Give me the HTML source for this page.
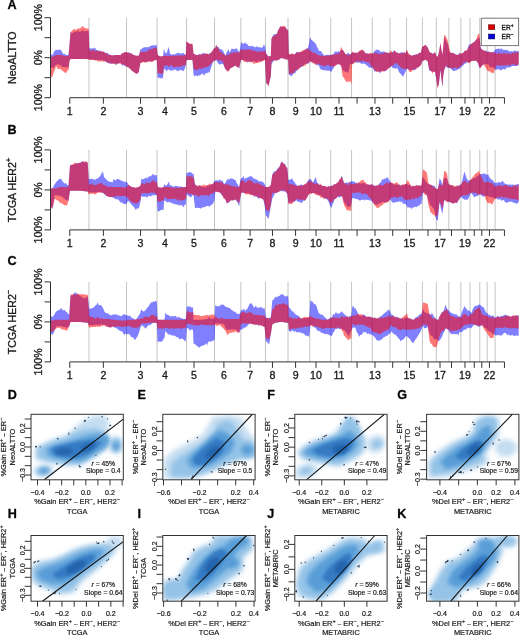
<!DOCTYPE html>
<html><head><meta charset="utf-8"><style>html,body{margin:0;padding:0;background:#fff;}svg{display:block;}</style></head>
<body><svg width="520" height="636" viewBox="0 0 520 636">
<style>text{stroke:#1a1a1a;stroke-width:0.32px;stroke-linejoin:round} text.s{stroke-width:0.2px}</style>
<defs><clipPath id="clipG"><rect x="50.5" y="0" width="468.2" height="636"/></clipPath>
<filter id="b2" x="-50%" y="-50%" width="200%" height="200%"><feGaussianBlur stdDeviation="2"/></filter>
<filter id="b2_2" x="-50%" y="-50%" width="200%" height="200%"><feGaussianBlur stdDeviation="2.2"/></filter>
<filter id="b2_5" x="-50%" y="-50%" width="200%" height="200%"><feGaussianBlur stdDeviation="2.5"/></filter>
<filter id="b3" x="-50%" y="-50%" width="200%" height="200%"><feGaussianBlur stdDeviation="3"/></filter>
<filter id="b3_5" x="-50%" y="-50%" width="200%" height="200%"><feGaussianBlur stdDeviation="3.5"/></filter>
<filter id="b1_5" x="-50%" y="-50%" width="200%" height="200%"><feGaussianBlur stdDeviation="1.5"/></filter>
<filter id="b1" x="-50%" y="-50%" width="200%" height="200%"><feGaussianBlur stdDeviation="1"/></filter>
</defs>
<rect width="520" height="636" fill="#fff"/>
<line x1="88.96" y1="17.7" x2="88.96" y2="97.7" stroke="#c4c4c4" stroke-width="1"/>
<line x1="126.49" y1="17.7" x2="126.49" y2="97.7" stroke="#c4c4c4" stroke-width="1"/>
<line x1="157.05" y1="17.7" x2="157.05" y2="97.7" stroke="#c4c4c4" stroke-width="1"/>
<line x1="186.55" y1="17.7" x2="186.55" y2="97.7" stroke="#c4c4c4" stroke-width="1"/>
<line x1="214.47" y1="17.7" x2="214.47" y2="97.7" stroke="#c4c4c4" stroke-width="1"/>
<line x1="240.88" y1="17.7" x2="240.88" y2="97.7" stroke="#c4c4c4" stroke-width="1"/>
<line x1="265.44" y1="17.7" x2="265.44" y2="97.7" stroke="#c4c4c4" stroke-width="1"/>
<line x1="288.02" y1="17.7" x2="288.02" y2="97.7" stroke="#c4c4c4" stroke-width="1"/>
<line x1="309.81" y1="17.7" x2="309.81" y2="97.7" stroke="#c4c4c4" stroke-width="1"/>
<line x1="330.73" y1="17.7" x2="330.73" y2="97.7" stroke="#c4c4c4" stroke-width="1"/>
<line x1="351.56" y1="17.7" x2="351.56" y2="97.7" stroke="#c4c4c4" stroke-width="1"/>
<line x1="372.22" y1="17.7" x2="372.22" y2="97.7" stroke="#c4c4c4" stroke-width="1"/>
<line x1="389.99" y1="17.7" x2="389.99" y2="97.7" stroke="#c4c4c4" stroke-width="1"/>
<line x1="406.56" y1="17.7" x2="406.56" y2="97.7" stroke="#c4c4c4" stroke-width="1"/>
<line x1="422.38" y1="17.7" x2="422.38" y2="97.7" stroke="#c4c4c4" stroke-width="1"/>
<line x1="436.33" y1="17.7" x2="436.33" y2="97.7" stroke="#c4c4c4" stroke-width="1"/>
<line x1="448.86" y1="17.7" x2="448.86" y2="97.7" stroke="#c4c4c4" stroke-width="1"/>
<line x1="460.9" y1="17.7" x2="460.9" y2="97.7" stroke="#c4c4c4" stroke-width="1"/>
<line x1="470.03" y1="17.7" x2="470.03" y2="97.7" stroke="#c4c4c4" stroke-width="1"/>
<line x1="479.76" y1="17.7" x2="479.76" y2="97.7" stroke="#c4c4c4" stroke-width="1"/>
<line x1="487.18" y1="17.7" x2="487.18" y2="97.7" stroke="#c4c4c4" stroke-width="1"/>
<line x1="495.1" y1="17.7" x2="495.1" y2="97.7" stroke="#c4c4c4" stroke-width="1"/>
<g clip-path="url(#clipG)">
<path d="M50,54.02 L51,54.29 L52,55 L53,54.14 L54,51.81 L55,50.84 L56,49.53 L57,50.12 L58,50.05 L59,49.52 L60,49.64 L61,49.94 L62,52.11 L63,53.61 L64,54.34 L65,53.83 L66,55 L67.25,55 L68.5,55 L69.5,45 L70.5,31.93 L72,33.15 L73,32.93 L74,31.41 L75,31.91 L76,31.29 L77,31.89 L78,30.07 L79,31.44 L80,31.98 L81,31.23 L82,30.89 L83,29.84 L84,31.46 L85,31.19 L86,31.03 L87.35,31.04 L88.7,31.25 L89.3,48.08 L90.65,48.38 L92,48.55 L93,48.2 L94,48.38 L95,47.3 L96,49.69 L97,49.98 L98,50.45 L99,50.92 L100,50.2 L101,51.18 L102,51.64 L103,51.84 L104,51.86 L105,52.68 L106,53.32 L107,52.43 L108,53.52 L109,54.57 L110,54.75 L111,55.12 L112,55.5 L113,55.38 L114,55.25 L115,55.12 L116,55 L117,55 L118,55 L119,55 L120,55 L121,54.73 L122,53.1 L123,53.04 L124,52.84 L125,51.85 L126,52.57 L127,52.46 L128,52.67 L129,52.35 L130,53.43 L131,52.77 L132,54.3 L133,54.66 L134,55 L135.25,55.4 L136.5,55.8 L137.65,55.8 L138.8,55.8 L140.4,49.44 L142,48.67 L143.12,47.85 L144.25,47.3 L145.38,47.2 L146.5,46.97 L147.62,47.59 L148.75,46.99 L149.88,46.21 L151,46.08 L152,45.11 L153,45.45 L154,45.26 L155.4,45.36 L156.8,45.21 L157.6,55 L159,55.75 L160.4,56.5 L161.7,56.25 L163,56 L164,48.49 L165,52.59 L166.5,53.36 L167.65,49.88 L168.8,46.74 L170,53.4 L171.2,54.54 L172.2,54.61 L173.2,54.24 L174.2,54.4 L175.35,54.09 L176.5,53.35 L177.65,53.14 L178.8,52.47 L180,53.87 L181.17,53.53 L182.33,53.16 L183.5,52.9 L184.65,54.15 L185.8,55 L186.5,41.38 L187.53,42.32 L188.57,43.42 L189.6,43.98 L191.05,43.45 L192.5,44.72 L193.5,53.66 L194.77,54.18 L196.03,55.02 L197.3,55 L198.45,54.8 L199.6,54.1 L200.75,54.69 L201.9,53.83 L202.93,53.02 L203.97,53.1 L205,53.54 L206.05,54.11 L207.1,53.72 L208.15,54.67 L209.2,53.3 L210.47,53.16 L211.73,51.68 L213,50.68 L214.07,48.02 L215.13,48.01 L216.2,44.66 L217.35,46.99 L218.5,46.89 L219.65,48.96 L220.8,48.96 L221.9,49.75 L223,50.55 L224.2,53.26 L225.4,55.8 L226.43,53.09 L227.47,50.72 L228.5,48.94 L229.5,52.47 L230.5,50.9 L231.5,48.63 L232.8,48.64 L234.1,49.14 L235.4,48.68 L236.67,48.23 L237.93,50.26 L239.2,52.58 L240.2,47.98 L241.2,41.7 L242.2,43.23 L243.2,43.75 L244.2,43.45 L245.2,42.37 L246.2,43.91 L247.22,43.71 L248.23,45.66 L249.25,45.96 L250.27,46.28 L251.28,46.05 L252.3,45.87 L253.48,46.87 L254.65,46.77 L255.82,47.48 L257,45.9 L258.12,47.54 L259.25,47.09 L260.38,47.42 L261.5,47.76 L262.67,47.35 L263.83,44.58 L265,46.28 L266.2,53.32 L267.35,55.35 L268.5,56.5 L269.65,56.25 L270.8,56 L271.5,38.7 L273,35.44 L274,34.36 L275,34.13 L276,33.69 L277,33.99 L278.1,29.9 L279.2,28.63 L280.2,25.67 L281.2,27.04 L282.2,26.87 L283.2,26.93 L284.2,26.99 L285.35,27.28 L286.5,28.75 L288.2,30.42 L288.8,54.74 L289.87,54.48 L290.93,54.67 L292,53.26 L293,54.45 L294,54.42 L295,54.21 L296.15,52.31 L297.3,52.12 L298.45,52.28 L299.6,52.27 L300.75,52.13 L301.9,51.78 L303.05,51.18 L304.2,50.38 L305.47,49.36 L306.73,48.49 L308,47.63 L309,43.54 L310,37.37 L311.35,39.79 L312.7,40.7 L313.73,42.06 L314.77,42.85 L315.8,43.76 L316.8,46.39 L317.8,47.88 L318.8,50.53 L320,51.15 L321.2,50.91 L322.2,53.29 L323.2,54.15 L324.2,55.8 L325.47,55.27 L326.73,54.73 L328,54.85 L329.07,55.06 L330.13,54.73 L331.2,55 L332.47,54.62 L333.73,53.63 L335,51.62 L336.15,51.44 L337.3,51.64 L338.45,51.37 L339.6,51.82 L341.2,49.63 L342.7,49.91 L343.73,50.83 L344.77,53.57 L345.8,54.32 L346.8,54.18 L347.8,52.41 L348.8,53.42 L350,54.18 L351.6,53.62 L352,52.2 L353,52.41 L354,52.99 L355,52.58 L356,52.96 L357,52.96 L358,52.21 L359.07,51.81 L360.15,50.75 L361.23,51.38 L362.3,49.89 L363.33,50.38 L364.37,52.22 L365.4,53.34 L366.67,53.51 L367.93,53.28 L369.2,53.99 L370.23,53.79 L371.27,53.54 L372.3,54 L373.45,52.51 L374.6,50.67 L375.63,50.56 L376.67,49.6 L377.7,50.05 L378.85,49.5 L380,51.39 L381.15,51.67 L382.3,51.89 L383.45,51.21 L384.6,51.82 L385.75,52.21 L386.9,52.45 L388.2,52.71 L389.5,53.15 L390.8,52.96 L391.9,51.39 L393,51.99 L394.6,50.23 L395.8,52.23 L397,52.23 L398.27,53.13 L399.53,53.39 L400.8,52.62 L401.9,52.06 L403,52.4 L404.2,53.33 L405.4,53.55 L406.9,50.29 L408,53.87 L409.17,54.96 L410.33,55.03 L411.5,55.8 L412.68,55.4 L413.85,55 L415.02,54.83 L416.2,53.97 L417.35,54.46 L418.5,53.36 L419.65,52.43 L420.8,53.37 L422.3,46.49 L423.33,46.21 L424.37,45.9 L425.4,45.08 L426.55,45.96 L427.7,47.39 L429.2,51.82 L430.23,52.79 L431.27,52.47 L432.3,53.57 L433.65,53.45 L435,51.96 L436.3,56 L437.4,57 L438.7,53.28 L440.5,43.68 L441.5,50.7 L442.4,55 L443.3,48.21 L444.2,37.14 L446,40.42 L447.8,44.52 L449.7,52.97 L451.05,52.87 L452.4,53.05 L453.6,52.47 L454.8,54.14 L456,54.79 L457.15,54.65 L458.3,54.84 L459.45,52.3 L460.6,54.9 L462,53.6 L463.4,52.4 L464.6,51.12 L465.8,50.54 L467,51.08 L468.4,45.83 L469.8,44.31 L471,44.34 L472.2,43.17 L473.4,42.55 L474.8,41.21 L476.2,39.66 L478,38.23 L479.4,37.29 L480.7,47.5 L482.1,49.61 L483.5,50.95 L484.7,50.85 L485.9,50.3 L487.1,51.92 L488.33,50.88 L489.57,52.29 L490.8,52.54 L492.15,51.64 L493.5,52.24 L495.3,49.48 L496.45,48.91 L497.6,49.09 L498.75,48.23 L499.9,49.46 L501,48.2 L502.1,48.9 L503.2,49.98 L504.3,49.64 L505.4,49.95 L506.5,49.69 L507.6,50.52 L508.7,50.51 L509.8,51.73 L510.9,50.89 L511.98,51.18 L513.06,51.8 L514.14,50.53 L515.22,50.49 L516.3,51.23 L517.53,50.89 L518.77,50.69 L520,50.43 L520,64.41 L518.77,65.11 L517.53,65.94 L516.3,66.06 L515.22,65.94 L514.14,65.88 L513.06,66.12 L511.98,66.23 L510.9,66.85 L509.8,67.41 L508.7,67.42 L507.6,67.38 L506.5,67.53 L505.4,69.73 L504.3,69.3 L503.2,68.99 L502.1,69.45 L501,70.47 L499.9,70.05 L498.75,69.06 L497.6,69.23 L496.45,69.65 L495.3,69.73 L493.5,67.61 L492.15,67.09 L490.8,67.81 L489.57,66.53 L488.33,64.83 L487.1,63.64 L485.9,64.27 L484.7,63.72 L483.5,64.48 L482.1,65.72 L480.7,67.2 L479.4,68 L478,62.88 L476.2,60.7 L474.8,60.7 L473.4,60.7 L472.2,60.7 L471,61.34 L469.8,61.92 L468.4,62.83 L467,62.09 L465.8,63.64 L464.6,63.41 L463.4,65.18 L462,66.37 L460.6,67.7 L459.45,68.63 L458.3,69.37 L457.15,69.92 L456,70.19 L454.8,70.68 L453.6,71.25 L452.4,70.37 L451.05,68.65 L449.7,67.92 L447.8,68 L446,66.17 L444.2,70.05 L443.3,75.56 L442.4,86.96 L441.5,79.83 L440.5,70.17 L438.7,85.43 L437.4,86.45 L436.3,78.64 L435,72.07 L433.65,71.58 L432.3,71.89 L431.27,70.91 L430.23,71.11 L429.2,70.4 L427.7,61 L426.55,60.4 L425.4,59.6 L424.37,60.13 L423.33,60.67 L422.3,61.36 L420.8,65.28 L419.65,65.87 L418.5,67.52 L417.35,67.5 L416.2,68.56 L415.02,70.37 L413.85,70.17 L412.68,69.51 L411.5,70.51 L410.33,69.79 L409.17,70.04 L408,68.94 L406.9,68.51 L405.4,72.03 L404.2,74.43 L403,76.63 L401.9,75.28 L400.8,74.02 L399.53,72.84 L398.27,70.47 L397,67.58 L395.8,68.99 L394.6,68.22 L393,68.23 L391.9,66.88 L390.8,66.15 L389.5,67.88 L388.2,68.28 L386.9,69.96 L385.75,70.51 L384.6,71.75 L383.45,70.87 L382.3,70.7 L381.15,71.19 L380,73.67 L378.85,71.22 L377.7,71.52 L376.67,71.32 L375.63,71.18 L374.6,71.7 L373.45,69.14 L372.3,67.64 L371.27,67.82 L370.23,67.59 L369.2,67.64 L367.93,66.16 L366.67,65.35 L365.4,64.14 L364.37,63.71 L363.33,63.19 L362.3,63.96 L361.23,63.83 L360.15,62.7 L359.07,62.33 L358,63.08 L357,62.53 L356,62.44 L355,62.04 L354,62.6 L353,63.66 L352,64.18 L351.6,63.63 L350,64.3 L348.8,71.37 L347.8,73.14 L346.8,71.5 L345.8,72.14 L344.77,71.61 L343.73,70.37 L342.7,71.26 L341.2,65 L339.6,64.67 L338.45,63.98 L337.3,64.31 L336.15,64.72 L335,65.24 L333.73,67.64 L332.47,69.4 L331.2,72.32 L330.13,70.86 L329.07,70.86 L328,70.5 L326.73,70.96 L325.47,70 L324.2,70.52 L323.2,70.05 L322.2,69.71 L321.2,69.67 L320,68.19 L318.8,65.28 L317.8,65.28 L316.8,65.32 L315.8,63.56 L314.77,63.45 L313.73,62.97 L312.7,62.12 L311.35,62.16 L310,60.77 L309,62.91 L308,63.84 L306.73,63.5 L305.47,64.33 L304.2,64.35 L303.05,66.34 L301.9,66.62 L300.75,67.44 L299.6,67.72 L298.45,68.7 L297.3,70.38 L296.15,71.24 L295,73.81 L294,72.72 L293,74.55 L292,75.47 L290.93,76.57 L289.87,74.64 L288.8,74.8 L288.2,59.6 L286.5,59.6 L285.35,59.2 L284.2,58.8 L283.2,58.53 L282.2,58.27 L281.2,58 L280.2,58.8 L279.2,59.6 L278.1,60 L277,60.4 L276,60.6 L275,60.09 L274,60.84 L273,61.44 L271.5,64.54 L270.8,76.72 L269.65,80.6 L268.5,86.08 L267.35,84.21 L266.2,83.45 L265,59.6 L263.83,60.07 L262.67,60.53 L261.5,61.44 L260.38,61.31 L259.25,60.83 L258.12,61.28 L257,62.03 L255.82,62.45 L254.65,60.99 L253.48,60.82 L252.3,62.17 L251.28,61.18 L250.27,61.72 L249.25,61.68 L248.23,60.85 L247.22,62.87 L246.2,61.37 L245.2,60.2 L244.2,60.56 L243.2,60.24 L242.2,59.92 L241.2,59.6 L240.2,63.17 L239.2,68.7 L237.93,67.07 L236.67,66.55 L235.4,65.81 L234.1,65.96 L232.8,67.12 L231.5,67.58 L230.5,68.28 L229.5,70.12 L228.5,70.58 L227.47,70.27 L226.43,70.61 L225.4,69.13 L224.2,66.38 L223,63.72 L221.9,64 L220.8,64.29 L219.65,64.38 L218.5,63.67 L217.35,62.08 L216.2,60 L215.13,60.67 L214.07,61.03 L213,61.64 L211.73,65.43 L210.47,69.42 L209.2,72.96 L208.15,72.04 L207.1,73.17 L206.05,73 L205,73.9 L203.97,75.77 L202.93,73.49 L201.9,73.85 L200.75,74.78 L199.6,75.61 L198.45,75.42 L197.3,76.61 L196.03,74.95 L194.77,76.38 L193.5,74.7 L192.5,60 L191.05,60 L189.6,60 L188.57,60 L187.53,60 L186.5,60 L185.8,65.43 L184.65,68.91 L183.5,71.36 L182.33,70.45 L181.17,70.17 L180,70.09 L178.8,70.39 L177.65,71.39 L176.5,70.3 L175.35,69.56 L174.2,69.83 L173.2,70.74 L172.2,69.61 L171.2,71.41 L170,70.06 L168.8,69.41 L167.65,69.64 L166.5,71.47 L165,69.01 L164,69.16 L163,77.61 L161.7,78.84 L160.4,77.97 L159,77.68 L157.6,77.86 L156.8,59.6 L155.4,60.3 L154,60.36 L153,61.54 L152,60.54 L151,61.81 L149.88,60.72 L148.75,61.7 L147.62,61.47 L146.5,61.78 L145.38,61.67 L144.25,62.6 L143.12,61.42 L142,61.64 L140.4,63.03 L138.8,71.51 L137.65,73.3 L136.5,73.92 L135.25,72.85 L134,72.17 L133,71.38 L132,70.89 L131,69.3 L130,68.74 L129,67.49 L128,66.63 L127,67.01 L126,65.84 L125,66.38 L124,65.04 L123,64.45 L122,66.31 L121,62.85 L120,63.36 L119,63.42 L118,63.4 L117,63.27 L116,64.86 L115,64.45 L114,63.53 L113,63.21 L112,63.56 L111,63.89 L110,63.54 L109,63.46 L108,62.75 L107,62.52 L106,61.92 L105,60.9 L104,60.5 L103,60.38 L102,60.25 L101,60.12 L100,60 L99,60 L98,60 L97,60 L96,60 L95,59.88 L94,59.75 L93,59.62 L92,59.5 L90.65,59.5 L89.3,59.5 L88.7,59 L87.35,59 L86,59 L85,59 L84,59 L83,59 L82,59 L81,59 L80,59 L79,59 L78,59 L77,59 L76,59 L75,59 L74,59 L73,59 L72,59 L70.5,59 L69.5,60.6 L68.5,67.73 L67.25,67.05 L66,67.69 L65,67.05 L64,67.01 L63,66.8 L62,67.42 L61,65.03 L60,65.27 L59,65.18 L58,63.3 L57,64.96 L56,64.43 L55,65.71 L54,67.71 L53,67.62 L52,68.08 L51,67.62 L50,65.53Z" fill="#0000ff" fill-opacity="0.5"/>
<path d="M50,56 L51,56.5 L52,57 L53,56.5 L54,56 L55,55.5 L56,55 L57,55 L58,55 L59,55 L60,55 L61,55 L62,55 L63,55.5 L64,56 L65,56 L66,56 L67.25,56 L68.5,56 L69.5,44.71 L70.5,32.35 L72,30.85 L73,29.92 L74,28.72 L75,29.5 L76,29.66 L77,29.01 L78,28.44 L79,28.25 L80,28.7 L81,27.57 L82,26.39 L83,25.95 L84,27.7 L85,28.08 L86,28.17 L87.35,28.6 L88.7,28.71 L89.3,49.82 L90.65,50.66 L92,50.28 L93,49.1 L94,50.71 L95,50.81 L96,51.01 L97,50.48 L98,50.95 L99,51.28 L100,51.18 L101,51.71 L102,51.53 L103,51.25 L104,52.03 L105,52.97 L106,53.02 L107,53.93 L108,54.68 L109,55.01 L110,54.75 L111,55.12 L112,55.5 L113,55.38 L114,55.25 L115,55.12 L116,55 L117,55 L118,55 L119,55 L120,55 L121,55.11 L122,52.84 L123,53.66 L124,52.72 L125,52.1 L126,52.37 L127,51.92 L128,53 L129,52.55 L130,53.68 L131,53.73 L132,53.11 L133,55.12 L134,55 L135.25,55.4 L136.5,55.8 L137.65,55.8 L138.8,55.8 L140.4,51.13 L142,52.25 L143.12,52.04 L144.25,51.6 L145.38,52.06 L146.5,51.68 L147.62,50.76 L148.75,49.19 L149.88,49.51 L151,49.37 L152,48.83 L153,48.58 L154,47.92 L155.4,48.11 L156.8,47.71 L157.6,55 L159,55.75 L160.4,56.5 L161.7,56.25 L163,56 L164,55.8 L165,55.8 L166.5,55.8 L167.65,55.8 L168.8,55.8 L170,55.8 L171.2,55.8 L172.2,55.8 L173.2,55.8 L174.2,55.8 L175.35,55.72 L176.5,55.65 L177.65,55.58 L178.8,55.5 L180,55.5 L181.17,55.5 L182.33,55.5 L183.5,55.5 L184.65,55.25 L185.8,55 L186.5,41.62 L187.53,42.35 L188.57,42.87 L189.6,43.81 L191.05,44.04 L192.5,43.39 L193.5,53.26 L194.77,54.49 L196.03,54.88 L197.3,55 L198.45,54.8 L199.6,54.72 L200.75,54.2 L201.9,54.87 L202.93,53.98 L203.97,54.15 L205,53.9 L206.05,52.89 L207.1,53.79 L208.15,54.02 L209.2,54.84 L210.47,52.82 L211.73,52.23 L213,49.29 L214.07,48.8 L215.13,47.97 L216.2,45.61 L217.35,47.02 L218.5,48.43 L219.65,50.73 L220.8,52.36 L221.9,52.7 L223,53.86 L224.2,53.93 L225.4,55.8 L226.43,55.27 L227.47,54.73 L228.5,54.47 L229.5,54.59 L230.5,53.7 L231.5,52.05 L232.8,53.13 L234.1,52.17 L235.4,51.75 L236.67,52.94 L237.93,51.76 L239.2,52.71 L240.2,50.63 L241.2,49.63 L242.2,49.06 L243.2,50.19 L244.2,49.25 L245.2,50.23 L246.2,49.48 L247.22,49.66 L248.23,48.96 L249.25,49.25 L250.27,50.48 L251.28,48.89 L252.3,51.09 L253.48,50.61 L254.65,50.66 L255.82,51.26 L257,51.82 L258.12,51.84 L259.25,51.59 L260.38,50.92 L261.5,51.57 L262.67,51.49 L263.83,51.37 L265,50.8 L266.2,53.93 L267.35,55.35 L268.5,56.5 L269.65,56.25 L270.8,56 L271.5,38.36 L273,36.31 L274,36.2 L275,35.23 L276,34.56 L277,33.87 L278.1,30.43 L279.2,28.18 L280.2,27.02 L281.2,26.47 L282.2,26.02 L283.2,26.15 L284.2,25.56 L285.35,26.73 L286.5,29.43 L288.2,30.06 L288.8,53.35 L289.87,54.38 L290.93,53.45 L292,53.82 L293,54.3 L294,53.94 L295,53.96 L296.15,53.5 L297.3,51.85 L298.45,52.41 L299.6,52.32 L300.75,51.49 L301.9,50.98 L303.05,50.34 L304.2,50.06 L305.47,49.48 L306.73,49.28 L308,48.29 L309,49.66 L310,50.6 L311.35,51.42 L312.7,52.39 L313.73,52.67 L314.77,53.18 L315.8,53.63 L316.8,53.67 L317.8,55.16 L318.8,55 L320,55.4 L321.2,55.8 L322.2,55.8 L323.2,55.8 L324.2,55.8 L325.47,55.8 L326.73,55.8 L328,55.8 L329.07,55.53 L330.13,55.27 L331.2,55 L332.47,54.73 L333.73,54.75 L335,54.33 L336.15,53.46 L337.3,54.42 L338.45,52.87 L339.6,53.22 L341.2,46.48 L342.7,50.22 L343.73,51.16 L344.77,53.1 L345.8,54.25 L346.8,54.81 L347.8,54.73 L348.8,55 L350,55.2 L351.6,53.25 L352,51.38 L353,52.01 L354,52.7 L355,52.47 L356,52.86 L357,53.19 L358,52.3 L359.07,51.16 L360.15,50.12 L361.23,50.02 L362.3,49.13 L363.33,50.74 L364.37,51.11 L365.4,53.38 L366.67,53.25 L367.93,53.92 L369.2,53.5 L370.23,52.81 L371.27,53.05 L372.3,53.18 L373.45,53.68 L374.6,53.06 L375.63,52.55 L376.67,52.68 L377.7,54.03 L378.85,53.81 L380,54 L381.15,53.44 L382.3,53.28 L383.45,53.5 L384.6,52.74 L385.75,52.1 L386.9,53.18 L388.2,53.28 L389.5,52.33 L390.8,50.34 L391.9,52.18 L393,53.15 L394.6,49.91 L395.8,52.01 L397,52.94 L398.27,53.16 L399.53,53.17 L400.8,53.34 L401.9,53.7 L403,53.36 L404.2,51.7 L405.4,53.18 L406.9,49.53 L408,52.62 L409.17,53.67 L410.33,55.03 L411.5,55.8 L412.68,55.4 L413.85,55 L415.02,55.05 L416.2,54.63 L417.35,54.39 L418.5,54.05 L419.65,52.19 L420.8,53.05 L422.3,46.21 L423.33,46.49 L424.37,45.3 L425.4,44.42 L426.55,46.56 L427.7,47.21 L429.2,51.02 L430.23,52.53 L431.27,53.04 L432.3,54.11 L433.65,53.44 L435,52.1 L436.3,56 L437.4,57 L438.7,53.32 L440.5,42.44 L441.5,49.65 L442.4,55 L443.3,45.01 L444.2,34.78 L446,36.53 L447.8,40.85 L449.7,50.52 L451.05,53.11 L452.4,52.92 L453.6,53.38 L454.8,53.65 L456,54.83 L457.15,54.63 L458.3,54.92 L459.45,54.15 L460.6,52.79 L462,53.24 L463.4,52.98 L464.6,50.95 L465.8,50.36 L467,50.28 L468.4,47.76 L469.8,45.36 L471,44.28 L472.2,42.98 L473.4,42.67 L474.8,41.56 L476.2,39.4 L478,33.93 L479.4,33.8 L480.7,48.38 L482.1,49.84 L483.5,49.68 L484.7,51.06 L485.9,51.4 L487.1,51.76 L488.33,52 L489.57,51.91 L490.8,51.73 L492.15,52.75 L493.5,52.55 L495.3,52.51 L496.45,53.82 L497.6,53.88 L498.75,52.1 L499.9,53.89 L501,52.68 L502.1,53.97 L503.2,53.32 L504.3,52.6 L505.4,53.91 L506.5,53.61 L507.6,52.98 L508.7,53.94 L509.8,53.5 L510.9,53.76 L511.98,53.21 L513.06,52.45 L514.14,53.33 L515.22,51.74 L516.3,52.77 L517.53,52.1 L518.77,52.45 L520,52.32 L520,64.87 L518.77,63.91 L517.53,64.82 L516.3,64.92 L515.22,65.61 L514.14,64.45 L513.06,64.23 L511.98,64.47 L510.9,64.53 L509.8,66.44 L508.7,65 L507.6,64.83 L506.5,65.87 L505.4,64.79 L504.3,66 L503.2,65.35 L502.1,65.18 L501,65.76 L499.9,65.63 L498.75,65.55 L497.6,65.28 L496.45,65.84 L495.3,67.95 L493.5,73.39 L492.15,72.87 L490.8,72.48 L489.57,71.02 L488.33,71.52 L487.1,70.17 L485.9,67.96 L484.7,66.07 L483.5,64.39 L482.1,65.34 L480.7,67.9 L479.4,67.49 L478,63.35 L476.2,60.7 L474.8,60.7 L473.4,60.7 L472.2,60.97 L471,61.23 L469.8,63.17 L468.4,62.64 L467,62 L465.8,61.7 L464.6,62.48 L463.4,62.88 L462,65.06 L460.6,65.71 L459.45,67.82 L458.3,67.42 L457.15,68.86 L456,67.32 L454.8,67.83 L453.6,67.96 L452.4,68.97 L451.05,67.93 L449.7,67.62 L447.8,67.45 L446,65.35 L444.2,69.81 L443.3,75.05 L442.4,87.04 L441.5,79.28 L440.5,69.44 L438.7,85.06 L437.4,88.29 L436.3,78.35 L435,71.43 L433.65,71.71 L432.3,73.43 L431.27,71.18 L430.23,70.01 L429.2,69.48 L427.7,61.75 L426.55,60.4 L425.4,59.6 L424.37,60.13 L423.33,60.67 L422.3,60.67 L420.8,65.53 L419.65,66.48 L418.5,67.31 L417.35,67.52 L416.2,69.13 L415.02,69.04 L413.85,69.26 L412.68,70.33 L411.5,71.48 L410.33,72.33 L409.17,71.44 L408,69.01 L406.9,68.83 L405.4,68.86 L404.2,69.16 L403,68.44 L401.9,68.2 L400.8,68.08 L399.53,65.81 L398.27,65.12 L397,63.39 L395.8,63.05 L394.6,63.78 L393,65.87 L391.9,65.87 L390.8,66.06 L389.5,68.1 L388.2,68.44 L386.9,70.27 L385.75,70.86 L384.6,70.69 L383.45,71.67 L382.3,71.51 L381.15,71.6 L380,71.21 L378.85,72.33 L377.7,71.51 L376.67,72.14 L375.63,70.87 L374.6,70.2 L373.45,68.57 L372.3,66.6 L371.27,66.65 L370.23,64.77 L369.2,62.17 L367.93,62.63 L366.67,61.71 L365.4,62 L364.37,60.95 L363.33,60.75 L362.3,60.9 L361.23,61.39 L360.15,61.44 L359.07,61.77 L358,61.05 L357,61.13 L356,61.43 L355,62.78 L354,62.9 L353,64.59 L352,63.82 L351.6,83.91 L350,81.07 L348.8,82.1 L347.8,81.53 L346.8,82.21 L345.8,81.33 L344.77,79.51 L343.73,77.61 L342.7,76.7 L341.2,66.67 L339.6,63.95 L338.45,64.29 L337.3,64.62 L336.15,65.16 L335,66.56 L333.73,66.14 L332.47,66.07 L331.2,66.59 L330.13,66 L329.07,65.47 L328,65.1 L326.73,65.17 L325.47,65.78 L324.2,65.94 L323.2,66.8 L322.2,64.97 L321.2,65.26 L320,64.96 L318.8,63.63 L317.8,63.49 L316.8,64.33 L315.8,65.09 L314.77,64.17 L313.73,63.33 L312.7,63.25 L311.35,62.01 L310,61.35 L309,62.14 L308,63.58 L306.73,63.17 L305.47,65.66 L304.2,65.43 L303.05,66.57 L301.9,65.83 L300.75,66.87 L299.6,68.33 L298.45,69.49 L297.3,69.8 L296.15,69.85 L295,71.35 L294,71.91 L293,73.97 L292,73.23 L290.93,73.56 L289.87,73.91 L288.8,73.43 L288.2,59.6 L286.5,59.6 L285.35,59.2 L284.2,58.8 L283.2,58.53 L282.2,58.27 L281.2,58 L280.2,58.8 L279.2,59.6 L278.1,60 L277,60.4 L276,60.6 L275,60.28 L274,60.83 L273,60.58 L271.5,61.44 L270.8,76.08 L269.65,81.27 L268.5,86.74 L267.35,83.72 L266.2,82.97 L265,60 L263.83,60.67 L262.67,61.34 L261.5,61.32 L260.38,62.48 L259.25,62.32 L258.12,63.02 L257,63.19 L255.82,62.71 L254.65,63.81 L253.48,63.74 L252.3,62.13 L251.28,62.03 L250.27,62.26 L249.25,62.13 L248.23,61.85 L247.22,61.55 L246.2,62.31 L245.2,61.76 L244.2,61.9 L243.2,60.56 L242.2,60.08 L241.2,59.6 L240.2,63.17 L239.2,67.72 L237.93,67.62 L236.67,67.09 L235.4,65.53 L234.1,66.17 L232.8,67.16 L231.5,67.96 L230.5,67.99 L229.5,69.56 L228.5,71.43 L227.47,71.91 L226.43,69.71 L225.4,68.95 L224.2,66.14 L223,61.99 L221.9,60.81 L220.8,60.4 L219.65,60.45 L218.5,60.5 L217.35,60.05 L216.2,59.6 L215.13,60.13 L214.07,60.67 L213,61.63 L211.73,63.13 L210.47,64.54 L209.2,65.44 L208.15,66.4 L207.1,66.81 L206.05,67.04 L205,67.5 L203.97,68.58 L202.93,67.53 L201.9,68.83 L200.75,69.12 L199.6,68.52 L198.45,69.28 L197.3,69.72 L196.03,70.33 L194.77,69.51 L193.5,68.61 L192.5,60 L191.05,60 L189.6,60 L188.57,60 L187.53,60 L186.5,60 L185.8,65.2 L184.65,65.49 L183.5,65.68 L182.33,65.62 L181.17,66.15 L180,67.01 L178.8,66.94 L177.65,66.37 L176.5,67.11 L175.35,67.16 L174.2,67.19 L173.2,67.09 L172.2,65.77 L171.2,65.35 L170,65.82 L168.8,67.43 L167.65,65.34 L166.5,65.82 L165,65.58 L164,65.89 L163,73.38 L161.7,74.46 L160.4,72.92 L159,72.95 L157.6,73.5 L156.8,59.6 L155.4,60.3 L154,60.45 L153,61.64 L152,62.05 L151,62.01 L149.88,61.79 L148.75,60.95 L147.62,62.59 L146.5,62.08 L145.38,63.01 L144.25,61.93 L143.12,61.98 L142,63.23 L140.4,62.25 L138.8,72.49 L137.65,73.2 L136.5,73.58 L135.25,73.47 L134,72.03 L133,71.43 L132,70.44 L131,70.28 L130,68.14 L129,68.51 L128,67.21 L127,67.13 L126,66 L125,65.27 L124,64.93 L123,64.73 L122,64.02 L121,64.16 L120,62.91 L119,63.35 L118,63.81 L117,64.22 L116,64.7 L115,63 L114,63.84 L113,63.86 L112,64.02 L111,63.13 L110,62.98 L109,62.87 L108,63.52 L107,62.01 L106,61.74 L105,61.09 L104,62.21 L103,61.57 L102,60.48 L101,61.96 L100,61.52 L99,60.96 L98,62.05 L97,60.62 L96,60.5 L95,60.38 L94,60.25 L93,60.12 L92,60 L90.65,60 L89.3,60 L88.7,59.5 L87.35,59.25 L86,59 L85,59 L84,59 L83,59 L82,59 L81,59 L80,59 L79,59 L78,59 L77,59 L76,59 L75,59 L74,59 L73,59 L72,59 L70.5,59 L69.5,61.54 L68.5,70.14 L67.25,70.87 L66,73.58 L65,72.45 L64,72.18 L63,70.79 L62,70.66 L61,69.3 L60,69 L59,68.54 L58,69.58 L57,67.43 L56,66.33 L55,69.52 L54,71.47 L53,74.64 L52,77.57 L51,76.9 L50,75.38Z" fill="#ff0000" fill-opacity="0.53"/>
</g>
<path d="M50.5,17.7 V97.7" stroke="#333" stroke-width="1" fill="none"/>
<line x1="44.5" y1="17.7" x2="50.5" y2="17.7" stroke="#333" stroke-width="1"/>
<line x1="44.5" y1="37.7" x2="50.5" y2="37.7" stroke="#333" stroke-width="1"/>
<line x1="44.5" y1="57.7" x2="50.5" y2="57.7" stroke="#333" stroke-width="1"/>
<line x1="44.5" y1="77.7" x2="50.5" y2="77.7" stroke="#333" stroke-width="1"/>
<line x1="44.5" y1="97.7" x2="50.5" y2="97.7" stroke="#333" stroke-width="1"/>
<text transform="translate(41.6,17.7) rotate(-90)" text-anchor="middle" font-size="10.6" fill="#1a1a1a" font-family="Liberation Sans, Arial, sans-serif">100%</text>
<text transform="translate(41.6,57.7) rotate(-90)" text-anchor="middle" font-size="10.6" fill="#1a1a1a" font-family="Liberation Sans, Arial, sans-serif">0%</text>
<text transform="translate(41.6,97.7) rotate(-90)" text-anchor="middle" font-size="10.6" fill="#1a1a1a" font-family="Liberation Sans, Arial, sans-serif">100%</text>
<path d="M69.79,97.7 H504.45" stroke="#333" stroke-width="1" fill="none"/>
<line x1="69.79" y1="97.7" x2="69.79" y2="103.7" stroke="#333" stroke-width="1"/>
<text x="69.79" y="114.5" text-anchor="middle" font-size="10.6" fill="#1a1a1a" font-family="Liberation Sans, Arial, sans-serif">1</text>
<line x1="103.36" y1="97.7" x2="103.36" y2="103.7" stroke="#333" stroke-width="1"/>
<text x="103.36" y="114.5" text-anchor="middle" font-size="10.6" fill="#1a1a1a" font-family="Liberation Sans, Arial, sans-serif">2</text>
<line x1="140.54" y1="97.7" x2="140.54" y2="103.7" stroke="#333" stroke-width="1"/>
<text x="140.54" y="114.5" text-anchor="middle" font-size="10.6" fill="#1a1a1a" font-family="Liberation Sans, Arial, sans-serif">3</text>
<line x1="164.83" y1="97.7" x2="164.83" y2="103.7" stroke="#333" stroke-width="1"/>
<text x="164.83" y="114.5" text-anchor="middle" font-size="10.6" fill="#1a1a1a" font-family="Liberation Sans, Arial, sans-serif">4</text>
<line x1="194.02" y1="97.7" x2="194.02" y2="103.7" stroke="#333" stroke-width="1"/>
<text x="194.02" y="114.5" text-anchor="middle" font-size="10.6" fill="#1a1a1a" font-family="Liberation Sans, Arial, sans-serif">5</text>
<line x1="223.88" y1="97.7" x2="223.88" y2="103.7" stroke="#333" stroke-width="1"/>
<text x="223.88" y="114.5" text-anchor="middle" font-size="10.6" fill="#1a1a1a" font-family="Liberation Sans, Arial, sans-serif">6</text>
<line x1="250.12" y1="97.7" x2="250.12" y2="103.7" stroke="#333" stroke-width="1"/>
<text x="250.12" y="114.5" text-anchor="middle" font-size="10.6" fill="#1a1a1a" font-family="Liberation Sans, Arial, sans-serif">7</text>
<line x1="272.47" y1="97.7" x2="272.47" y2="103.7" stroke="#333" stroke-width="1"/>
<text x="272.47" y="114.5" text-anchor="middle" font-size="10.6" fill="#1a1a1a" font-family="Liberation Sans, Arial, sans-serif">8</text>
<line x1="295.58" y1="97.7" x2="295.58" y2="103.7" stroke="#333" stroke-width="1"/>
<text x="295.58" y="114.5" text-anchor="middle" font-size="10.6" fill="#1a1a1a" font-family="Liberation Sans, Arial, sans-serif">9</text>
<line x1="316.02" y1="97.7" x2="316.02" y2="103.7" stroke="#333" stroke-width="1"/>
<text x="316.02" y="114.5" text-anchor="middle" font-size="10.6" fill="#1a1a1a" font-family="Liberation Sans, Arial, sans-serif">10</text>
<line x1="339.02" y1="97.7" x2="339.02" y2="103.7" stroke="#333" stroke-width="1"/>
<text x="339.02" y="114.5" text-anchor="middle" font-size="10.6" fill="#1a1a1a" font-family="Liberation Sans, Arial, sans-serif">11</text>
<line x1="357.09" y1="97.7" x2="357.09" y2="103.7" stroke="#333" stroke-width="1"/>
<line x1="374.98" y1="97.7" x2="374.98" y2="103.7" stroke="#333" stroke-width="1"/>
<text x="374.98" y="114.5" text-anchor="middle" font-size="10.6" fill="#1a1a1a" font-family="Liberation Sans, Arial, sans-serif">13</text>
<line x1="392.71" y1="97.7" x2="392.71" y2="103.7" stroke="#333" stroke-width="1"/>
<line x1="409.49" y1="97.7" x2="409.49" y2="103.7" stroke="#333" stroke-width="1"/>
<text x="409.49" y="114.5" text-anchor="middle" font-size="10.6" fill="#1a1a1a" font-family="Liberation Sans, Arial, sans-serif">15</text>
<line x1="428.03" y1="97.7" x2="428.03" y2="103.7" stroke="#333" stroke-width="1"/>
<line x1="440.03" y1="97.7" x2="440.03" y2="103.7" stroke="#333" stroke-width="1"/>
<text x="440.03" y="114.5" text-anchor="middle" font-size="10.6" fill="#1a1a1a" font-family="Liberation Sans, Arial, sans-serif">17</text>
<line x1="451.51" y1="97.7" x2="451.51" y2="103.7" stroke="#333" stroke-width="1"/>
<line x1="464.99" y1="97.7" x2="464.99" y2="103.7" stroke="#333" stroke-width="1"/>
<text x="464.99" y="114.5" text-anchor="middle" font-size="10.6" fill="#1a1a1a" font-family="Liberation Sans, Arial, sans-serif">19</text>
<line x1="474.27" y1="97.7" x2="474.27" y2="103.7" stroke="#333" stroke-width="1"/>
<line x1="481.79" y1="97.7" x2="481.79" y2="103.7" stroke="#333" stroke-width="1"/>
<line x1="489.45" y1="97.7" x2="489.45" y2="103.7" stroke="#333" stroke-width="1"/>
<text x="489.45" y="114.5" text-anchor="middle" font-size="10.6" fill="#1a1a1a" font-family="Liberation Sans, Arial, sans-serif">22</text>
<line x1="504.45" y1="97.7" x2="504.45" y2="103.7" stroke="#333" stroke-width="1"/>
<text transform="translate(15.6,57.7) rotate(-90)" text-anchor="middle" font-size="10.6" fill="#1a1a1a" font-family="Liberation Sans, Arial, sans-serif">NeoALTTO</text>
<text x="7.6" y="9" font-size="12.6" font-weight="bold" fill="#000" font-family="Liberation Sans, Arial, sans-serif">A</text>
<line x1="88.96" y1="149.9" x2="88.96" y2="229.9" stroke="#c4c4c4" stroke-width="1"/>
<line x1="126.49" y1="149.9" x2="126.49" y2="229.9" stroke="#c4c4c4" stroke-width="1"/>
<line x1="157.05" y1="149.9" x2="157.05" y2="229.9" stroke="#c4c4c4" stroke-width="1"/>
<line x1="186.55" y1="149.9" x2="186.55" y2="229.9" stroke="#c4c4c4" stroke-width="1"/>
<line x1="214.47" y1="149.9" x2="214.47" y2="229.9" stroke="#c4c4c4" stroke-width="1"/>
<line x1="240.88" y1="149.9" x2="240.88" y2="229.9" stroke="#c4c4c4" stroke-width="1"/>
<line x1="265.44" y1="149.9" x2="265.44" y2="229.9" stroke="#c4c4c4" stroke-width="1"/>
<line x1="288.02" y1="149.9" x2="288.02" y2="229.9" stroke="#c4c4c4" stroke-width="1"/>
<line x1="309.81" y1="149.9" x2="309.81" y2="229.9" stroke="#c4c4c4" stroke-width="1"/>
<line x1="330.73" y1="149.9" x2="330.73" y2="229.9" stroke="#c4c4c4" stroke-width="1"/>
<line x1="351.56" y1="149.9" x2="351.56" y2="229.9" stroke="#c4c4c4" stroke-width="1"/>
<line x1="372.22" y1="149.9" x2="372.22" y2="229.9" stroke="#c4c4c4" stroke-width="1"/>
<line x1="389.99" y1="149.9" x2="389.99" y2="229.9" stroke="#c4c4c4" stroke-width="1"/>
<line x1="406.56" y1="149.9" x2="406.56" y2="229.9" stroke="#c4c4c4" stroke-width="1"/>
<line x1="422.38" y1="149.9" x2="422.38" y2="229.9" stroke="#c4c4c4" stroke-width="1"/>
<line x1="436.33" y1="149.9" x2="436.33" y2="229.9" stroke="#c4c4c4" stroke-width="1"/>
<line x1="448.86" y1="149.9" x2="448.86" y2="229.9" stroke="#c4c4c4" stroke-width="1"/>
<line x1="460.9" y1="149.9" x2="460.9" y2="229.9" stroke="#c4c4c4" stroke-width="1"/>
<line x1="470.03" y1="149.9" x2="470.03" y2="229.9" stroke="#c4c4c4" stroke-width="1"/>
<line x1="479.76" y1="149.9" x2="479.76" y2="229.9" stroke="#c4c4c4" stroke-width="1"/>
<line x1="487.18" y1="149.9" x2="487.18" y2="229.9" stroke="#c4c4c4" stroke-width="1"/>
<line x1="495.1" y1="149.9" x2="495.1" y2="229.9" stroke="#c4c4c4" stroke-width="1"/>
<g clip-path="url(#clipG)">
<path d="M50,188 L51.15,188.25 L52.3,188.5 L53.45,186.46 L54.6,184.18 L55.75,182.65 L56.9,181.33 L57.93,180.44 L58.97,179.37 L60,178.96 L61.15,178.65 L62.3,181.01 L63.45,182.24 L64.6,183.87 L65.75,182.63 L66.9,184.8 L68.5,185.55 L70,165.15 L71.5,164.93 L72.67,164.99 L73.85,164.42 L75.03,163.64 L76.2,163.62 L77.35,162.94 L78.5,163.14 L79.65,163.13 L80.8,162.16 L81.9,161.87 L83,161.01 L84.17,162.02 L85.35,162.61 L86.53,161.83 L87.7,162.8 L88.8,179.13 L90,178.9 L91.15,178.64 L92.3,178.72 L93.45,179.38 L94.6,179.55 L95.75,179.41 L96.9,178.43 L98.05,177.93 L99.2,177.12 L100.47,175.59 L101.73,173.23 L103,171.38 L104,177.06 L105.45,178.51 L106.9,180.08 L108.05,180.93 L109.2,181.85 L110.35,181.68 L111.5,181.95 L112.53,182.44 L113.57,179.02 L114.6,179.98 L115.63,180.44 L116.67,179.33 L117.7,178.96 L118.85,178.96 L120,180.22 L121.15,180.13 L122.3,181.18 L123.6,181.24 L124.9,182.48 L126.2,181.36 L128,183.7 L129.3,185.63 L130.6,185.89 L131.9,187 L133.2,187.27 L134.5,187.53 L135.8,187.8 L136.8,187.53 L137.8,187.27 L138.8,187 L140.5,186.12 L141.2,179.05 L142.47,179.13 L143.73,178.89 L145,178.29 L146.15,177.52 L147.3,178.18 L148.45,176.64 L149.6,176.13 L150.9,176.27 L152.2,174.55 L153.5,174.22 L154.6,175.52 L155.7,174.97 L156.8,175.17 L157.6,187 L158.68,187.2 L159.75,187.4 L160.82,187.6 L161.9,187.8 L163.5,187 L164.2,184.05 L166,186.08 L167.4,184.34 L168.8,181.42 L170,185.45 L171.35,185.18 L172.7,186.46 L173.72,186.75 L174.73,186.28 L175.75,186.11 L176.77,185.89 L177.78,185.97 L178.8,186.68 L179.88,186.66 L180.96,186.27 L182.04,187.01 L183.12,187.36 L184.2,187 L186,187 L186.5,172.68 L187.8,173.1 L189.1,172.01 L190.4,172.18 L191.43,172.62 L192.47,173.89 L193.5,173.59 L195,184.25 L196.27,185.33 L197.53,186.46 L198.8,186.32 L199.83,185.02 L200.87,186.8 L201.9,186.06 L202.93,187.31 L203.97,186.97 L205,187 L206.05,186.9 L207.1,185.63 L208.15,185.14 L209.2,185.72 L210.47,184.91 L211.73,184.31 L213,183.79 L214.6,180.49 L215.4,180.63 L216.55,180.07 L217.7,180.63 L218.85,180.37 L220,179.61 L221.15,181.01 L222.3,180.32 L223.45,183.12 L224.6,183.92 L225.75,182 L226.9,179.92 L228.2,179.07 L229.5,179.67 L230.8,177.65 L231.95,179.07 L233.1,178.45 L234.25,179.96 L235.4,179.79 L236.67,183 L237.93,184.81 L239.2,187 L240.2,180.54 L241.2,178.11 L242.33,178.1 L243.47,175.78 L244.6,179.19 L245.68,177.73 L246.76,178.22 L247.84,177.08 L248.92,176.99 L250,175.9 L251.27,176.3 L252.53,177.24 L253.8,178.41 L254.88,179.03 L255.96,179.21 L257.04,179.79 L258.12,180.76 L259.2,181.41 L260.35,181.3 L261.5,181.46 L262.65,181.79 L263.8,182.64 L264.8,184.61 L265.8,187 L267.15,187 L268.5,187 L269.65,186.55 L270.8,185.07 L272.3,174.65 L273.33,172.51 L274.37,171.12 L275.4,171.84 L276.67,170.1 L277.93,167.93 L279.2,167.29 L280.2,164.89 L281.2,161.78 L282.47,162.07 L283.73,163.83 L285,164.12 L286.15,166.66 L287.3,168.09 L288.5,179.94 L289.67,179.65 L290.83,179.46 L292,177.98 L293.12,180.6 L294.25,181.74 L295.38,183.61 L296.5,185.08 L297.68,186.08 L298.85,185.66 L300.02,185.26 L301.2,184.22 L302.35,185.11 L303.5,185.37 L304.65,184.28 L305.8,184.5 L307.07,182.04 L308.33,180.16 L309.6,178.68 L310.63,179.21 L311.67,180.21 L312.7,182.73 L313.73,181.05 L314.77,178.91 L315.8,176.82 L317,182.69 L318.3,183.17 L319.6,184.91 L320.63,184.99 L321.67,185.23 L322.7,185.68 L323.85,186.17 L325,186.05 L326.15,186.92 L327.3,187 L328.6,185.71 L329.9,186.73 L331.2,185.42 L332.47,185.77 L333.73,184.82 L335,183.9 L336,184.14 L337,182.84 L338,182.76 L339.3,180.2 L340.6,178.87 L341.9,175.44 L343.05,179.8 L344.2,182.99 L345.5,183.1 L346.8,182.39 L348.1,182.42 L349.13,182.54 L350.17,181.71 L351.2,180.95 L352,181.14 L353.14,181.53 L354.28,181.56 L355.42,182.69 L356.56,183.08 L357.7,183.67 L358.85,181.9 L360,183.84 L361.15,183 L362.3,183.56 L363.45,182.92 L364.6,183.1 L365.75,184.41 L366.9,184.37 L368.05,184.27 L369.2,184.85 L370.35,185.11 L371.5,183.94 L372.53,184.96 L373.57,184.82 L374.6,185.85 L375.9,185.89 L377.2,185.56 L378.5,184.78 L379.77,183.08 L381.03,182.05 L382.3,179.1 L383.45,179.82 L384.6,178.36 L385.75,179 L386.9,177 L388.03,178.08 L389.17,180.35 L390.3,181.7 L391.65,183.12 L393,184.36 L394.07,184.42 L395.13,184.54 L396.2,184.39 L397.35,184.52 L398.5,185.01 L399.65,184.31 L400.8,186.07 L401.95,185.12 L403.1,184.95 L404.25,185.03 L405.4,184 L406.55,183.99 L407.7,184.69 L408.97,185.02 L410.23,184.68 L411.5,186.88 L412.53,185.52 L413.57,186.68 L414.6,186.33 L415.63,186.07 L416.67,185.34 L417.7,185.95 L418.97,185.61 L420.23,185.63 L421.5,185.5 L422.8,177.15 L423.9,177.7 L425,180.33 L426.8,182.66 L428.3,183.68 L429.4,184.69 L430.5,185.09 L431.7,184.97 L432.9,185.66 L434.1,185.61 L435.2,187.2 L436.3,189 L437.8,189 L439.6,178.18 L441,180.5 L442.4,185.34 L444.2,177.37 L445.55,178.33 L446.9,178.43 L448.7,184.16 L449.93,185.07 L451.17,184.95 L452.4,186.08 L453.55,186.78 L454.7,186.72 L455.85,186.93 L457,185.96 L458.05,185.21 L459.1,185.94 L460.15,184.15 L461.2,184.64 L462.23,180.64 L463.27,176.16 L464.3,171.43 L465.5,174.84 L466.7,178.34 L467.9,180.45 L469.3,180.49 L470.7,179.83 L471.9,179.71 L473.1,178.21 L474.3,178.35 L475.45,177.54 L476.6,176.5 L477.75,175.99 L478.9,174.99 L480.05,174.29 L481.2,174.01 L482.35,174.06 L483.5,173.61 L484.7,173.47 L485.9,174.3 L487.1,174.97 L488.2,174.32 L489.3,177.07 L490.4,178.49 L491.5,179.78 L492.6,179.84 L493.95,182.33 L495.3,182.96 L496.37,182.7 L497.43,182.81 L498.5,182.1 L499.57,182.2 L500.63,182.55 L501.7,181.81 L502.74,180.41 L503.79,182.71 L504.83,183.62 L505.87,183.91 L506.91,184.2 L507.96,184.77 L509,184.74 L510.04,184.14 L511.09,185.03 L512.13,184.35 L513.17,185.05 L514.21,184.76 L515.26,184.74 L516.3,184.63 L517.53,184.1 L518.77,184.03 L520,184.18 L520,201.49 L518.77,202.43 L517.53,203.06 L516.3,204.01 L515.26,203.08 L514.21,202.67 L513.17,202.6 L512.13,202.06 L511.09,201.61 L510.04,201.87 L509,201.68 L507.96,202.56 L506.91,202.74 L505.87,202.43 L504.83,201.69 L503.79,199.91 L502.74,200.1 L501.7,200.91 L500.63,199.54 L499.57,199.43 L498.5,199.29 L497.43,199.58 L496.37,198.37 L495.3,198.56 L493.95,197.74 L492.6,197.6 L491.5,197.5 L490.4,196.97 L489.3,196.79 L488.2,196.59 L487.1,195.65 L485.9,195.73 L484.7,196.12 L483.5,196.63 L482.35,196.35 L481.2,195.16 L480.05,194.36 L478.9,194.27 L477.75,196.54 L476.6,195.84 L475.45,196.47 L474.3,197.19 L473.1,195.53 L471.9,193.69 L470.7,192.7 L469.3,196.81 L467.9,199.48 L466.7,199.72 L465.5,199.62 L464.3,199.76 L463.27,198.83 L462.23,197.92 L461.2,196.69 L460.15,197.83 L459.1,199.43 L458.05,200.85 L457,203.48 L455.85,202.35 L454.7,202.93 L453.55,203.08 L452.4,203.76 L451.17,202.34 L449.93,202.43 L448.7,201.74 L446.9,201.32 L445.55,200.49 L444.2,200.56 L442.4,214.05 L441,208.67 L439.6,202.23 L437.8,220.72 L436.3,219.87 L435.2,214.65 L434.1,208.82 L432.9,207.96 L431.7,206.14 L430.5,205.43 L429.4,202.6 L428.3,199.84 L426.8,195.29 L425,192.7 L423.9,192.61 L422.8,193.52 L421.5,203.68 L420.23,204.32 L418.97,205.96 L417.7,205.69 L416.67,207.26 L415.63,206.43 L414.6,207.22 L413.57,207.29 L412.53,207.72 L411.5,209.08 L410.23,207.51 L408.97,207.36 L407.7,207.71 L406.55,205.38 L405.4,203.72 L404.25,203.77 L403.1,204 L401.95,201.51 L400.8,202.08 L399.65,201.56 L398.5,201.6 L397.35,201.95 L396.2,202.11 L395.13,202.3 L394.07,202.79 L393,202.66 L391.65,201.78 L390.3,199.34 L389.17,200.43 L388.03,201.22 L386.9,202.6 L385.75,201.79 L384.6,202.6 L383.45,201.94 L382.3,201.68 L381.03,203.27 L379.77,203.36 L378.5,203.84 L377.2,205.17 L375.9,204.13 L374.6,204.22 L373.57,203.51 L372.53,201.78 L371.5,201.19 L370.35,200.29 L369.2,200.5 L368.05,199.71 L366.9,199.88 L365.75,199.32 L364.6,200.73 L363.45,199.61 L362.3,200.02 L361.15,199.67 L360,200.8 L358.85,199.93 L357.7,199.31 L356.56,198.97 L355.42,198.83 L354.28,198.14 L353.14,197.9 L352,198.67 L351.2,205.03 L350.17,207.06 L349.13,206.12 L348.1,207.43 L346.8,205.96 L345.5,203.77 L344.2,202.75 L343.05,198.62 L341.9,195.83 L340.6,197.09 L339.3,197.5 L338,197.06 L337,197.04 L336,198.68 L335,198.83 L333.73,201.8 L332.47,204.73 L331.2,208.33 L329.9,205.32 L328.6,201.7 L327.3,199.68 L326.15,198.73 L325,199.1 L323.85,197.64 L322.7,197.52 L321.67,196.11 L320.63,195.2 L319.6,194.97 L318.3,195.14 L317,193.89 L315.8,193.49 L314.77,193.3 L313.73,192.93 L312.7,192.98 L311.67,193.73 L310.63,193.22 L309.6,192.59 L308.33,195.12 L307.07,197.59 L305.8,199.49 L304.65,200.64 L303.5,200.52 L302.35,202.14 L301.2,203.25 L300.02,202.09 L298.85,201.69 L297.68,201.78 L296.5,200.26 L295.38,200.71 L294.25,202.03 L293.12,201.52 L292,202.94 L290.83,201.78 L289.67,203.61 L288.5,203.42 L287.3,194.35 L286.15,192.35 L285,191.5 L283.73,191.33 L282.47,191.17 L281.2,191 L280.2,191.3 L279.2,191.6 L277.93,192.13 L276.67,192.67 L275.4,192.97 L274.37,194.18 L273.33,196.69 L272.3,198.57 L270.8,206.66 L269.65,213.03 L268.5,219.02 L267.15,217.01 L265.8,215.28 L264.8,206.7 L263.8,201.36 L262.65,199.12 L261.5,198.33 L260.35,197.92 L259.2,198.14 L258.12,198.67 L257.04,196.78 L255.96,196.4 L254.88,196.8 L253.8,195.14 L252.53,195.09 L251.27,194.62 L250,193.82 L248.92,193.17 L247.84,193.33 L246.76,193 L245.68,193.2 L244.6,193.29 L243.47,192.65 L242.33,192.67 L241.2,192.4 L240.2,199.08 L239.2,206.51 L237.93,203.07 L236.67,201.33 L235.4,199.66 L234.25,199.69 L233.1,200.51 L231.95,200.34 L230.8,200.11 L229.5,201.94 L228.2,203.09 L226.9,203.33 L225.75,200.22 L224.6,198.84 L223.45,197.09 L222.3,195.42 L221.15,194.58 L220,192.4 L218.85,192.2 L217.7,192 L216.55,191.8 L215.4,191.6 L214.6,199.66 L213,203.71 L211.73,204.52 L210.47,205.74 L209.2,206.71 L208.15,205.7 L207.1,205.97 L206.05,206.21 L205,207.24 L203.97,206.73 L202.93,207.77 L201.9,207.39 L200.87,208.77 L199.83,207.92 L198.8,208.34 L197.53,207.61 L196.27,208.02 L195,207.97 L193.5,194.95 L192.47,194.98 L191.43,196.88 L190.4,197.2 L189.1,196.26 L187.8,194.97 L186.5,194.22 L186,203.92 L184.2,205.61 L183.12,207.39 L182.04,205.28 L180.96,205 L179.88,205.17 L178.8,205.71 L177.78,204.32 L176.77,204.89 L175.75,203.85 L174.73,204.61 L173.72,203.87 L172.7,203.55 L171.35,202.83 L170,202.54 L168.8,201.71 L167.4,202.59 L166,201.45 L164.2,200.17 L163.5,210.17 L161.9,209.61 L160.82,210.32 L159.75,210.65 L158.68,211.61 L157.6,210.92 L156.8,194.88 L155.7,194.89 L154.6,195.32 L153.5,195.15 L152.2,195.17 L150.9,196.5 L149.6,196.05 L148.45,195.78 L147.3,197.75 L146.15,196.79 L145,196.86 L143.73,196.52 L142.47,196.94 L141.2,195.72 L140.5,201.56 L138.8,208.9 L137.8,207.63 L136.8,208.81 L135.8,210.29 L134.5,207.76 L133.2,206.29 L131.9,204.99 L130.6,203.54 L129.3,201.85 L128,200.67 L126.2,204.54 L124.9,203.77 L123.6,204.02 L122.3,202.81 L121.15,202.44 L120,201.9 L118.85,200.09 L117.7,199.37 L116.67,199.14 L115.63,199.14 L114.6,198.49 L113.57,197.76 L112.53,197.39 L111.5,196.78 L110.35,197 L109.2,197.1 L108.05,195.71 L106.9,196.59 L105.45,195.23 L104,194.08 L103,192.7 L101.73,192.67 L100.47,192.33 L99.2,192 L98.05,192.12 L96.9,192.25 L95.75,192.38 L94.6,192.5 L93.45,192.5 L92.3,192.5 L91.15,192.5 L90,192.5 L88.8,192.5 L87.7,191.6 L86.53,191.45 L85.35,191.3 L84.17,191.15 L83,191 L81.9,190.9 L80.8,190.8 L79.65,190.8 L78.5,190.8 L77.35,190.8 L76.2,190.8 L75.03,190.8 L73.85,190.8 L72.67,190.8 L71.5,190.8 L70,190.8 L68.5,200.91 L66.9,200.17 L65.75,199.7 L64.6,198.81 L63.45,197.92 L62.3,196.66 L61.15,196.66 L60,195.8 L58.97,196.16 L57.93,194.76 L56.9,195.71 L55.75,195.07 L54.6,195.58 L53.45,202.76 L52.3,209.33 L51.15,207.26 L50,204.81Z" fill="#0000ff" fill-opacity="0.5"/>
<path d="M50,188 L51.15,188.25 L52.3,188.5 L53.45,188.5 L54.6,188.5 L55.75,188.25 L56.9,188 L57.93,187.67 L58.97,187.33 L60,187 L61.15,187 L62.3,187 L63.45,187 L64.6,187 L65.75,187.25 L66.9,187.5 L68.5,186.32 L70,165.76 L71.5,164.44 L72.67,164.46 L73.85,163.82 L75.03,162.36 L76.2,163.63 L77.35,163.22 L78.5,162.91 L79.65,162.39 L80.8,162.95 L81.9,161.87 L83,161.72 L84.17,162.22 L85.35,160.94 L86.53,161.7 L87.7,162.6 L88.8,184.65 L90,184.62 L91.15,183.73 L92.3,183.27 L93.45,185.16 L94.6,184.88 L95.75,185.07 L96.9,184.79 L98.05,183.83 L99.2,183.51 L100.47,183.5 L101.73,182.43 L103,184.87 L104,185.07 L105.45,185.38 L106.9,186.56 L108.05,186.82 L109.2,187.31 L110.35,185.9 L111.5,187 L112.53,187 L113.57,187 L114.6,187 L115.63,187 L116.67,187 L117.7,187 L118.85,187 L120,187 L121.15,187 L122.3,187 L123.6,187.27 L124.9,187.53 L126.2,187.8 L128,184.66 L129.3,185.24 L130.6,186.53 L131.9,187 L133.2,187.27 L134.5,187.53 L135.8,187.8 L136.8,187.53 L137.8,187.27 L138.8,187 L140.5,185.28 L141.2,183.49 L142.47,183 L143.73,184.44 L145,184.45 L146.15,181.99 L147.3,183 L148.45,182.82 L149.6,183.08 L150.9,182.49 L152.2,180.22 L153.5,180.54 L154.6,181.47 L155.7,182.15 L156.8,182.01 L157.6,187 L158.68,187.2 L159.75,187.4 L160.82,187.6 L161.9,187.8 L163.5,187 L164.2,187 L166,187 L167.4,187 L168.8,187 L170,187 L171.35,187.4 L172.7,187.8 L173.72,187.8 L174.73,187.8 L175.75,187.8 L176.77,187.8 L177.78,187.8 L178.8,187.8 L179.88,187.64 L180.96,187.48 L182.04,187.32 L183.12,187.16 L184.2,187 L186,187 L186.5,175.74 L187.8,176.32 L189.1,176.4 L190.4,176.22 L191.43,176.18 L192.47,176.7 L193.5,177.13 L195,184.86 L196.27,185.24 L197.53,186.13 L198.8,185.09 L199.83,185.86 L200.87,185.85 L201.9,185.23 L202.93,185.55 L203.97,184.5 L205,185.12 L206.05,185.73 L207.1,184.76 L208.15,185.22 L209.2,183.85 L210.47,183.85 L211.73,184.57 L213,183.81 L214.6,182.49 L215.4,181.91 L216.55,182.07 L217.7,182.12 L218.85,182.76 L220,182 L221.15,182.3 L222.3,182.05 L223.45,184.28 L224.6,183.97 L225.75,184.86 L226.9,183.99 L228.2,185.06 L229.5,184.57 L230.8,185.64 L231.95,186.16 L233.1,186.49 L234.25,185.76 L235.4,186.8 L236.67,186.71 L237.93,187.29 L239.2,187 L240.2,183.13 L241.2,179.81 L242.33,180.5 L243.47,180.28 L244.6,182.85 L245.68,182.23 L246.76,181.65 L247.84,180.5 L248.92,179.73 L250,180.6 L251.27,180.6 L252.53,182.19 L253.8,182.94 L254.88,182.85 L255.96,183.76 L257.04,182.18 L258.12,184.04 L259.2,182.99 L260.35,184.58 L261.5,185.18 L262.65,185.24 L263.8,186 L264.8,186.88 L265.8,187 L267.15,187 L268.5,187 L269.65,185.72 L270.8,185.45 L272.3,174.64 L273.33,173.89 L274.37,172.97 L275.4,171.86 L276.67,170.59 L277.93,169.23 L279.2,167.57 L280.2,164.84 L281.2,162.32 L282.47,162.59 L283.73,163.97 L285,164.25 L286.15,166.64 L287.3,168.92 L288.5,184.57 L289.67,183.48 L290.83,184.47 L292,183.97 L293.12,184.38 L294.25,184.94 L295.38,185.34 L296.5,185.69 L297.68,185.96 L298.85,185.24 L300.02,186.04 L301.2,185.64 L302.35,185.8 L303.5,184.96 L304.65,184.35 L305.8,183.48 L307.07,183.21 L308.33,181.3 L309.6,180.83 L310.63,181.56 L311.67,181.66 L312.7,182.46 L313.73,183.37 L314.77,183.96 L315.8,183.25 L317,183.79 L318.3,184.28 L319.6,185.09 L320.63,183.23 L321.67,185.94 L322.7,185.79 L323.85,185.98 L325,185.97 L326.15,186.57 L327.3,187 L328.6,186.23 L329.9,186.88 L331.2,185.77 L332.47,186.18 L333.73,184.31 L335,184.54 L336,183.82 L337,182.53 L338,182.87 L339.3,179.55 L340.6,178.86 L341.9,176.21 L343.05,180.81 L344.2,183.76 L345.5,183.04 L346.8,184.44 L348.1,185.31 L349.13,183.19 L350.17,182.28 L351.2,184.28 L352,184.45 L353.14,183.77 L354.28,184.05 L355.42,184.01 L356.56,182.28 L357.7,183.4 L358.85,182.71 L360,181.25 L361.15,180.44 L362.3,180 L363.45,180.08 L364.6,181.94 L365.75,182.42 L366.9,184.17 L368.05,184.87 L369.2,184.78 L370.35,184.95 L371.5,183.38 L372.53,185.39 L373.57,185.65 L374.6,185.97 L375.9,185.62 L377.2,185.57 L378.5,185.06 L379.77,183.9 L381.03,185.41 L382.3,185.38 L383.45,184.94 L384.6,184.18 L385.75,183.53 L386.9,181.85 L388.03,183.4 L389.17,183.01 L390.3,182.26 L391.65,182.71 L393,183.03 L394.07,183.69 L395.13,182.98 L396.2,182.48 L397.35,182.31 L398.5,184.15 L399.65,185.18 L400.8,185.63 L401.95,184.61 L403.1,184.34 L404.25,184.62 L405.4,184.14 L406.55,182.46 L407.7,180.06 L408.97,181.78 L410.23,184.4 L411.5,186.21 L412.53,186.42 L413.57,185.39 L414.6,186.09 L415.63,185.54 L416.67,184.98 L417.7,185.65 L418.97,184.99 L420.23,186.1 L421.5,184.69 L422.8,170.11 L423.9,169.6 L425,170.99 L426.8,172.56 L428.3,182.97 L429.4,184.19 L430.5,184.33 L431.7,185.39 L432.9,186.28 L434.1,187.2 L435.2,188.1 L436.3,189 L437.8,189 L439.6,183.44 L441,185.16 L442.4,185.75 L444.2,170.9 L445.55,171.47 L446.9,172.96 L448.7,184.13 L449.93,184.5 L451.17,185.5 L452.4,184.67 L453.55,185.74 L454.7,185.87 L455.85,186.58 L457,185.12 L458.05,186.49 L459.1,185.86 L460.15,184.88 L461.2,184.3 L462.23,182.36 L463.27,181.82 L464.3,180.16 L465.5,181.42 L466.7,182 L467.9,183.85 L469.3,181.62 L470.7,179.74 L471.9,177.66 L473.1,176.9 L474.3,175.11 L475.45,173.44 L476.6,172.93 L477.75,172.15 L478.9,170.79 L480.05,173.2 L481.2,176.6 L482.35,178.45 L483.5,181.9 L484.7,181.96 L485.9,182.26 L487.1,181.96 L488.2,181.85 L489.3,182.19 L490.4,183.25 L491.5,182.84 L492.6,183.37 L493.95,185.21 L495.3,186.82 L496.37,186.86 L497.43,186.05 L498.5,184.75 L499.57,186.12 L500.63,185.47 L501.7,185.73 L502.74,185.63 L503.79,186.05 L504.83,185.02 L505.87,186.12 L506.91,184.69 L507.96,186.22 L509,186.71 L510.04,186.58 L511.09,187 L512.13,186.58 L513.17,186.65 L514.21,185.77 L515.26,185.04 L516.3,186.88 L517.53,184.63 L518.77,184.95 L520,183.17 L520,202.4 L518.77,200.62 L517.53,200.09 L516.3,199.61 L515.26,199.05 L514.21,198.96 L513.17,199.63 L512.13,198.76 L511.09,199.24 L510.04,197.96 L509,199.46 L507.96,198.41 L506.91,197.28 L505.87,197.82 L504.83,196.93 L503.79,199 L502.74,196.73 L501.7,196.72 L500.63,197.17 L499.57,197.39 L498.5,197.37 L497.43,197.53 L496.37,198.08 L495.3,198.63 L493.95,200.77 L492.6,204.1 L491.5,204.46 L490.4,202.88 L489.3,203.34 L488.2,203.07 L487.1,202.2 L485.9,199.6 L484.7,196.41 L483.5,194.4 L482.35,194.72 L481.2,193.79 L480.05,194.26 L478.9,194.63 L477.75,194.64 L476.6,193.05 L475.45,192.64 L474.3,192.7 L473.1,192.7 L471.9,192.7 L470.7,192.7 L469.3,193.57 L467.9,195.17 L466.7,194.7 L465.5,195.28 L464.3,195.61 L463.27,195.01 L462.23,196.33 L461.2,195.69 L460.15,197.62 L459.1,198.95 L458.05,200.99 L457,202.17 L455.85,202.91 L454.7,202.55 L453.55,203.42 L452.4,203.58 L451.17,202.81 L449.93,201.73 L448.7,201.61 L446.9,202.6 L445.55,200.3 L444.2,199.97 L442.4,209.49 L441,204.39 L439.6,201.25 L437.8,214.86 L436.3,216.22 L435.2,216.94 L434.1,214.46 L432.9,214.64 L431.7,213.08 L430.5,212.47 L429.4,207.69 L428.3,204.69 L426.8,194.68 L425,195.32 L423.9,193.23 L422.8,191.6 L421.5,195.68 L420.23,196.24 L418.97,196.84 L417.7,198.8 L416.67,197.51 L415.63,197.6 L414.6,199.4 L413.57,199.2 L412.53,198.61 L411.5,198.7 L410.23,199.75 L408.97,199.5 L407.7,199.9 L406.55,199.54 L405.4,199.92 L404.25,199.58 L403.1,197.6 L401.95,196.62 L400.8,196.41 L399.65,196.28 L398.5,197.25 L397.35,198.18 L396.2,197.28 L395.13,196.93 L394.07,196.89 L393,197.64 L391.65,197.25 L390.3,198.89 L389.17,200.84 L388.03,202.2 L386.9,202.19 L385.75,202.86 L384.6,203.2 L383.45,203.82 L382.3,205.17 L381.03,205.65 L379.77,206.44 L378.5,208.04 L377.2,208.15 L375.9,206.2 L374.6,205.63 L373.57,203.05 L372.53,201.75 L371.5,199.08 L370.35,197.88 L369.2,197.74 L368.05,195.31 L366.9,194.41 L365.75,193.96 L364.6,193.35 L363.45,194.05 L362.3,194.53 L361.15,192.66 L360,192.8 L358.85,192.6 L357.7,192.4 L356.56,192.56 L355.42,192.72 L354.28,192.88 L353.14,193.34 L352,192.52 L351.2,210.58 L350.17,210.68 L349.13,210.14 L348.1,210.47 L346.8,210.36 L345.5,207.84 L344.2,205.52 L343.05,200.9 L341.9,196.25 L340.6,196.07 L339.3,195.96 L338,195.83 L337,197.5 L336,198.76 L335,198.59 L333.73,199.83 L332.47,202.59 L331.2,202.01 L329.9,202.85 L328.6,199.78 L327.3,198.69 L326.15,198.25 L325,198.12 L323.85,199.16 L322.7,197.35 L321.67,197.55 L320.63,197.8 L319.6,196.04 L318.3,195.36 L317,195.13 L315.8,194.77 L314.77,194.12 L313.73,193.29 L312.7,193.11 L311.67,193.48 L310.63,193.7 L309.6,193.9 L308.33,195.08 L307.07,197.37 L305.8,200.09 L304.65,200.41 L303.5,199.51 L302.35,200.05 L301.2,199.32 L300.02,199.76 L298.85,199.88 L297.68,198.97 L296.5,198.91 L295.38,200.19 L294.25,201.21 L293.12,202.21 L292,204.34 L290.83,204.11 L289.67,203.39 L288.5,203.74 L287.3,193.36 L286.15,192 L285,190.8 L283.73,190.53 L282.47,190.27 L281.2,190 L280.2,190.8 L279.2,191.6 L277.93,192.13 L276.67,192.67 L275.4,192.72 L274.37,193.74 L273.33,192.54 L272.3,193.27 L270.8,204.85 L269.65,209.1 L268.5,211.47 L267.15,210.6 L265.8,209.46 L264.8,204.55 L263.8,199.72 L262.65,199.02 L261.5,198.98 L260.35,197.85 L259.2,198.21 L258.12,196.8 L257.04,196.82 L255.96,196.09 L254.88,195.4 L253.8,196.77 L252.53,194.85 L251.27,194.94 L250,195.01 L248.92,194.59 L247.84,193.74 L246.76,194.92 L245.68,193.64 L244.6,193.38 L243.47,192.29 L242.33,192.67 L241.2,192.4 L240.2,197.91 L239.2,202.63 L237.93,202.24 L236.67,200.09 L235.4,199.3 L234.25,200.03 L233.1,200.33 L231.95,200.62 L230.8,200.47 L229.5,201.48 L228.2,201.96 L226.9,203.79 L225.75,200.43 L224.6,198.59 L223.45,198.56 L222.3,195.04 L221.15,193.42 L220,192.4 L218.85,192.2 L217.7,192 L216.55,191.8 L215.4,191.6 L214.6,192 L213,193.53 L211.73,193.81 L210.47,193.94 L209.2,195.14 L208.15,196.5 L207.1,194.95 L206.05,194.63 L205,195.14 L203.97,195.66 L202.93,195.23 L201.9,195.17 L200.87,195.39 L199.83,195.42 L198.8,197.3 L197.53,195.87 L196.27,195.58 L195,194.46 L193.5,195.47 L192.47,194.2 L191.43,193.58 L190.4,194.35 L189.1,194.16 L187.8,192.83 L186.5,192.4 L186,198.44 L184.2,200 L183.12,199.9 L182.04,200.39 L180.96,201.12 L179.88,199.3 L178.8,200.91 L177.78,200.16 L176.77,199.49 L175.75,199.05 L174.73,198.87 L173.72,199.02 L172.7,199.26 L171.35,198.62 L170,198.99 L168.8,199.49 L167.4,199.2 L166,197.5 L164.2,197.23 L163.5,201.17 L161.9,200.14 L160.82,201.25 L159.75,202.06 L158.68,201.25 L157.6,201.69 L156.8,194.44 L155.7,194.01 L154.6,192.67 L153.5,192.4 L152.2,192.67 L150.9,192.43 L149.6,192.74 L148.45,193.63 L147.3,193.06 L146.15,193.23 L145,192.75 L143.73,193.06 L142.47,193.45 L141.2,193.5 L140.5,199.81 L138.8,202.04 L137.8,202.55 L136.8,203.68 L135.8,203.74 L134.5,202.76 L133.2,203.02 L131.9,202.22 L130.6,200.74 L129.3,200.5 L128,197.78 L126.2,197.05 L124.9,196.11 L123.6,195.96 L122.3,195.92 L121.15,195.9 L120,196.14 L118.85,196.36 L117.7,195.8 L116.67,195.8 L115.63,196.16 L114.6,196.66 L113.57,196.75 L112.53,196.79 L111.5,197.2 L110.35,196.66 L109.2,197.21 L108.05,196.83 L106.9,195.93 L105.45,194.6 L104,193.71 L103,192.54 L101.73,192.8 L100.47,192.6 L99.2,192.4 L98.05,192.8 L96.9,193.17 L95.75,194.52 L94.6,194.2 L93.45,193.42 L92.3,194.1 L91.15,193.68 L90,193.38 L88.8,194.86 L87.7,191.6 L86.53,191.45 L85.35,191.3 L84.17,191.15 L83,191 L81.9,190.9 L80.8,190.8 L79.65,190.8 L78.5,190.8 L77.35,190.8 L76.2,190.8 L75.03,190.8 L73.85,190.8 L72.67,190.8 L71.5,190.8 L70,190.8 L68.5,200.49 L66.9,205.76 L65.75,205.16 L64.6,205.29 L63.45,204.39 L62.3,203.63 L61.15,202.48 L60,203.23 L58.97,201.32 L57.93,200.52 L56.9,200.21 L55.75,199.08 L54.6,199.31 L53.45,204.73 L52.3,208.11 L51.15,207.51 L50,206.16Z" fill="#ff0000" fill-opacity="0.53"/>
</g>
<path d="M50.5,149.9 V229.9" stroke="#333" stroke-width="1" fill="none"/>
<line x1="44.5" y1="149.9" x2="50.5" y2="149.9" stroke="#333" stroke-width="1"/>
<line x1="44.5" y1="169.9" x2="50.5" y2="169.9" stroke="#333" stroke-width="1"/>
<line x1="44.5" y1="189.9" x2="50.5" y2="189.9" stroke="#333" stroke-width="1"/>
<line x1="44.5" y1="209.9" x2="50.5" y2="209.9" stroke="#333" stroke-width="1"/>
<line x1="44.5" y1="229.9" x2="50.5" y2="229.9" stroke="#333" stroke-width="1"/>
<text transform="translate(41.6,149.9) rotate(-90)" text-anchor="middle" font-size="10.6" fill="#1a1a1a" font-family="Liberation Sans, Arial, sans-serif">100%</text>
<text transform="translate(41.6,189.9) rotate(-90)" text-anchor="middle" font-size="10.6" fill="#1a1a1a" font-family="Liberation Sans, Arial, sans-serif">0%</text>
<text transform="translate(41.6,229.9) rotate(-90)" text-anchor="middle" font-size="10.6" fill="#1a1a1a" font-family="Liberation Sans, Arial, sans-serif">100%</text>
<path d="M69.79,229.9 H504.45" stroke="#333" stroke-width="1" fill="none"/>
<line x1="69.79" y1="229.9" x2="69.79" y2="235.9" stroke="#333" stroke-width="1"/>
<text x="69.79" y="246.7" text-anchor="middle" font-size="10.6" fill="#1a1a1a" font-family="Liberation Sans, Arial, sans-serif">1</text>
<line x1="103.36" y1="229.9" x2="103.36" y2="235.9" stroke="#333" stroke-width="1"/>
<text x="103.36" y="246.7" text-anchor="middle" font-size="10.6" fill="#1a1a1a" font-family="Liberation Sans, Arial, sans-serif">2</text>
<line x1="140.54" y1="229.9" x2="140.54" y2="235.9" stroke="#333" stroke-width="1"/>
<text x="140.54" y="246.7" text-anchor="middle" font-size="10.6" fill="#1a1a1a" font-family="Liberation Sans, Arial, sans-serif">3</text>
<line x1="164.83" y1="229.9" x2="164.83" y2="235.9" stroke="#333" stroke-width="1"/>
<text x="164.83" y="246.7" text-anchor="middle" font-size="10.6" fill="#1a1a1a" font-family="Liberation Sans, Arial, sans-serif">4</text>
<line x1="194.02" y1="229.9" x2="194.02" y2="235.9" stroke="#333" stroke-width="1"/>
<text x="194.02" y="246.7" text-anchor="middle" font-size="10.6" fill="#1a1a1a" font-family="Liberation Sans, Arial, sans-serif">5</text>
<line x1="223.88" y1="229.9" x2="223.88" y2="235.9" stroke="#333" stroke-width="1"/>
<text x="223.88" y="246.7" text-anchor="middle" font-size="10.6" fill="#1a1a1a" font-family="Liberation Sans, Arial, sans-serif">6</text>
<line x1="250.12" y1="229.9" x2="250.12" y2="235.9" stroke="#333" stroke-width="1"/>
<text x="250.12" y="246.7" text-anchor="middle" font-size="10.6" fill="#1a1a1a" font-family="Liberation Sans, Arial, sans-serif">7</text>
<line x1="272.47" y1="229.9" x2="272.47" y2="235.9" stroke="#333" stroke-width="1"/>
<text x="272.47" y="246.7" text-anchor="middle" font-size="10.6" fill="#1a1a1a" font-family="Liberation Sans, Arial, sans-serif">8</text>
<line x1="295.58" y1="229.9" x2="295.58" y2="235.9" stroke="#333" stroke-width="1"/>
<text x="295.58" y="246.7" text-anchor="middle" font-size="10.6" fill="#1a1a1a" font-family="Liberation Sans, Arial, sans-serif">9</text>
<line x1="316.02" y1="229.9" x2="316.02" y2="235.9" stroke="#333" stroke-width="1"/>
<text x="316.02" y="246.7" text-anchor="middle" font-size="10.6" fill="#1a1a1a" font-family="Liberation Sans, Arial, sans-serif">10</text>
<line x1="339.02" y1="229.9" x2="339.02" y2="235.9" stroke="#333" stroke-width="1"/>
<text x="339.02" y="246.7" text-anchor="middle" font-size="10.6" fill="#1a1a1a" font-family="Liberation Sans, Arial, sans-serif">11</text>
<line x1="357.09" y1="229.9" x2="357.09" y2="235.9" stroke="#333" stroke-width="1"/>
<line x1="374.98" y1="229.9" x2="374.98" y2="235.9" stroke="#333" stroke-width="1"/>
<text x="374.98" y="246.7" text-anchor="middle" font-size="10.6" fill="#1a1a1a" font-family="Liberation Sans, Arial, sans-serif">13</text>
<line x1="392.71" y1="229.9" x2="392.71" y2="235.9" stroke="#333" stroke-width="1"/>
<line x1="409.49" y1="229.9" x2="409.49" y2="235.9" stroke="#333" stroke-width="1"/>
<text x="409.49" y="246.7" text-anchor="middle" font-size="10.6" fill="#1a1a1a" font-family="Liberation Sans, Arial, sans-serif">15</text>
<line x1="428.03" y1="229.9" x2="428.03" y2="235.9" stroke="#333" stroke-width="1"/>
<line x1="440.03" y1="229.9" x2="440.03" y2="235.9" stroke="#333" stroke-width="1"/>
<text x="440.03" y="246.7" text-anchor="middle" font-size="10.6" fill="#1a1a1a" font-family="Liberation Sans, Arial, sans-serif">17</text>
<line x1="451.51" y1="229.9" x2="451.51" y2="235.9" stroke="#333" stroke-width="1"/>
<line x1="464.99" y1="229.9" x2="464.99" y2="235.9" stroke="#333" stroke-width="1"/>
<text x="464.99" y="246.7" text-anchor="middle" font-size="10.6" fill="#1a1a1a" font-family="Liberation Sans, Arial, sans-serif">19</text>
<line x1="474.27" y1="229.9" x2="474.27" y2="235.9" stroke="#333" stroke-width="1"/>
<line x1="481.79" y1="229.9" x2="481.79" y2="235.9" stroke="#333" stroke-width="1"/>
<line x1="489.45" y1="229.9" x2="489.45" y2="235.9" stroke="#333" stroke-width="1"/>
<text x="489.45" y="246.7" text-anchor="middle" font-size="10.6" fill="#1a1a1a" font-family="Liberation Sans, Arial, sans-serif">22</text>
<line x1="504.45" y1="229.9" x2="504.45" y2="235.9" stroke="#333" stroke-width="1"/>
<text transform="translate(15.6,189.9) rotate(-90)" text-anchor="middle" font-size="10.6" fill="#1a1a1a" font-family="Liberation Sans, Arial, sans-serif">TCGA HER2<tspan font-size="75%" baseline-shift="62%">+</tspan></text>
<text x="7.6" y="134.4" font-size="12.6" font-weight="bold" fill="#000" font-family="Liberation Sans, Arial, sans-serif">B</text>
<line x1="88.96" y1="281.9" x2="88.96" y2="361.9" stroke="#c4c4c4" stroke-width="1"/>
<line x1="126.49" y1="281.9" x2="126.49" y2="361.9" stroke="#c4c4c4" stroke-width="1"/>
<line x1="157.05" y1="281.9" x2="157.05" y2="361.9" stroke="#c4c4c4" stroke-width="1"/>
<line x1="186.55" y1="281.9" x2="186.55" y2="361.9" stroke="#c4c4c4" stroke-width="1"/>
<line x1="214.47" y1="281.9" x2="214.47" y2="361.9" stroke="#c4c4c4" stroke-width="1"/>
<line x1="240.88" y1="281.9" x2="240.88" y2="361.9" stroke="#c4c4c4" stroke-width="1"/>
<line x1="265.44" y1="281.9" x2="265.44" y2="361.9" stroke="#c4c4c4" stroke-width="1"/>
<line x1="288.02" y1="281.9" x2="288.02" y2="361.9" stroke="#c4c4c4" stroke-width="1"/>
<line x1="309.81" y1="281.9" x2="309.81" y2="361.9" stroke="#c4c4c4" stroke-width="1"/>
<line x1="330.73" y1="281.9" x2="330.73" y2="361.9" stroke="#c4c4c4" stroke-width="1"/>
<line x1="351.56" y1="281.9" x2="351.56" y2="361.9" stroke="#c4c4c4" stroke-width="1"/>
<line x1="372.22" y1="281.9" x2="372.22" y2="361.9" stroke="#c4c4c4" stroke-width="1"/>
<line x1="389.99" y1="281.9" x2="389.99" y2="361.9" stroke="#c4c4c4" stroke-width="1"/>
<line x1="406.56" y1="281.9" x2="406.56" y2="361.9" stroke="#c4c4c4" stroke-width="1"/>
<line x1="422.38" y1="281.9" x2="422.38" y2="361.9" stroke="#c4c4c4" stroke-width="1"/>
<line x1="436.33" y1="281.9" x2="436.33" y2="361.9" stroke="#c4c4c4" stroke-width="1"/>
<line x1="448.86" y1="281.9" x2="448.86" y2="361.9" stroke="#c4c4c4" stroke-width="1"/>
<line x1="460.9" y1="281.9" x2="460.9" y2="361.9" stroke="#c4c4c4" stroke-width="1"/>
<line x1="470.03" y1="281.9" x2="470.03" y2="361.9" stroke="#c4c4c4" stroke-width="1"/>
<line x1="479.76" y1="281.9" x2="479.76" y2="361.9" stroke="#c4c4c4" stroke-width="1"/>
<line x1="487.18" y1="281.9" x2="487.18" y2="361.9" stroke="#c4c4c4" stroke-width="1"/>
<line x1="495.1" y1="281.9" x2="495.1" y2="361.9" stroke="#c4c4c4" stroke-width="1"/>
<g clip-path="url(#clipG)">
<path d="M50,316.37 L51,316.34 L52,316.77 L53,316.81 L54.07,315.3 L55.13,313.11 L56.2,311.57 L57.47,310.82 L58.73,310.11 L60,309.55 L61.27,307.71 L62.53,310.13 L63.8,310.32 L64.83,309.98 L65.87,311.82 L66.9,312.21 L68.05,313.65 L69.2,314.62 L70.5,296.58 L71.53,294.99 L72.55,295.38 L73.57,293.84 L74.6,292.86 L75.63,292.32 L76.67,293.4 L77.7,294.73 L78.73,294.74 L79.77,295.63 L80.8,296.54 L81.8,296.63 L82.8,297.85 L83.8,298.49 L85.1,298.04 L86.4,297.38 L87.7,295.9 L89.2,308.82 L90.47,308.58 L91.73,308.19 L93,308.11 L94.17,306.66 L95.35,305.4 L96.53,304.7 L97.7,302.49 L98.85,305.5 L100,305.06 L101.15,305.37 L102.3,306.66 L103.45,308.89 L104.6,311.72 L105.9,313.31 L107.2,312.91 L108.5,314.12 L109.52,314.61 L110.53,315.3 L111.55,315.23 L112.57,314.8 L113.58,314.32 L114.6,314.46 L115.63,314.76 L116.67,314.05 L117.7,315.53 L118.73,315.35 L119.77,315.85 L120.8,316.34 L121.95,315.66 L123.1,314.59 L124.25,314.09 L125.4,315.11 L126.7,314.99 L128,315.79 L129.07,315.84 L130.13,315.86 L131.2,317.21 L132.47,318.33 L133.73,318.5 L135,319.8 L136.27,319 L137.53,317.49 L138.8,315.26 L140,313.87 L141.2,309.28 L142.47,310.96 L143.73,311.44 L145,310.86 L146.15,309.23 L147.3,307.61 L148.45,306.72 L149.6,304.48 L150.9,302.44 L152.2,302.51 L153.5,301.17 L154.6,301.92 L155.7,300.86 L156.8,302.24 L157.6,319.8 L158.68,319.8 L159.75,319.8 L160.82,319.8 L161.9,319.8 L163.2,319.8 L164.5,319.8 L165.3,312.52 L166.38,314.31 L167.45,314.71 L168.53,315.22 L169.6,315.63 L170.63,316.49 L171.67,315.98 L172.7,316.01 L173.73,316.83 L174.77,315.65 L175.8,316.04 L176.83,317.25 L177.87,317.5 L178.9,316.61 L179.93,317.94 L180.97,318.13 L182,318.07 L183.27,318.93 L184.53,318.96 L185.8,319 L186.8,306.68 L187.9,306.23 L189,306.75 L190.1,306.25 L191.2,307.47 L193,307.15 L193.5,319.8 L194.77,319.8 L196.03,319.8 L197.3,319.8 L198.45,319.8 L199.6,319.8 L200.75,319.8 L201.9,319.8 L202.97,319.6 L204.05,319.4 L205.12,319.2 L206.2,319 L207.22,319.54 L208.23,317.33 L209.25,317.35 L210.27,318.73 L211.28,318.57 L212.3,318.86 L213.45,318.5 L214.6,318.72 L215.2,305.28 L216.4,305.78 L217.6,306.66 L218.8,305.87 L220,306.17 L221,304.07 L222,305.24 L223,304.33 L224.18,305.48 L225.35,306.42 L226.52,307.3 L227.7,306.99 L228.73,308.18 L229.77,307.74 L230.8,309.4 L231.95,309.96 L233.1,311 L234.25,311.66 L235.4,311.72 L236.67,313.48 L237.93,314.12 L239.2,314.08 L240.2,312.81 L241.2,309.74 L242.2,310.28 L243.2,309.22 L244.2,309.24 L245.2,310.79 L246.2,309.83 L247.47,308.38 L248.73,305.72 L250,303.48 L251.27,303.25 L252.53,304.71 L253.8,307.41 L254.83,307.32 L255.87,305.49 L256.9,307.62 L257.93,307.78 L258.97,307.44 L260,307.58 L261.15,306.95 L262.3,307.93 L263.45,308.53 L264.6,308.17 L265.8,316.78 L266.93,318.08 L268.07,318.2 L269.2,317.98 L270.8,317.13 L272.3,300.16 L273.33,300 L274.37,298.35 L275.4,296.76 L276.45,297.15 L277.5,296.6 L278.55,296.26 L279.6,295.7 L280.63,294.51 L281.67,294.49 L282.7,294.07 L283.97,295.62 L285.23,296.64 L286.5,295.55 L288.3,297.22 L288.8,307.36 L289.87,308.19 L290.93,309.5 L292,311.37 L293.12,311.47 L294.25,312.96 L295.38,314.22 L296.5,314.98 L297.68,315.5 L298.85,315.95 L300.02,317.71 L301.2,318.61 L302.35,318.22 L303.5,318.18 L304.65,317.76 L305.8,318.13 L306.93,317.84 L308.07,317.89 L309.2,316.92 L310.4,299.89 L311.43,301.29 L312.47,301.49 L313.5,303.19 L314.65,304.26 L315.8,304.69 L316.8,307.02 L317.8,310.57 L318.8,313.25 L320.1,314.04 L321.4,314.73 L322.7,314.69 L323.85,316.33 L325,317.39 L326.15,318.33 L327.3,319.8 L328.45,319.02 L329.6,318.28 L330.75,317.28 L331.9,317.39 L333.2,314.05 L334.5,314.77 L335.8,311.95 L337.07,313.47 L338.33,313.56 L339.6,313.47 L340.75,312.37 L341.9,311.14 L342.93,312.71 L343.97,313.83 L345,314.67 L346.27,315.88 L347.53,316.56 L348.8,317.02 L350,315.58 L351.2,316.35 L352.3,306.64 L353.33,306.04 L354.37,308.17 L355.4,308.18 L356.67,310.76 L357.93,313.01 L359.2,315.72 L360.35,315.63 L361.5,316.19 L362.65,315.4 L363.8,314.23 L364.98,315.37 L366.15,316.54 L367.32,316.97 L368.5,316.41 L369.62,316.63 L370.75,316.81 L371.88,317.35 L373,317.93 L374.03,317.87 L375.07,317.71 L376.1,318.4 L377.13,318.62 L378.17,318.45 L379.2,317.61 L380.35,316.24 L381.5,316.2 L382.65,314.67 L383.8,313.86 L384.98,312.8 L386.15,311.72 L387.32,310.63 L388.5,309.55 L389.5,310.62 L390.5,312.29 L391.5,314.76 L392.68,315.12 L393.85,315.84 L395.02,317.39 L396.2,316.51 L397.35,317.25 L398.5,317.52 L399.65,318.49 L400.8,318.34 L401.82,318.5 L402.83,318.53 L403.85,318.83 L404.87,318.08 L405.88,317.33 L406.9,318.02 L408,317.39 L409,318.99 L410,317.87 L411,319.08 L412,319.44 L413,319.8 L414.18,319.51 L415.35,317.62 L416.52,317.02 L417.7,316.62 L418.97,315.16 L420.23,314.12 L421.5,314.1 L423,309.37 L424,310.84 L425,312.14 L426.35,312.93 L427.7,313.34 L429.6,314.03 L430.8,314.83 L432,312.99 L433.2,314.89 L434.23,317.37 L435.27,317.63 L436.3,319.2 L438.2,320 L439.35,316.99 L440.5,315.11 L441.9,312.06 L443.3,311.58 L444.4,308.84 L445.5,304.6 L446.9,308.48 L448.13,310.01 L449.37,311 L450.6,312.41 L451.68,312.89 L452.76,313.59 L453.84,314.01 L454.92,314.47 L456,313.99 L457.15,315.28 L458.3,315.91 L459.45,316.54 L460.6,316.82 L461.83,312.22 L463.07,309.38 L464.3,306.07 L465.5,307.85 L466.7,309.09 L467.9,311.08 L469.13,310.09 L470.37,311.96 L471.6,313.03 L472.95,308.77 L474.3,306.4 L475.45,305.82 L476.6,306.06 L477.75,304.96 L478.9,304.71 L480.1,304.53 L481.3,306.13 L482.5,306.62 L483.73,307.62 L484.97,310.36 L486.2,312.52 L487.43,313.19 L488.67,314.95 L489.9,314.73 L491.1,316.35 L492.3,315.45 L493.5,316.02 L495.3,317.85 L496.37,317.1 L497.43,316.35 L498.5,316.35 L499.57,316.73 L500.63,316.28 L501.7,315.97 L503.1,315.64 L504.5,314.92 L505.62,314.53 L506.75,315.27 L507.88,315.87 L509,315.94 L510.04,316.78 L511.09,316.66 L512.13,316.06 L513.17,315.77 L514.21,316.5 L515.26,315.84 L516.3,315.18 L517.53,315.41 L518.77,315.59 L520,316.11 L520,335.19 L518.77,335.11 L517.53,336.29 L516.3,335.06 L515.26,335.9 L514.21,336.17 L513.17,335.55 L512.13,334.64 L511.09,335.45 L510.04,335.68 L509,334.36 L507.88,335.61 L506.75,334.34 L505.62,332.94 L504.5,332.85 L503.1,333.78 L501.7,335.73 L500.63,335.33 L499.57,335.44 L498.5,334.99 L497.43,335.11 L496.37,335.47 L495.3,335.61 L493.5,333.38 L492.3,334.16 L491.1,331.78 L489.9,332.18 L488.67,330.96 L487.43,330 L486.2,327.66 L484.97,328.49 L483.73,326.91 L482.5,325.2 L481.3,325.28 L480.1,326.4 L478.9,326.54 L477.75,326.45 L476.6,325.52 L475.45,325.31 L474.3,324.7 L472.95,325.81 L471.6,328.51 L470.37,327.26 L469.13,328.13 L467.9,327.73 L466.7,328.63 L465.5,329.85 L464.3,329.77 L463.07,330.79 L461.83,332.28 L460.6,332.01 L459.45,332.23 L458.3,335.42 L457.15,333.76 L456,334.29 L454.92,334.25 L453.84,333.64 L452.76,334.16 L451.68,333.89 L450.6,333.38 L449.37,331.9 L448.13,329.63 L446.9,329.04 L445.5,328.61 L444.4,331.52 L443.3,333.18 L441.9,337.12 L440.5,339.18 L439.35,340.75 L438.2,341.09 L436.3,338.85 L435.27,339.18 L434.23,339.74 L433.2,337.76 L432,335.8 L430.8,335.91 L429.6,333.19 L427.7,326.77 L426.35,328 L425,328.42 L424,327.73 L423,325.82 L421.5,329.56 L420.23,332.22 L418.97,334.06 L417.7,336.32 L416.52,338.36 L415.35,339.58 L414.18,341.68 L413,343.15 L412,342.21 L411,340.68 L410,339.36 L409,338.03 L408,337.65 L406.9,335.91 L405.88,336.24 L404.87,337.46 L403.85,339.09 L402.83,339.77 L401.82,340.04 L400.8,341.52 L399.65,339.6 L398.5,338.56 L397.35,336.85 L396.2,335.52 L395.02,334.58 L393.85,333.94 L392.68,332.94 L391.5,331.3 L390.5,333.36 L389.5,333.48 L388.5,334.26 L387.32,336.22 L386.15,335.55 L384.98,337.09 L383.8,337.19 L382.65,338.5 L381.5,339.45 L380.35,339.95 L379.2,340.94 L378.17,340.35 L377.13,340.41 L376.1,339.46 L375.07,337.4 L374.03,336.41 L373,335.64 L371.88,334.87 L370.75,334.25 L369.62,334.54 L368.5,333.3 L367.32,334.33 L366.15,332.11 L364.98,332.47 L363.8,331.43 L362.65,333.34 L361.5,335.01 L360.35,334.81 L359.2,336.97 L357.93,333.46 L356.67,331.99 L355.4,327.57 L354.37,327.74 L353.33,327.14 L352.3,328.21 L351.2,330.62 L350,333.05 L348.8,336.49 L347.53,334.56 L346.27,332.41 L345,330.96 L343.97,329.86 L342.93,329.88 L341.9,328.52 L340.75,328.38 L339.6,329.38 L338.33,327.98 L337.07,329.13 L335.8,328.31 L334.5,331.09 L333.2,332.74 L331.9,336.26 L330.75,335.35 L329.6,335.56 L328.45,334.56 L327.3,334.3 L326.15,333.68 L325,334.25 L323.85,333.61 L322.7,333.02 L321.4,332.97 L320.1,331.54 L318.8,330.75 L317.8,331 L316.8,329.77 L315.8,328.25 L314.65,327.15 L313.5,327.19 L312.47,325.56 L311.43,325.23 L310.4,324.65 L309.2,337.03 L308.07,336.02 L306.93,335.49 L305.8,336.02 L304.65,334.4 L303.5,333.43 L302.35,333.23 L301.2,332.79 L300.02,332.42 L298.85,332.13 L297.68,332 L296.5,332.41 L295.38,331.01 L294.25,331.64 L293.12,331.03 L292,330.06 L290.93,331.77 L289.87,331.39 L288.8,330.69 L288.3,322.8 L286.5,322.8 L285.23,322.53 L283.97,322.27 L282.7,322 L281.67,322 L280.63,322 L279.6,322 L278.55,322.2 L277.5,322.4 L276.45,322.6 L275.4,322.8 L274.37,323.33 L273.33,323.87 L272.3,324.4 L270.8,333.9 L269.2,344.78 L268.07,342.89 L266.93,341.82 L265.8,341.38 L264.6,327.1 L263.45,326.55 L262.3,325.68 L261.15,325.26 L260,324.49 L258.97,326.28 L257.93,324.45 L256.9,324.8 L255.87,324.67 L254.83,324.53 L253.8,324.4 L252.53,324.13 L251.27,323.87 L250,323.6 L248.73,324.33 L247.47,325.63 L246.2,326.82 L245.2,328.08 L244.2,327.35 L243.2,328.59 L242.2,329.26 L241.2,329.44 L240.2,330.18 L239.2,332.86 L237.93,331.66 L236.67,330.62 L235.4,329.28 L234.25,329.84 L233.1,329.49 L231.95,329.62 L230.8,329.58 L229.77,329.77 L228.73,329.27 L227.7,330.44 L226.52,329.53 L225.35,328.06 L224.18,324.77 L223,324 L222,323.87 L221,323.73 L220,323.6 L218.8,323.6 L217.6,323.6 L216.4,323.6 L215.2,323.6 L214.6,339.97 L213.45,340.33 L212.3,341.25 L211.28,341.07 L210.27,342.02 L209.25,341.37 L208.23,342.07 L207.22,345.43 L206.2,343.08 L205.12,344.71 L204.05,345.07 L202.97,345.58 L201.9,346.09 L200.75,346.23 L199.6,347.58 L198.45,347.37 L197.3,345.99 L196.03,345.22 L194.77,343.92 L193.5,343.55 L193,329.94 L191.2,329.19 L190.1,330.82 L189,329.38 L187.9,327.97 L186.8,328.35 L185.8,341.26 L184.53,340.79 L183.27,339.33 L182,338.59 L180.97,338.58 L179.93,339.53 L178.9,338.8 L177.87,336.97 L176.83,337.48 L175.8,336.55 L174.77,335.69 L173.73,335.55 L172.7,335.61 L171.67,335.56 L170.63,334.74 L169.6,334.35 L168.53,334.38 L167.45,333.56 L166.38,332.55 L165.3,330.67 L164.5,337.68 L163.2,339.53 L161.9,341.72 L160.82,341.87 L159.75,341.42 L158.68,341.71 L157.6,341.84 L156.8,322.8 L155.7,322.8 L154.6,322.8 L153.5,322.8 L152.2,323.6 L150.9,324.4 L149.6,325.24 L148.45,325.55 L147.3,326.24 L146.15,328.52 L145,328.32 L143.73,326.55 L142.47,325.95 L141.2,325.14 L140,329.27 L138.8,333.37 L137.53,336.13 L136.27,338.15 L135,340.18 L133.73,338.17 L132.47,337.05 L131.2,336.9 L130.13,335.15 L129.07,334.11 L128,333.93 L126.7,334.37 L125.4,333.41 L124.25,335.21 L123.1,332.99 L121.95,331.37 L120.8,331.25 L119.77,330.22 L118.73,330.55 L117.7,329.12 L116.67,328.59 L115.63,327.45 L114.6,327.72 L113.58,326.97 L112.57,326.35 L111.55,326.8 L110.53,327.71 L109.52,327.16 L108.5,327.36 L107.2,326.59 L105.9,325.19 L104.6,324.71 L103.45,324.7 L102.3,324.4 L101.15,324.55 L100,324.7 L98.85,324.85 L97.7,325.24 L96.53,324.59 L95.35,324.87 L94.17,324.95 L93,325.42 L91.73,325.09 L90.47,325.06 L89.2,325.47 L87.7,322.8 L86.4,322.7 L85.1,322.6 L83.8,322.5 L82.8,322.33 L81.8,322.17 L80.8,322 L79.77,322 L78.73,322 L77.7,322 L76.67,322 L75.63,322 L74.6,322 L73.57,322 L72.55,322 L71.53,322 L70.5,322 L69.2,326.52 L68.05,326.96 L66.9,328.36 L65.87,327.48 L64.83,327.01 L63.8,327.12 L62.53,326.72 L61.27,326.34 L60,325.8 L58.73,327.09 L57.47,325.93 L56.2,326.52 L55.13,329.2 L54.07,331.38 L53,334.59 L52,334.32 L51,333.98 L50,333.46Z" fill="#0000ff" fill-opacity="0.5"/>
<path d="M50,320.5 L51,320.5 L52,320.5 L53,320.5 L54.07,320.27 L55.13,320.03 L56.2,319.8 L57.47,319.8 L58.73,319.8 L60,319.8 L61.27,319.8 L62.53,319.8 L63.8,319.8 L64.83,319.8 L65.87,319.8 L66.9,319.8 L68.05,319.8 L69.2,319.8 L70.5,294.76 L71.53,294.42 L72.55,294.57 L73.57,294.06 L74.6,295.02 L75.63,294.79 L76.67,294.53 L77.7,293.27 L78.73,294.12 L79.77,294.3 L80.8,294.29 L81.8,293.88 L82.8,294.7 L83.8,294.12 L85.1,294.57 L86.4,295.03 L87.7,294.45 L89.2,316.45 L90.47,316.87 L91.73,317.12 L93,317.02 L94.17,318.25 L95.35,318.48 L96.53,318.13 L97.7,316.82 L98.85,318.07 L100,319.3 L101.15,317.34 L102.3,319 L103.45,319 L104.6,319 L105.9,319 L107.2,319 L108.5,319 L109.52,319.13 L110.53,319.27 L111.55,319.4 L112.57,319.53 L113.58,319.67 L114.6,319.8 L115.63,319.92 L116.67,320.03 L117.7,320.15 L118.73,320.27 L119.77,320.38 L120.8,320.5 L121.95,320.5 L123.1,320.5 L124.25,320.5 L125.4,320.5 L126.7,320.15 L128,319.8 L129.07,319.8 L130.13,319.8 L131.2,319.8 L132.47,319.8 L133.73,319.8 L135,319.8 L136.27,319.53 L137.53,319.27 L138.8,319 L140,318.85 L141.2,318.58 L142.47,318.63 L143.73,317.3 L145,316.82 L146.15,316.86 L147.3,316.98 L148.45,317.13 L149.6,316.65 L150.9,314.97 L152.2,315.16 L153.5,314.18 L154.6,316.15 L155.7,316.1 L156.8,316.52 L157.6,319.8 L158.68,319.8 L159.75,319.8 L160.82,319.8 L161.9,319.8 L163.2,319.8 L164.5,319.8 L165.3,319.8 L166.38,319.8 L167.45,319.8 L168.53,319.8 L169.6,319.8 L170.63,319.8 L171.67,319.8 L172.7,319.8 L173.73,319.8 L174.77,319.8 L175.8,319.8 L176.83,319.8 L177.87,319.8 L178.9,319.8 L179.93,319.8 L180.97,319.8 L182,319.8 L183.27,319.8 L184.53,319.8 L185.8,319.8 L186.8,312 L187.9,310.83 L189,311.99 L190.1,312.22 L191.2,312.62 L193,311.93 L193.5,315.06 L194.77,314.59 L196.03,314.88 L197.3,315.26 L198.45,314.93 L199.6,315.59 L200.75,316.15 L201.9,315.73 L202.97,316.08 L204.05,315.41 L205.12,315.55 L206.2,314.87 L207.22,315.09 L208.23,315.47 L209.25,315.24 L210.27,314.45 L211.28,315.18 L212.3,314.3 L213.45,314.79 L214.6,315.06 L215.2,317.57 L216.4,316.61 L217.6,318.43 L218.8,318.22 L220,318.62 L221,318.71 L222,317.1 L223,318.78 L224.18,319.02 L225.35,318.63 L226.52,319.47 L227.7,319 L228.73,319 L229.77,319 L230.8,319 L231.95,319 L233.1,319 L234.25,319 L235.4,319 L236.67,319 L237.93,319 L239.2,319 L240.2,314.92 L241.2,311.96 L242.2,312.8 L243.2,311.8 L244.2,311.9 L245.2,313.22 L246.2,312.96 L247.47,312.88 L248.73,312.41 L250,312 L251.27,312.65 L252.53,313.58 L253.8,314.87 L254.83,314.92 L255.87,314.43 L256.9,314.69 L257.93,315.12 L258.97,314.81 L260,315.53 L261.15,315.02 L262.3,315.2 L263.45,315.91 L264.6,315.75 L265.8,318 L266.93,317.98 L268.07,318.34 L269.2,318.6 L270.8,317.97 L272.3,308.94 L273.33,309.23 L274.37,307.97 L275.4,304.88 L276.45,304.21 L277.5,305.69 L278.55,304.32 L279.6,304.11 L280.63,304.36 L281.67,304.08 L282.7,303.13 L283.97,303.11 L285.23,304.56 L286.5,304.98 L288.3,304.54 L288.8,317.84 L289.87,316.65 L290.93,317.31 L292,317.95 L293.12,318.53 L294.25,318.51 L295.38,318.04 L296.5,318.82 L297.68,318.01 L298.85,317.01 L300.02,318.22 L301.2,318.2 L302.35,318.74 L303.5,317.01 L304.65,316.86 L305.8,317.41 L306.93,316.88 L308.07,316.88 L309.2,317.52 L310.4,315.88 L311.43,316.37 L312.47,317.07 L313.5,317.66 L314.65,318.19 L315.8,318.54 L316.8,318.66 L317.8,318.59 L318.8,319 L320.1,319.27 L321.4,319.53 L322.7,319.8 L323.85,319.8 L325,319.8 L326.15,319.8 L327.3,319.8 L328.45,319.4 L329.6,319 L330.75,318.65 L331.9,317.41 L333.2,317.22 L334.5,317.77 L335.8,317.73 L337.07,317.64 L338.33,317.56 L339.6,318.69 L340.75,317.54 L341.9,315.52 L342.93,316.96 L343.97,317.45 L345,316.77 L346.27,317.37 L347.53,316.28 L348.8,317.9 L350,317.07 L351.2,316.49 L352.3,315.87 L353.33,315.33 L354.37,315.83 L355.4,316.1 L356.67,314.08 L357.93,314.36 L359.2,314.16 L360.35,314.43 L361.5,313.95 L362.65,314.83 L363.8,315.61 L364.98,316.38 L366.15,316.74 L367.32,316.84 L368.5,316.84 L369.62,317.02 L370.75,316.9 L371.88,317.79 L373,317.91 L374.03,317.46 L375.07,317.61 L376.1,318.56 L377.13,318.26 L378.17,317.56 L379.2,318.72 L380.35,318.09 L381.5,316.83 L382.65,318.19 L383.8,317.72 L384.98,317.08 L386.15,317.23 L387.32,317.18 L388.5,314.71 L389.5,316.23 L390.5,317.12 L391.5,316.21 L392.68,316.37 L393.85,316.3 L395.02,317.27 L396.2,317.32 L397.35,318.28 L398.5,317.36 L399.65,318.44 L400.8,318.9 L401.82,317.68 L402.83,317.25 L403.85,316.28 L404.87,315.61 L405.88,314.82 L406.9,313.3 L408,317.57 L409,318.31 L410,318.77 L411,319.08 L412,319.44 L413,319.8 L414.18,319.23 L415.35,318.72 L416.52,318.07 L417.7,317.96 L418.97,317.4 L420.23,315.83 L421.5,316.03 L423,302.22 L424,302.84 L425,302.83 L426.35,303.79 L427.7,303.44 L429.6,315.2 L430.8,315.31 L432,317.49 L433.2,318.86 L434.23,317.99 L435.27,318.9 L436.3,319.2 L438.2,320 L439.35,317.1 L440.5,314.47 L441.9,312.82 L443.3,312.29 L444.4,310.31 L445.5,310.41 L446.9,309.12 L448.13,312.08 L449.37,314.16 L450.6,316.06 L451.68,316.39 L452.76,316.18 L453.84,316.67 L454.92,317.36 L456,317.43 L457.15,317.17 L458.3,317.79 L459.45,316.64 L460.6,318.03 L461.83,316.58 L463.07,314.69 L464.3,313.13 L465.5,314.86 L466.7,314.6 L467.9,316.94 L469.13,315.59 L470.37,314.61 L471.6,314.53 L472.95,313 L474.3,310.77 L475.45,309.86 L476.6,308.92 L477.75,308.22 L478.9,306.94 L480.1,309.33 L481.3,312.48 L482.5,314.84 L483.73,314.67 L484.97,315.45 L486.2,315.72 L487.43,315.45 L488.67,317.15 L489.9,317.36 L491.1,318.07 L492.3,316.09 L493.5,318.76 L495.3,317.54 L496.37,317.96 L497.43,315.85 L498.5,317.36 L499.57,317.51 L500.63,316.97 L501.7,316.94 L503.1,316.71 L504.5,316.18 L505.62,315.47 L506.75,316.32 L507.88,315.83 L509,315.73 L510.04,316.81 L511.09,316.28 L512.13,316.7 L513.17,314.98 L514.21,315.32 L515.26,315.99 L516.3,315.19 L517.53,316.18 L518.77,315.36 L520,315.62 L520,327.62 L518.77,328.14 L517.53,329.04 L516.3,328.07 L515.26,328.11 L514.21,328.42 L513.17,328.34 L512.13,327.97 L511.09,328.38 L510.04,328.03 L509,328.86 L507.88,327.42 L506.75,328.11 L505.62,327.78 L504.5,326.85 L503.1,327.87 L501.7,327.89 L500.63,327.98 L499.57,327.71 L498.5,328.36 L497.43,327.89 L496.37,327.65 L495.3,328 L493.5,337.89 L492.3,337.66 L491.1,338.21 L489.9,337.69 L488.67,335.78 L487.43,333.82 L486.2,331.41 L484.97,330.64 L483.73,328.13 L482.5,326.04 L481.3,325.31 L480.1,325.51 L478.9,326.05 L477.75,325.8 L476.6,324.92 L475.45,325.1 L474.3,324.7 L472.95,324.25 L471.6,323.8 L470.37,324.1 L469.13,324.4 L467.9,324.7 L466.7,324.44 L465.5,324.83 L464.3,325.16 L463.07,326.38 L461.83,327.56 L460.6,328.74 L459.45,329.66 L458.3,329.15 L457.15,330.38 L456,330.68 L454.92,330.34 L453.84,331.58 L452.76,330.07 L451.68,332.19 L450.6,331.15 L449.37,328.98 L448.13,329.87 L446.9,328.63 L445.5,327.79 L444.4,330.72 L443.3,330.23 L441.9,331.3 L440.5,333.15 L439.35,336.79 L438.2,341.2 L436.3,347.78 L435.27,346.97 L434.23,346.76 L433.2,346.93 L432,344.34 L430.8,343.44 L429.6,340.96 L427.7,325.6 L426.35,324.76 L425,324.7 L424,324.55 L423,324.4 L421.5,326.42 L420.23,327.25 L418.97,328.84 L417.7,328.29 L416.52,328.91 L415.35,328.89 L414.18,329.66 L413,329.19 L412,329.29 L411,329.57 L410,329.64 L409,329.39 L408,330.11 L406.9,329.16 L405.88,329.74 L404.87,329.66 L403.85,328.81 L402.83,329.15 L401.82,329.1 L400.8,330.7 L399.65,329.88 L398.5,329.38 L397.35,329.07 L396.2,327.67 L395.02,326.87 L393.85,327.55 L392.68,326.65 L391.5,324.78 L390.5,326.67 L389.5,327.74 L388.5,329.78 L387.32,330.05 L386.15,330.21 L384.98,331.37 L383.8,331.22 L382.65,332.8 L381.5,332.9 L380.35,333.69 L379.2,334.47 L378.17,333.39 L377.13,333.23 L376.1,332.5 L375.07,332.81 L374.03,332.28 L373,332.07 L371.88,331.27 L370.75,328.38 L369.62,327.48 L368.5,327.47 L367.32,326.75 L366.15,325.91 L364.98,325.98 L363.8,324.54 L362.65,324.45 L361.5,324.8 L360.35,324.6 L359.2,324.4 L357.93,324.67 L356.67,324.47 L355.4,325.74 L354.37,324.67 L353.33,324.13 L352.3,323.6 L351.2,338.72 L350,338.61 L348.8,340.44 L347.53,339.31 L346.27,338.03 L345,336.57 L343.97,335.52 L342.93,331.55 L341.9,330.83 L340.75,328.77 L339.6,327.9 L338.33,327.58 L337.07,327.56 L335.8,328.64 L334.5,327.69 L333.2,327.8 L331.9,328.04 L330.75,328.52 L329.6,328.05 L328.45,327.97 L327.3,327.62 L326.15,327.9 L325,328.62 L323.85,328.2 L322.7,329.29 L321.4,328.21 L320.1,327.47 L318.8,327.59 L317.8,327.34 L316.8,326.6 L315.8,326.84 L314.65,325.7 L313.5,326.16 L312.47,326.19 L311.43,325.56 L310.4,325.31 L309.2,326.24 L308.07,326.54 L306.93,326.99 L305.8,326.6 L304.65,326.44 L303.5,327.25 L302.35,327.72 L301.2,327.15 L300.02,327.41 L298.85,327.68 L297.68,328.42 L296.5,327.9 L295.38,329.46 L294.25,328.03 L293.12,328.4 L292,328.48 L290.93,329.3 L289.87,329.81 L288.8,329.25 L288.3,322.8 L286.5,322.8 L285.23,322.53 L283.97,322.27 L282.7,322 L281.67,322 L280.63,322 L279.6,322 L278.55,322.2 L277.5,322.4 L276.45,322.6 L275.4,322.8 L274.37,323.33 L273.33,323.87 L272.3,324.4 L270.8,334.26 L269.2,338.77 L268.07,339.46 L266.93,338.31 L265.8,338.71 L264.6,326.81 L263.45,326.41 L262.3,325.75 L261.15,325.9 L260,324.63 L258.97,325.61 L257.93,324.83 L256.9,324.8 L255.87,324.67 L254.83,324.53 L253.8,324.4 L252.53,324.13 L251.27,323.87 L250,323.6 L248.73,323.6 L247.47,323.6 L246.2,323.6 L245.2,323.6 L244.2,323.6 L243.2,323.6 L242.2,323.6 L241.2,323.6 L240.2,327.79 L239.2,332.45 L237.93,333.06 L236.67,332.04 L235.4,330.9 L234.25,332.78 L233.1,331.79 L231.95,333 L230.8,332.62 L229.77,333.33 L228.73,333.37 L227.7,335.72 L226.52,332.99 L225.35,330.73 L224.18,329.49 L223,327.95 L222,326.91 L221,326.58 L220,324.84 L218.8,324.93 L217.6,325.98 L216.4,325.8 L215.2,324.51 L214.6,325.09 L213.45,324.9 L212.3,324.66 L211.28,326.75 L210.27,324.56 L209.25,325.12 L208.23,325.57 L207.22,324.69 L206.2,325.77 L205.12,324.92 L204.05,324.79 L202.97,324.71 L201.9,324.64 L200.75,324.53 L199.6,325.2 L198.45,325.61 L197.3,325.49 L196.03,325.18 L194.77,325.37 L193.5,325.39 L193,324.4 L191.2,324.4 L190.1,324.2 L189,324 L187.9,323.8 L186.8,323.6 L185.8,327.68 L184.53,328.56 L183.27,327.53 L182,328.78 L180.97,329.26 L179.93,328.06 L178.9,328.33 L177.87,328.39 L176.83,328.36 L175.8,328.3 L174.77,328.17 L173.73,329.4 L172.7,328.2 L171.67,328.05 L170.63,328.15 L169.6,328.68 L168.53,328.83 L167.45,327.7 L166.38,327.49 L165.3,328.1 L164.5,328.53 L163.2,328.51 L161.9,328.73 L160.82,327.94 L159.75,328.94 L158.68,327.99 L157.6,328.75 L156.8,322.8 L155.7,322.8 L154.6,322.8 L153.5,322.8 L152.2,322.8 L150.9,322.8 L149.6,322.8 L148.45,323 L147.3,323.2 L146.15,323.4 L145,323.6 L143.73,323.6 L142.47,323.6 L141.2,323.6 L140,325.79 L138.8,327.69 L137.53,327.02 L136.27,328.47 L135,327.63 L133.73,327.48 L132.47,327.6 L131.2,326.91 L130.13,326.76 L129.07,326.07 L128,325.8 L126.7,326.65 L125.4,326.37 L124.25,326.22 L123.1,326.97 L121.95,327.43 L120.8,326.1 L119.77,327.16 L118.73,326.07 L117.7,326.14 L116.67,326.47 L115.63,327.13 L114.6,326.04 L113.58,327.01 L112.57,326.36 L111.55,327.45 L110.53,326.88 L109.52,327.41 L108.5,326.88 L107.2,326.52 L105.9,326.88 L104.6,325.38 L103.45,325.31 L102.3,326.61 L101.15,325.53 L100,327.13 L98.85,326.52 L97.7,327.08 L96.53,326.43 L95.35,327.32 L94.17,326.75 L93,327.33 L91.73,326.96 L90.47,327.13 L89.2,327.9 L87.7,322.8 L86.4,322.7 L85.1,322.6 L83.8,322.5 L82.8,322.33 L81.8,322.17 L80.8,322 L79.77,322 L78.73,322 L77.7,322 L76.67,322 L75.63,322 L74.6,322 L73.57,322 L72.55,322 L71.53,322 L70.5,322 L69.2,326.04 L68.05,328.7 L66.9,331.08 L65.87,330.14 L64.83,329.94 L63.8,329.37 L62.53,329.83 L61.27,328.8 L60,328.2 L58.73,327.5 L57.47,327.82 L56.2,328.4 L55.13,329.45 L54.07,330.07 L53,331.35 L52,332.13 L51,331.33 L50,330.67Z" fill="#ff0000" fill-opacity="0.53"/>
</g>
<path d="M50.5,281.9 V361.9" stroke="#333" stroke-width="1" fill="none"/>
<line x1="44.5" y1="281.9" x2="50.5" y2="281.9" stroke="#333" stroke-width="1"/>
<line x1="44.5" y1="301.9" x2="50.5" y2="301.9" stroke="#333" stroke-width="1"/>
<line x1="44.5" y1="321.9" x2="50.5" y2="321.9" stroke="#333" stroke-width="1"/>
<line x1="44.5" y1="341.9" x2="50.5" y2="341.9" stroke="#333" stroke-width="1"/>
<line x1="44.5" y1="361.9" x2="50.5" y2="361.9" stroke="#333" stroke-width="1"/>
<text transform="translate(41.6,281.9) rotate(-90)" text-anchor="middle" font-size="10.6" fill="#1a1a1a" font-family="Liberation Sans, Arial, sans-serif">100%</text>
<text transform="translate(41.6,321.9) rotate(-90)" text-anchor="middle" font-size="10.6" fill="#1a1a1a" font-family="Liberation Sans, Arial, sans-serif">0%</text>
<text transform="translate(41.6,361.9) rotate(-90)" text-anchor="middle" font-size="10.6" fill="#1a1a1a" font-family="Liberation Sans, Arial, sans-serif">100%</text>
<path d="M69.79,361.9 H504.45" stroke="#333" stroke-width="1" fill="none"/>
<line x1="69.79" y1="361.9" x2="69.79" y2="367.9" stroke="#333" stroke-width="1"/>
<text x="69.79" y="378.7" text-anchor="middle" font-size="10.6" fill="#1a1a1a" font-family="Liberation Sans, Arial, sans-serif">1</text>
<line x1="103.36" y1="361.9" x2="103.36" y2="367.9" stroke="#333" stroke-width="1"/>
<text x="103.36" y="378.7" text-anchor="middle" font-size="10.6" fill="#1a1a1a" font-family="Liberation Sans, Arial, sans-serif">2</text>
<line x1="140.54" y1="361.9" x2="140.54" y2="367.9" stroke="#333" stroke-width="1"/>
<text x="140.54" y="378.7" text-anchor="middle" font-size="10.6" fill="#1a1a1a" font-family="Liberation Sans, Arial, sans-serif">3</text>
<line x1="164.83" y1="361.9" x2="164.83" y2="367.9" stroke="#333" stroke-width="1"/>
<text x="164.83" y="378.7" text-anchor="middle" font-size="10.6" fill="#1a1a1a" font-family="Liberation Sans, Arial, sans-serif">4</text>
<line x1="194.02" y1="361.9" x2="194.02" y2="367.9" stroke="#333" stroke-width="1"/>
<text x="194.02" y="378.7" text-anchor="middle" font-size="10.6" fill="#1a1a1a" font-family="Liberation Sans, Arial, sans-serif">5</text>
<line x1="223.88" y1="361.9" x2="223.88" y2="367.9" stroke="#333" stroke-width="1"/>
<text x="223.88" y="378.7" text-anchor="middle" font-size="10.6" fill="#1a1a1a" font-family="Liberation Sans, Arial, sans-serif">6</text>
<line x1="250.12" y1="361.9" x2="250.12" y2="367.9" stroke="#333" stroke-width="1"/>
<text x="250.12" y="378.7" text-anchor="middle" font-size="10.6" fill="#1a1a1a" font-family="Liberation Sans, Arial, sans-serif">7</text>
<line x1="272.47" y1="361.9" x2="272.47" y2="367.9" stroke="#333" stroke-width="1"/>
<text x="272.47" y="378.7" text-anchor="middle" font-size="10.6" fill="#1a1a1a" font-family="Liberation Sans, Arial, sans-serif">8</text>
<line x1="295.58" y1="361.9" x2="295.58" y2="367.9" stroke="#333" stroke-width="1"/>
<text x="295.58" y="378.7" text-anchor="middle" font-size="10.6" fill="#1a1a1a" font-family="Liberation Sans, Arial, sans-serif">9</text>
<line x1="316.02" y1="361.9" x2="316.02" y2="367.9" stroke="#333" stroke-width="1"/>
<text x="316.02" y="378.7" text-anchor="middle" font-size="10.6" fill="#1a1a1a" font-family="Liberation Sans, Arial, sans-serif">10</text>
<line x1="339.02" y1="361.9" x2="339.02" y2="367.9" stroke="#333" stroke-width="1"/>
<text x="339.02" y="378.7" text-anchor="middle" font-size="10.6" fill="#1a1a1a" font-family="Liberation Sans, Arial, sans-serif">11</text>
<line x1="357.09" y1="361.9" x2="357.09" y2="367.9" stroke="#333" stroke-width="1"/>
<line x1="374.98" y1="361.9" x2="374.98" y2="367.9" stroke="#333" stroke-width="1"/>
<text x="374.98" y="378.7" text-anchor="middle" font-size="10.6" fill="#1a1a1a" font-family="Liberation Sans, Arial, sans-serif">13</text>
<line x1="392.71" y1="361.9" x2="392.71" y2="367.9" stroke="#333" stroke-width="1"/>
<line x1="409.49" y1="361.9" x2="409.49" y2="367.9" stroke="#333" stroke-width="1"/>
<text x="409.49" y="378.7" text-anchor="middle" font-size="10.6" fill="#1a1a1a" font-family="Liberation Sans, Arial, sans-serif">15</text>
<line x1="428.03" y1="361.9" x2="428.03" y2="367.9" stroke="#333" stroke-width="1"/>
<line x1="440.03" y1="361.9" x2="440.03" y2="367.9" stroke="#333" stroke-width="1"/>
<text x="440.03" y="378.7" text-anchor="middle" font-size="10.6" fill="#1a1a1a" font-family="Liberation Sans, Arial, sans-serif">17</text>
<line x1="451.51" y1="361.9" x2="451.51" y2="367.9" stroke="#333" stroke-width="1"/>
<line x1="464.99" y1="361.9" x2="464.99" y2="367.9" stroke="#333" stroke-width="1"/>
<text x="464.99" y="378.7" text-anchor="middle" font-size="10.6" fill="#1a1a1a" font-family="Liberation Sans, Arial, sans-serif">19</text>
<line x1="474.27" y1="361.9" x2="474.27" y2="367.9" stroke="#333" stroke-width="1"/>
<line x1="481.79" y1="361.9" x2="481.79" y2="367.9" stroke="#333" stroke-width="1"/>
<line x1="489.45" y1="361.9" x2="489.45" y2="367.9" stroke="#333" stroke-width="1"/>
<text x="489.45" y="378.7" text-anchor="middle" font-size="10.6" fill="#1a1a1a" font-family="Liberation Sans, Arial, sans-serif">22</text>
<line x1="504.45" y1="361.9" x2="504.45" y2="367.9" stroke="#333" stroke-width="1"/>
<text transform="translate(15.6,321.9) rotate(-90)" text-anchor="middle" font-size="10.6" fill="#1a1a1a" font-family="Liberation Sans, Arial, sans-serif">TCGA HER2<tspan font-size="75%" baseline-shift="62%">&#8722;</tspan></text>
<text x="7.6" y="264.7" font-size="12.6" font-weight="bold" fill="#000" font-family="Liberation Sans, Arial, sans-serif">C</text>
<rect x="481.3" y="18.2" width="37.3" height="27.4" fill="#fff" stroke="#777" stroke-width="1"/>
<rect x="488.5" y="24.8" width="6.2" height="4.8" fill="#e00000" stroke="#500" stroke-width="0.6"/>
<rect x="488.5" y="34.1" width="6.2" height="4.8" fill="#0000e0" stroke="#005" stroke-width="0.6"/>
<text x="501.6" y="29.9" font-size="6.6" fill="#1a1a1a" font-family="Liberation Sans, Arial, sans-serif">ER<tspan font-size="75%" baseline-shift="62%">+</tspan></text>
<text x="501.6" y="39.2" font-size="6.6" fill="#1a1a1a" font-family="Liberation Sans, Arial, sans-serif">ER<tspan font-size="75%" baseline-shift="62%">&#8722;</tspan></text>
<clipPath id="clipD"><rect x="31" y="414.3" width="92.3" height="65.5"/></clipPath>
<g clip-path="url(#clipD)">
<polygon points="35,448 46.6,442 56.9,438 67.3,435 72,430 80,423 90,417 100,414.5 108,418 109,426 106,432 110,437.9 111,443 106,450.3 97,456 88,461.6 80.2,465.8 67.3,465.8 56.9,464.2 46.6,462.7 35,459.6" fill="#c4ddf1" filter="url(#b2_5)"/>
<ellipse cx="116" cy="445" rx="7.5" ry="9" transform="rotate(0 116 445)" fill="#c4ddf1" filter="url(#b2_5)"/>
<ellipse cx="43.5" cy="470.5" rx="10" ry="6" transform="rotate(-10 43.5 470.5)" fill="#c4ddf1" filter="url(#b2_5)"/>
<polygon points="37.2,448.2 46.6,444.1 56.9,440 67.3,437.3 75,432 85.4,429.6 95.7,428.5 104,431.6 108.2,437.9 109.2,443 104,449.3 95.7,454.5 87.4,459.6 80.2,463.8 67.3,463.8 56.9,462.2 46.6,460.7 37.2,457.6" fill="#94c3e7" filter="url(#b2)"/>
<ellipse cx="116" cy="445" rx="5" ry="6.5" transform="rotate(0 116 445)" fill="#94c3e7" filter="url(#b2)"/>
<ellipse cx="43.5" cy="470.5" rx="7" ry="3.8" transform="rotate(-10 43.5 470.5)" fill="#94c3e7" filter="url(#b2)"/>
<polygon points="46,449 56,445 66,442 76,439 86,436 96,434 106,435 110,440 106,447 98,452 90,457 82,461 71,461 58,459 48,456" fill="#589dd7" filter="url(#b2)"/>
<ellipse cx="116" cy="446" rx="3" ry="4.5" transform="rotate(0 116 446)" fill="#589dd7" filter="url(#b2)"/>
<ellipse cx="44" cy="471" rx="5" ry="2.8" transform="rotate(-10 44 471)" fill="#589dd7" filter="url(#b2)"/>
<polygon points="51,448 61,445 71,443 81,441 94,440 102,442 96,448 88,454 78,458 66,458 54,455" fill="#357ac3" filter="url(#b1_5)"/>
<ellipse cx="64" cy="451.5" rx="9" ry="3.5" transform="rotate(-5 64 451.5)" fill="#2465ad" filter="url(#b1_5)"/>
<ellipse cx="88" cy="447" rx="8" ry="3.5" transform="rotate(-20 88 447)" fill="#2465ad" filter="url(#b1_5)"/>
<ellipse cx="88.37" cy="417.44" rx="0.52" ry="0.65" fill="#15253a" fill-opacity="0.85"/>
<ellipse cx="102.03" cy="416.72" rx="0.73" ry="0.68" fill="#15253a" fill-opacity="0.85"/>
<ellipse cx="57.02" cy="463.21" rx="0.62" ry="0.57" fill="#15253a" fill-opacity="0.85"/>
<ellipse cx="56.92" cy="464.06" rx="0.73" ry="0.63" fill="#15253a" fill-opacity="0.85"/>
<ellipse cx="68.87" cy="432.97" rx="0.82" ry="0.54" fill="#15253a" fill-opacity="0.85"/>
<ellipse cx="36.09" cy="446.17" rx="0.57" ry="0.52" fill="#15253a" fill-opacity="0.85"/>
<ellipse cx="35.8" cy="446.71" rx="0.66" ry="0.75" fill="#15253a" fill-opacity="0.85"/>
<ellipse cx="36.37" cy="446.86" rx="0.83" ry="0.72" fill="#15253a" fill-opacity="0.85"/>
<ellipse cx="107.64" cy="418.78" rx="0.51" ry="0.7" fill="#15253a" fill-opacity="0.85"/>
<ellipse cx="75.15" cy="428.25" rx="0.67" ry="0.72" fill="#15253a" fill-opacity="0.85"/>
<ellipse cx="68.84" cy="434.53" rx="0.5" ry="0.8" fill="#15253a" fill-opacity="0.85"/>
<ellipse cx="58" cy="438.9" rx="0.57" ry="0.55" fill="#15253a" fill-opacity="0.85"/>
<ellipse cx="57.38" cy="438.19" rx="0.82" ry="0.55" fill="#15253a" fill-opacity="0.85"/>
<ellipse cx="79.62" cy="466.88" rx="0.68" ry="0.63" fill="#15253a" fill-opacity="0.85"/>
<ellipse cx="80.78" cy="466.83" rx="0.64" ry="0.57" fill="#15253a" fill-opacity="0.85"/>
<ellipse cx="79.22" cy="465.7" rx="0.59" ry="0.83" fill="#15253a" fill-opacity="0.85"/>
<ellipse cx="40.16" cy="446.78" rx="0.8" ry="0.53" fill="#15253a" fill-opacity="0.85"/>
<ellipse cx="84.54" cy="421.01" rx="0.84" ry="0.81" fill="#15253a" fill-opacity="0.85"/>
<ellipse cx="85.05" cy="420.81" rx="0.64" ry="0.84" fill="#15253a" fill-opacity="0.85"/>
<ellipse cx="85.34" cy="420.5" rx="0.82" ry="0.53" fill="#15253a" fill-opacity="0.85"/>
<ellipse cx="110.16" cy="425.16" rx="0.54" ry="0.55" fill="#15253a" fill-opacity="0.85"/>
<ellipse cx="110.72" cy="425.44" rx="0.51" ry="0.71" fill="#15253a" fill-opacity="0.85"/>
<ellipse cx="109.58" cy="425.69" rx="0.64" ry="0.55" fill="#15253a" fill-opacity="0.85"/>
<ellipse cx="95.96" cy="455.43" rx="0.59" ry="0.54" fill="#15253a" fill-opacity="0.85"/>
<ellipse cx="107.89" cy="430.02" rx="0.55" ry="0.83" fill="#15253a" fill-opacity="0.85"/>
<line x1="44.2" y1="479.8" x2="123.3" y2="419.1" stroke="#111" stroke-width="1.1"/>
</g>
<rect x="31" y="414.3" width="92.3" height="65.5" fill="none" stroke="#333" stroke-width="1"/>
<line x1="37.5" y1="479.8" x2="37.5" y2="485.3" stroke="#333" stroke-width="1"/>
<text x="37.5" y="494.5" text-anchor="middle" font-size="7.1" class="s" fill="#1a1a1a" font-family="Liberation Sans, Arial, sans-serif">&#8722;0.4</text>
<line x1="49.59" y1="479.8" x2="49.59" y2="485.3" stroke="#333" stroke-width="1"/>
<line x1="61.67" y1="479.8" x2="61.67" y2="485.3" stroke="#333" stroke-width="1"/>
<text x="61.67" y="494.5" text-anchor="middle" font-size="7.1" class="s" fill="#1a1a1a" font-family="Liberation Sans, Arial, sans-serif">&#8722;0.2</text>
<line x1="73.76" y1="479.8" x2="73.76" y2="485.3" stroke="#333" stroke-width="1"/>
<line x1="85.84" y1="479.8" x2="85.84" y2="485.3" stroke="#333" stroke-width="1"/>
<text x="85.84" y="494.5" text-anchor="middle" font-size="7.1" class="s" fill="#1a1a1a" font-family="Liberation Sans, Arial, sans-serif">0.0</text>
<line x1="97.93" y1="479.8" x2="97.93" y2="485.3" stroke="#333" stroke-width="1"/>
<line x1="110.01" y1="479.8" x2="110.01" y2="485.3" stroke="#333" stroke-width="1"/>
<text x="110.01" y="494.5" text-anchor="middle" font-size="7.1" class="s" fill="#1a1a1a" font-family="Liberation Sans, Arial, sans-serif">0.2</text>
<line x1="122.1" y1="479.8" x2="122.1" y2="485.3" stroke="#333" stroke-width="1"/>
<line x1="24.7" y1="475" x2="31" y2="475" stroke="#333" stroke-width="1"/>
<text transform="translate(24.7,475) rotate(-90)" text-anchor="middle" font-size="7.1" class="s" fill="#1a1a1a" font-family="Liberation Sans, Arial, sans-serif">&#8722;0.3</text>
<line x1="24.7" y1="465.67" x2="31" y2="465.67" stroke="#333" stroke-width="1"/>
<line x1="24.7" y1="456.33" x2="31" y2="456.33" stroke="#333" stroke-width="1"/>
<line x1="24.7" y1="447" x2="31" y2="447" stroke="#333" stroke-width="1"/>
<text transform="translate(24.7,447) rotate(-90)" text-anchor="middle" font-size="7.1" class="s" fill="#1a1a1a" font-family="Liberation Sans, Arial, sans-serif">0.0</text>
<line x1="24.7" y1="437.67" x2="31" y2="437.67" stroke="#333" stroke-width="1"/>
<line x1="24.7" y1="428.33" x2="31" y2="428.33" stroke="#333" stroke-width="1"/>
<text transform="translate(24.7,428.33) rotate(-90)" text-anchor="middle" font-size="7.1" class="s" fill="#1a1a1a" font-family="Liberation Sans, Arial, sans-serif">0.2</text>
<line x1="24.7" y1="419" x2="31" y2="419" stroke="#333" stroke-width="1"/>
<text x="77.15" y="504.3" text-anchor="middle" font-size="7.4" class="s" fill="#1a1a1a" font-family="Liberation Sans, Arial, sans-serif">%Gain ER<tspan font-size="75%" baseline-shift="50%">+</tspan> <tspan font-size="85%">&#8211;</tspan> ER<tspan font-size="75%" baseline-shift="50%">&#8722;</tspan>, HER2<tspan font-size="75%" baseline-shift="50%">&#8722;</tspan></text>
<text x="77.15" y="514" text-anchor="middle" font-size="7.4" class="s" fill="#1a1a1a" font-family="Liberation Sans, Arial, sans-serif">TCGA</text>
<text transform="translate(6,447.05) rotate(-90)" text-anchor="middle" font-size="7.4" class="s" fill="#1a1a1a" font-family="Liberation Sans, Arial, sans-serif">%Gain ER<tspan font-size="75%" baseline-shift="50%">+</tspan> <tspan font-size="85%">&#8211;</tspan> ER<tspan font-size="75%" baseline-shift="50%">&#8722;</tspan></text>
<text transform="translate(14.5,447.05) rotate(-90)" text-anchor="middle" font-size="7.4" class="s" fill="#1a1a1a" font-family="Liberation Sans, Arial, sans-serif">NeoALTTO</text>
<text x="103.3" y="465.7" text-anchor="middle" font-size="6.8" class="s" fill="#1a1a1a" font-family="Liberation Sans, Arial, sans-serif"><tspan font-style="italic">r</tspan> = 45%</text>
<text x="103.3" y="473.4" text-anchor="middle" font-size="6.8" class="s" fill="#1a1a1a" font-family="Liberation Sans, Arial, sans-serif">Slope = 0.4</text>
<text x="7.7" y="399.2" font-size="12.6" font-weight="bold" fill="#000" font-family="Liberation Sans, Arial, sans-serif">D</text>
<clipPath id="clipE"><rect x="162.8" y="414.3" width="92.3" height="65.5"/></clipPath>
<g clip-path="url(#clipE)">
<polygon points="164,459 173,451 184,445 194,440 203,434 208,426 213,417 230,415 242,418 247,431 255,438 255,458 240,460 228,464 215,470 200,476 185,479 164,479" fill="#c4ddf1" filter="url(#b2_5)"/>
<polygon points="171,464 179,457 189,451 199,446 209,440 215,432 221,426 231,426 239,432 243,440 253,443 254,456 241,458 229,462 217,468 203,474 189,477 171,477" fill="#94c3e7" filter="url(#b2)"/>
<ellipse cx="247" cy="450" rx="9" ry="8" transform="rotate(0 247 450)" fill="#94c3e7" filter="url(#b2)"/>
<ellipse cx="225" cy="428" rx="10" ry="7" transform="rotate(-20 225 428)" fill="#94c3e7" filter="url(#b2)"/>
<polygon points="187,460 195,451 203,444 211,436 219,430 227,433 235,442 231,452 223,458 213,464 201,468 191,468" fill="#589dd7" filter="url(#b2)"/>
<ellipse cx="247" cy="450" rx="6" ry="5" transform="rotate(0 247 450)" fill="#589dd7" filter="url(#b2)"/>
<polygon points="193,458 201,450 209,443 217,438 225,442 223,452 215,459 205,465 195,465" fill="#357ac3" filter="url(#b1_5)"/>
<ellipse cx="213" cy="452" rx="9" ry="4" transform="rotate(-35 213 452)" fill="#2465ad" filter="url(#b1_5)"/>
<ellipse cx="212.15" cy="471.98" rx="0.53" ry="0.68" fill="#15253a" fill-opacity="0.85"/>
<ellipse cx="191.75" cy="478.14" rx="0.77" ry="0.56" fill="#15253a" fill-opacity="0.85"/>
<ellipse cx="165.37" cy="469.21" rx="0.67" ry="0.83" fill="#15253a" fill-opacity="0.85"/>
<ellipse cx="197.41" cy="437.47" rx="0.76" ry="0.78" fill="#15253a" fill-opacity="0.85"/>
<ellipse cx="187.82" cy="441.7" rx="0.72" ry="0.78" fill="#15253a" fill-opacity="0.85"/>
<ellipse cx="187.56" cy="440.6" rx="0.54" ry="0.72" fill="#15253a" fill-opacity="0.85"/>
<ellipse cx="192.96" cy="476.54" rx="0.59" ry="0.81" fill="#15253a" fill-opacity="0.85"/>
<ellipse cx="192.59" cy="476.08" rx="0.71" ry="0.65" fill="#15253a" fill-opacity="0.85"/>
<ellipse cx="211.32" cy="471.75" rx="0.54" ry="0.76" fill="#15253a" fill-opacity="0.85"/>
<line x1="190.8" y1="479.8" x2="252.3" y2="414.3" stroke="#111" stroke-width="1.1"/>
</g>
<rect x="162.8" y="414.3" width="92.3" height="65.5" fill="none" stroke="#333" stroke-width="1"/>
<line x1="163.5" y1="479.8" x2="163.5" y2="485.3" stroke="#333" stroke-width="1"/>
<text x="163.5" y="494.5" text-anchor="middle" font-size="7.1" class="s" fill="#1a1a1a" font-family="Liberation Sans, Arial, sans-serif">&#8722;0.6</text>
<line x1="181.54" y1="479.8" x2="181.54" y2="485.3" stroke="#333" stroke-width="1"/>
<line x1="199.58" y1="479.8" x2="199.58" y2="485.3" stroke="#333" stroke-width="1"/>
<text x="199.58" y="494.5" text-anchor="middle" font-size="7.1" class="s" fill="#1a1a1a" font-family="Liberation Sans, Arial, sans-serif">&#8722;0.2</text>
<line x1="217.62" y1="479.8" x2="217.62" y2="485.3" stroke="#333" stroke-width="1"/>
<line x1="235.66" y1="479.8" x2="235.66" y2="485.3" stroke="#333" stroke-width="1"/>
<text x="235.66" y="494.5" text-anchor="middle" font-size="7.1" class="s" fill="#1a1a1a" font-family="Liberation Sans, Arial, sans-serif">0.2</text>
<line x1="253.7" y1="479.8" x2="253.7" y2="485.3" stroke="#333" stroke-width="1"/>
<text x="253.7" y="494.5" text-anchor="middle" font-size="7.1" class="s" fill="#1a1a1a" font-family="Liberation Sans, Arial, sans-serif">0.4</text>
<line x1="156.5" y1="479.2" x2="162.8" y2="479.2" stroke="#333" stroke-width="1"/>
<text transform="translate(156.5,479.2) rotate(-90)" text-anchor="middle" font-size="7.1" class="s" fill="#1a1a1a" font-family="Liberation Sans, Arial, sans-serif">&#8722;0.3</text>
<line x1="156.5" y1="469.62" x2="162.8" y2="469.62" stroke="#333" stroke-width="1"/>
<line x1="156.5" y1="460.03" x2="162.8" y2="460.03" stroke="#333" stroke-width="1"/>
<line x1="156.5" y1="450.45" x2="162.8" y2="450.45" stroke="#333" stroke-width="1"/>
<text transform="translate(156.5,450.45) rotate(-90)" text-anchor="middle" font-size="7.1" class="s" fill="#1a1a1a" font-family="Liberation Sans, Arial, sans-serif">0.0</text>
<line x1="156.5" y1="440.87" x2="162.8" y2="440.87" stroke="#333" stroke-width="1"/>
<line x1="156.5" y1="431.28" x2="162.8" y2="431.28" stroke="#333" stroke-width="1"/>
<text transform="translate(156.5,431.28) rotate(-90)" text-anchor="middle" font-size="7.1" class="s" fill="#1a1a1a" font-family="Liberation Sans, Arial, sans-serif">0.2</text>
<line x1="156.5" y1="421.7" x2="162.8" y2="421.7" stroke="#333" stroke-width="1"/>
<text x="208.95" y="504.3" text-anchor="middle" font-size="7.4" class="s" fill="#1a1a1a" font-family="Liberation Sans, Arial, sans-serif">%Del ER<tspan font-size="75%" baseline-shift="50%">+</tspan> <tspan font-size="85%">&#8211;</tspan> ER<tspan font-size="75%" baseline-shift="50%">&#8722;</tspan>, HER2<tspan font-size="75%" baseline-shift="50%">&#8722;</tspan></text>
<text x="208.95" y="514" text-anchor="middle" font-size="7.4" class="s" fill="#1a1a1a" font-family="Liberation Sans, Arial, sans-serif">TCGA</text>
<text transform="translate(137.8,447.05) rotate(-90)" text-anchor="middle" font-size="7.4" class="s" fill="#1a1a1a" font-family="Liberation Sans, Arial, sans-serif">%Del ER<tspan font-size="75%" baseline-shift="50%">+</tspan> <tspan font-size="85%">&#8211;</tspan> ER<tspan font-size="75%" baseline-shift="50%">&#8722;</tspan></text>
<text transform="translate(146.3,447.05) rotate(-90)" text-anchor="middle" font-size="7.4" class="s" fill="#1a1a1a" font-family="Liberation Sans, Arial, sans-serif">NeoALTTO</text>
<text x="235.1" y="465.7" text-anchor="middle" font-size="6.8" class="s" fill="#1a1a1a" font-family="Liberation Sans, Arial, sans-serif"><tspan font-style="italic">r</tspan> = 67%</text>
<text x="235.1" y="473.4" text-anchor="middle" font-size="6.8" class="s" fill="#1a1a1a" font-family="Liberation Sans, Arial, sans-serif">Slope = 0.5</text>
<text x="137.5" y="399.2" font-size="12.6" font-weight="bold" fill="#000" font-family="Liberation Sans, Arial, sans-serif">E</text>
<clipPath id="clipF"><rect x="294.8" y="414.3" width="92.3" height="65.5"/></clipPath>
<g clip-path="url(#clipF)">
<polygon points="297,452.4 303.4,445.2 313.7,440 324.1,436.9 334.5,432.7 340,426 346,417 353,416 360,426 366,438 366,447 362,455 351.4,461.6 339,466.8 326.1,464.8 315.7,462.7 301.3,459.6" fill="#c4ddf1" filter="url(#b2_5)"/>
<ellipse cx="376" cy="444" rx="10" ry="8.5" transform="rotate(-30 376 444)" fill="#c4ddf1" filter="url(#b2_5)"/>
<ellipse cx="306" cy="471" rx="12" ry="7" transform="rotate(-15 306 471)" fill="#c4ddf1" filter="url(#b2_5)"/>
<polygon points="299.1,452.4 305.4,447.2 315.7,442 326.1,438.9 336.5,434.7 342,428 348,419 352,418 358,428 364,440 364,446 360,453 349.4,459.6 339,464.8 326.1,462.8 315.7,460.7 303.3,457.6" fill="#94c3e7" filter="url(#b2)"/>
<ellipse cx="377" cy="444" rx="5" ry="4" transform="rotate(-30 377 444)" fill="#94c3e7" filter="url(#b2)"/>
<ellipse cx="306" cy="471" rx="6" ry="3.5" transform="rotate(-15 306 471)" fill="#94c3e7" filter="url(#b2)"/>
<polygon points="340,432 345,423 350,418 356,424 360,434 354,438 345,437" fill="#94c3e7" filter="url(#b2)"/>
<polygon points="303,452 312,446 322,442 334,438 344,434 350,430 356,436 358,445 352,452 342,458 330,460 318,458 306,455" fill="#589dd7" filter="url(#b2)"/>
<polygon points="312,450 322,445 334,441 345,438 353,440 352,448 343,455 330,457 318,455" fill="#357ac3" filter="url(#b1_5)"/>
<ellipse cx="340" cy="449" rx="8" ry="4.5" transform="rotate(-15 340 449)" fill="#2465ad" filter="url(#b1_5)"/>
<ellipse cx="309.44" cy="442.35" rx="0.74" ry="0.59" fill="#15253a" fill-opacity="0.85"/>
<ellipse cx="346.91" cy="417.47" rx="0.57" ry="0.54" fill="#15253a" fill-opacity="0.85"/>
<ellipse cx="346.56" cy="417.4" rx="0.58" ry="0.6" fill="#15253a" fill-opacity="0.85"/>
<ellipse cx="356.37" cy="421.96" rx="0.69" ry="0.73" fill="#15253a" fill-opacity="0.85"/>
<ellipse cx="356.57" cy="420.94" rx="0.71" ry="0.72" fill="#15253a" fill-opacity="0.85"/>
<ellipse cx="357.24" cy="421.21" rx="0.79" ry="0.73" fill="#15253a" fill-opacity="0.85"/>
<ellipse cx="318.44" cy="439.32" rx="0.55" ry="0.58" fill="#15253a" fill-opacity="0.85"/>
<ellipse cx="309.33" cy="459.84" rx="0.79" ry="0.72" fill="#15253a" fill-opacity="0.85"/>
<ellipse cx="344.18" cy="464.64" rx="0.59" ry="0.65" fill="#15253a" fill-opacity="0.85"/>
<ellipse cx="343.93" cy="465.02" rx="0.54" ry="0.55" fill="#15253a" fill-opacity="0.85"/>
<ellipse cx="350.68" cy="418.02" rx="0.7" ry="0.6" fill="#15253a" fill-opacity="0.85"/>
<ellipse cx="323.04" cy="436.74" rx="0.53" ry="0.51" fill="#15253a" fill-opacity="0.85"/>
<ellipse cx="358.85" cy="421.71" rx="0.8" ry="0.83" fill="#15253a" fill-opacity="0.85"/>
<ellipse cx="365.51" cy="447.39" rx="0.82" ry="0.78" fill="#15253a" fill-opacity="0.85"/>
<ellipse cx="365.82" cy="447.29" rx="0.6" ry="0.52" fill="#15253a" fill-opacity="0.85"/>
<ellipse cx="364.41" cy="447.24" rx="0.7" ry="0.52" fill="#15253a" fill-opacity="0.85"/>
<ellipse cx="345.08" cy="417.44" rx="0.75" ry="0.62" fill="#15253a" fill-opacity="0.85"/>
<ellipse cx="345.63" cy="417.24" rx="0.6" ry="0.65" fill="#15253a" fill-opacity="0.85"/>
<ellipse cx="345.9" cy="418.35" rx="0.73" ry="0.56" fill="#15253a" fill-opacity="0.85"/>
<ellipse cx="340.68" cy="424.11" rx="0.74" ry="0.81" fill="#15253a" fill-opacity="0.85"/>
<ellipse cx="340.7" cy="423.22" rx="0.76" ry="0.54" fill="#15253a" fill-opacity="0.85"/>
<ellipse cx="322.29" cy="438.69" rx="0.53" ry="0.72" fill="#15253a" fill-opacity="0.85"/>
<ellipse cx="357.26" cy="424.02" rx="0.66" ry="0.52" fill="#15253a" fill-opacity="0.85"/>
<ellipse cx="325.26" cy="435.55" rx="0.62" ry="0.62" fill="#15253a" fill-opacity="0.85"/>
<ellipse cx="324.4" cy="436.49" rx="0.75" ry="0.8" fill="#15253a" fill-opacity="0.85"/>
<ellipse cx="326.32" cy="435.23" rx="0.7" ry="0.65" fill="#15253a" fill-opacity="0.85"/>
<line x1="306.4" y1="479.8" x2="384.3" y2="414.3" stroke="#111" stroke-width="1.1"/>
</g>
<rect x="294.8" y="414.3" width="92.3" height="65.5" fill="none" stroke="#333" stroke-width="1"/>
<line x1="299.2" y1="479.8" x2="299.2" y2="485.3" stroke="#333" stroke-width="1"/>
<text x="299.2" y="494.5" text-anchor="middle" font-size="7.1" class="s" fill="#1a1a1a" font-family="Liberation Sans, Arial, sans-serif">&#8722;0.4</text>
<line x1="321.77" y1="479.8" x2="321.77" y2="485.3" stroke="#333" stroke-width="1"/>
<text x="321.77" y="494.5" text-anchor="middle" font-size="7.1" class="s" fill="#1a1a1a" font-family="Liberation Sans, Arial, sans-serif">&#8722;0.2</text>
<line x1="344.33" y1="479.8" x2="344.33" y2="485.3" stroke="#333" stroke-width="1"/>
<text x="344.33" y="494.5" text-anchor="middle" font-size="7.1" class="s" fill="#1a1a1a" font-family="Liberation Sans, Arial, sans-serif">0.0</text>
<line x1="366.9" y1="479.8" x2="366.9" y2="485.3" stroke="#333" stroke-width="1"/>
<text x="366.9" y="494.5" text-anchor="middle" font-size="7.1" class="s" fill="#1a1a1a" font-family="Liberation Sans, Arial, sans-serif">0.2</text>
<line x1="288.5" y1="475.9" x2="294.8" y2="475.9" stroke="#333" stroke-width="1"/>
<text transform="translate(288.5,475.9) rotate(-90)" text-anchor="middle" font-size="7.1" class="s" fill="#1a1a1a" font-family="Liberation Sans, Arial, sans-serif">&#8722;0.3</text>
<line x1="288.5" y1="466.32" x2="294.8" y2="466.32" stroke="#333" stroke-width="1"/>
<line x1="288.5" y1="456.73" x2="294.8" y2="456.73" stroke="#333" stroke-width="1"/>
<line x1="288.5" y1="447.15" x2="294.8" y2="447.15" stroke="#333" stroke-width="1"/>
<text transform="translate(288.5,447.15) rotate(-90)" text-anchor="middle" font-size="7.1" class="s" fill="#1a1a1a" font-family="Liberation Sans, Arial, sans-serif">0.0</text>
<line x1="288.5" y1="437.57" x2="294.8" y2="437.57" stroke="#333" stroke-width="1"/>
<line x1="288.5" y1="427.98" x2="294.8" y2="427.98" stroke="#333" stroke-width="1"/>
<text transform="translate(288.5,427.98) rotate(-90)" text-anchor="middle" font-size="7.1" class="s" fill="#1a1a1a" font-family="Liberation Sans, Arial, sans-serif">0.2</text>
<line x1="288.5" y1="418.4" x2="294.8" y2="418.4" stroke="#333" stroke-width="1"/>
<text x="340.95" y="504.3" text-anchor="middle" font-size="7.4" class="s" fill="#1a1a1a" font-family="Liberation Sans, Arial, sans-serif">%Gain ER<tspan font-size="75%" baseline-shift="50%">+</tspan> <tspan font-size="85%">&#8211;</tspan> ER<tspan font-size="75%" baseline-shift="50%">&#8722;</tspan>, HER2<tspan font-size="75%" baseline-shift="50%">&#8722;</tspan></text>
<text x="340.95" y="514" text-anchor="middle" font-size="7.4" class="s" fill="#1a1a1a" font-family="Liberation Sans, Arial, sans-serif">METABRIC</text>
<text transform="translate(269.8,447.05) rotate(-90)" text-anchor="middle" font-size="7.4" class="s" fill="#1a1a1a" font-family="Liberation Sans, Arial, sans-serif">%Gain ER<tspan font-size="75%" baseline-shift="50%">+</tspan> <tspan font-size="85%">&#8211;</tspan> ER<tspan font-size="75%" baseline-shift="50%">&#8722;</tspan></text>
<text transform="translate(278.3,447.05) rotate(-90)" text-anchor="middle" font-size="7.4" class="s" fill="#1a1a1a" font-family="Liberation Sans, Arial, sans-serif">NeoALTTO</text>
<text x="367.1" y="465.7" text-anchor="middle" font-size="6.8" class="s" fill="#1a1a1a" font-family="Liberation Sans, Arial, sans-serif"><tspan font-style="italic">r</tspan> = 47%</text>
<text x="367.1" y="473.4" text-anchor="middle" font-size="6.8" class="s" fill="#1a1a1a" font-family="Liberation Sans, Arial, sans-serif">Slope = 0.49</text>
<text x="267.3" y="399.2" font-size="12.6" font-weight="bold" fill="#000" font-family="Liberation Sans, Arial, sans-serif">F</text>
<clipPath id="clipG"><rect x="426.6" y="414.3" width="92.3" height="65.5"/></clipPath>
<g clip-path="url(#clipG)">
<polygon points="428,461 435,453 446,446 456,440 466,436 472,430 476,418 490,414.5 500,418 499,437 492,446 486,455 490,463 478,468 460,473 448,477 428,479" fill="#c4ddf1" filter="url(#b2_5)"/>
<ellipse cx="506" cy="448" rx="11" ry="9" transform="rotate(0 506 448)" fill="#c4ddf1" filter="url(#b2_5)"/>
<polygon points="431,463 438,455.5 448,448.2 458,442 468.5,437.9 475,432 480,421 490,418 496,421 495,436 488,445 482,455 484,461 476,464 460,469 448,473 431,475" fill="#94c3e7" filter="url(#b2)"/>
<ellipse cx="486" cy="426" rx="11" ry="8" transform="rotate(-30 486 426)" fill="#94c3e7" filter="url(#b2)"/>
<polygon points="440,462 448,454 458,447 468,442 476,436 482,428 490,425 492,435 486,446 480,455 470,461 458,466 446,469" fill="#589dd7" filter="url(#b2)"/>
<polygon points="455,457 462,449 470,444 478,440 484,443 480,452 472,457 462,460" fill="#357ac3" filter="url(#b1_5)"/>
<ellipse cx="474" cy="449" rx="8" ry="4" transform="rotate(-38 474 449)" fill="#2465ad" filter="url(#b1_5)"/>
<ellipse cx="466.66" cy="435.04" rx="0.76" ry="0.79" fill="#15253a" fill-opacity="0.85"/>
<ellipse cx="467.55" cy="434.62" rx="0.78" ry="0.73" fill="#15253a" fill-opacity="0.85"/>
<ellipse cx="473.73" cy="424.58" rx="0.69" ry="0.63" fill="#15253a" fill-opacity="0.85"/>
<ellipse cx="450.72" cy="476.88" rx="0.72" ry="0.84" fill="#15253a" fill-opacity="0.85"/>
<ellipse cx="477.39" cy="466.96" rx="0.63" ry="0.64" fill="#15253a" fill-opacity="0.85"/>
<ellipse cx="474.86" cy="424.27" rx="0.61" ry="0.83" fill="#15253a" fill-opacity="0.85"/>
<ellipse cx="434.79" cy="451.52" rx="0.54" ry="0.59" fill="#15253a" fill-opacity="0.85"/>
<ellipse cx="435.11" cy="452.13" rx="0.58" ry="0.76" fill="#15253a" fill-opacity="0.85"/>
<ellipse cx="461.26" cy="472.42" rx="0.75" ry="0.84" fill="#15253a" fill-opacity="0.85"/>
<ellipse cx="460.85" cy="471.45" rx="0.74" ry="0.58" fill="#15253a" fill-opacity="0.85"/>
<ellipse cx="469.05" cy="431.52" rx="0.51" ry="0.64" fill="#15253a" fill-opacity="0.85"/>
<ellipse cx="460.12" cy="472.39" rx="0.84" ry="0.74" fill="#15253a" fill-opacity="0.85"/>
<ellipse cx="459.34" cy="472.16" rx="0.84" ry="0.59" fill="#15253a" fill-opacity="0.85"/>
<ellipse cx="459.31" cy="472.29" rx="0.77" ry="0.56" fill="#15253a" fill-opacity="0.85"/>
<ellipse cx="493.55" cy="444.09" rx="0.77" ry="0.68" fill="#15253a" fill-opacity="0.85"/>
<ellipse cx="492.84" cy="443.1" rx="0.71" ry="0.6" fill="#15253a" fill-opacity="0.85"/>
<ellipse cx="453.1" cy="475.25" rx="0.68" ry="0.78" fill="#15253a" fill-opacity="0.85"/>
<ellipse cx="470.81" cy="470.14" rx="0.73" ry="0.81" fill="#15253a" fill-opacity="0.85"/>
<ellipse cx="471.62" cy="470.37" rx="0.56" ry="0.8" fill="#15253a" fill-opacity="0.85"/>
<ellipse cx="472.97" cy="422.33" rx="0.82" ry="0.8" fill="#15253a" fill-opacity="0.85"/>
<ellipse cx="499.19" cy="439.98" rx="0.71" ry="0.68" fill="#15253a" fill-opacity="0.85"/>
<ellipse cx="463.39" cy="472.75" rx="0.68" ry="0.52" fill="#15253a" fill-opacity="0.85"/>
<line x1="448.8" y1="479.8" x2="512.3" y2="414.3" stroke="#111" stroke-width="1.1"/>
</g>
<rect x="426.6" y="414.3" width="92.3" height="65.5" fill="none" stroke="#333" stroke-width="1"/>
<line x1="439.9" y1="479.8" x2="439.9" y2="485.3" stroke="#333" stroke-width="1"/>
<text x="439.9" y="494.5" text-anchor="middle" font-size="7.1" class="s" fill="#1a1a1a" font-family="Liberation Sans, Arial, sans-serif">&#8722;0.4</text>
<line x1="458.65" y1="479.8" x2="458.65" y2="485.3" stroke="#333" stroke-width="1"/>
<line x1="477.4" y1="479.8" x2="477.4" y2="485.3" stroke="#333" stroke-width="1"/>
<text x="477.4" y="494.5" text-anchor="middle" font-size="7.1" class="s" fill="#1a1a1a" font-family="Liberation Sans, Arial, sans-serif">0.0</text>
<line x1="496.15" y1="479.8" x2="496.15" y2="485.3" stroke="#333" stroke-width="1"/>
<text x="496.15" y="494.5" text-anchor="middle" font-size="7.1" class="s" fill="#1a1a1a" font-family="Liberation Sans, Arial, sans-serif">0.2</text>
<line x1="514.9" y1="479.8" x2="514.9" y2="485.3" stroke="#333" stroke-width="1"/>
<text x="514.9" y="494.5" text-anchor="middle" font-size="7.1" class="s" fill="#1a1a1a" font-family="Liberation Sans, Arial, sans-serif">0.4</text>
<line x1="420.3" y1="479.2" x2="426.6" y2="479.2" stroke="#333" stroke-width="1"/>
<text transform="translate(420.3,479.2) rotate(-90)" text-anchor="middle" font-size="7.1" class="s" fill="#1a1a1a" font-family="Liberation Sans, Arial, sans-serif">&#8722;0.3</text>
<line x1="420.3" y1="469.62" x2="426.6" y2="469.62" stroke="#333" stroke-width="1"/>
<line x1="420.3" y1="460.03" x2="426.6" y2="460.03" stroke="#333" stroke-width="1"/>
<line x1="420.3" y1="450.45" x2="426.6" y2="450.45" stroke="#333" stroke-width="1"/>
<text transform="translate(420.3,450.45) rotate(-90)" text-anchor="middle" font-size="7.1" class="s" fill="#1a1a1a" font-family="Liberation Sans, Arial, sans-serif">0.0</text>
<line x1="420.3" y1="440.87" x2="426.6" y2="440.87" stroke="#333" stroke-width="1"/>
<line x1="420.3" y1="431.28" x2="426.6" y2="431.28" stroke="#333" stroke-width="1"/>
<text transform="translate(420.3,431.28) rotate(-90)" text-anchor="middle" font-size="7.1" class="s" fill="#1a1a1a" font-family="Liberation Sans, Arial, sans-serif">0.2</text>
<line x1="420.3" y1="421.7" x2="426.6" y2="421.7" stroke="#333" stroke-width="1"/>
<text x="472.75" y="504.3" text-anchor="middle" font-size="7.4" class="s" fill="#1a1a1a" font-family="Liberation Sans, Arial, sans-serif">%Del ER<tspan font-size="75%" baseline-shift="50%">+</tspan> <tspan font-size="85%">&#8211;</tspan> ER<tspan font-size="75%" baseline-shift="50%">&#8722;</tspan>, HER2<tspan font-size="75%" baseline-shift="50%">&#8722;</tspan></text>
<text x="472.75" y="514" text-anchor="middle" font-size="7.4" class="s" fill="#1a1a1a" font-family="Liberation Sans, Arial, sans-serif">METABRIC</text>
<text transform="translate(401.6,447.05) rotate(-90)" text-anchor="middle" font-size="7.4" class="s" fill="#1a1a1a" font-family="Liberation Sans, Arial, sans-serif">%Del ER<tspan font-size="75%" baseline-shift="50%">+</tspan> <tspan font-size="85%">&#8211;</tspan> ER<tspan font-size="75%" baseline-shift="50%">&#8722;</tspan></text>
<text transform="translate(410.1,447.05) rotate(-90)" text-anchor="middle" font-size="7.4" class="s" fill="#1a1a1a" font-family="Liberation Sans, Arial, sans-serif">NeoALTTO</text>
<text x="498.9" y="465.7" text-anchor="middle" font-size="6.8" class="s" fill="#1a1a1a" font-family="Liberation Sans, Arial, sans-serif"><tspan font-style="italic">r</tspan> = 67%</text>
<text x="498.9" y="473.4" text-anchor="middle" font-size="6.8" class="s" fill="#1a1a1a" font-family="Liberation Sans, Arial, sans-serif">Slope = 0.59</text>
<text x="397.2" y="399.2" font-size="12.6" font-weight="bold" fill="#000" font-family="Liberation Sans, Arial, sans-serif">G</text>
<clipPath id="clipH"><rect x="31" y="535.5" width="92.3" height="65.7"/></clipPath>
<g clip-path="url(#clipH)">
<polygon points="31,566 40,561 52,559 62,555 72,550 82,546 92,544 100,543 112,542 117,549 110,559 102,566 92,574 82,582 74,593 62,595 50,591 39,587 31,581" fill="#c4ddf1" filter="url(#b2_5)"/>
<ellipse cx="115" cy="542" rx="8" ry="6" transform="rotate(0 115 542)" fill="#c4ddf1" filter="url(#b2_5)"/>
<polygon points="33,568 41,563 52,561 62,557 72,552 82,548 92,546 100,545 110,545 114,550 108,557 100,564 90,572 80,580 72,590 62,592 50,588 40,584 33,579" fill="#94c3e7" filter="url(#b2)"/>
<polygon points="36,572 46,567 56,564 66,560 76,555 86,551 96,549 104,550 102,556 94,563 84,570 74,578 64,584 52,584 40,580" fill="#589dd7" filter="url(#b2)"/>
<polygon points="52,574 62,568 72,562 82,557 92,554 96,557 90,564 80,571 70,577 58,579" fill="#357ac3" filter="url(#b1_5)"/>
<ellipse cx="76" cy="567" rx="11" ry="4.5" transform="rotate(-28 76 567)" fill="#2465ad" filter="url(#b1_5)"/>
<ellipse cx="75.98" cy="589.23" rx="0.55" ry="0.59" fill="#15253a" fill-opacity="0.85"/>
<ellipse cx="48.49" cy="589.99" rx="0.71" ry="0.52" fill="#15253a" fill-opacity="0.85"/>
<ellipse cx="101.5" cy="566.73" rx="0.69" ry="0.54" fill="#15253a" fill-opacity="0.85"/>
<ellipse cx="112.34" cy="541.07" rx="0.74" ry="0.63" fill="#15253a" fill-opacity="0.85"/>
<ellipse cx="40.29" cy="586.23" rx="0.77" ry="0.66" fill="#15253a" fill-opacity="0.85"/>
<ellipse cx="40.89" cy="586.15" rx="0.53" ry="0.77" fill="#15253a" fill-opacity="0.85"/>
<ellipse cx="39.12" cy="586.05" rx="0.57" ry="0.55" fill="#15253a" fill-opacity="0.85"/>
<ellipse cx="37.71" cy="561.56" rx="0.8" ry="0.71" fill="#15253a" fill-opacity="0.85"/>
<ellipse cx="38.82" cy="560.9" rx="0.52" ry="0.82" fill="#15253a" fill-opacity="0.85"/>
<ellipse cx="34.82" cy="562.09" rx="0.77" ry="0.54" fill="#15253a" fill-opacity="0.85"/>
<ellipse cx="35.23" cy="561.38" rx="0.6" ry="0.67" fill="#15253a" fill-opacity="0.85"/>
<ellipse cx="34.08" cy="562.84" rx="0.81" ry="0.78" fill="#15253a" fill-opacity="0.85"/>
<ellipse cx="106.51" cy="560.69" rx="0.51" ry="0.67" fill="#15253a" fill-opacity="0.85"/>
<ellipse cx="113.82" cy="543.16" rx="0.52" ry="0.64" fill="#15253a" fill-opacity="0.85"/>
<ellipse cx="113.09" cy="542.88" rx="0.71" ry="0.69" fill="#15253a" fill-opacity="0.85"/>
<ellipse cx="98.19" cy="543.35" rx="0.8" ry="0.68" fill="#15253a" fill-opacity="0.85"/>
<ellipse cx="97.49" cy="543.44" rx="0.85" ry="0.53" fill="#15253a" fill-opacity="0.85"/>
<ellipse cx="98.72" cy="542.9" rx="0.73" ry="0.55" fill="#15253a" fill-opacity="0.85"/>
<ellipse cx="54.61" cy="593.54" rx="0.84" ry="0.79" fill="#15253a" fill-opacity="0.85"/>
<ellipse cx="55.56" cy="592.73" rx="0.75" ry="0.57" fill="#15253a" fill-opacity="0.85"/>
<ellipse cx="107.56" cy="559.98" rx="0.62" ry="0.54" fill="#15253a" fill-opacity="0.85"/>
<ellipse cx="108.49" cy="559.2" rx="0.54" ry="0.8" fill="#15253a" fill-opacity="0.85"/>
<ellipse cx="103.71" cy="541.75" rx="0.79" ry="0.78" fill="#15253a" fill-opacity="0.85"/>
<ellipse cx="96.46" cy="541.94" rx="0.63" ry="0.54" fill="#15253a" fill-opacity="0.85"/>
<ellipse cx="59.64" cy="593.49" rx="0.51" ry="0.8" fill="#15253a" fill-opacity="0.85"/>
<line x1="42.4" y1="601.2" x2="123.3" y2="541.6" stroke="#111" stroke-width="1.1"/>
</g>
<rect x="31" y="535.5" width="92.3" height="65.7" fill="none" stroke="#333" stroke-width="1"/>
<line x1="37.5" y1="601.2" x2="37.5" y2="606.7" stroke="#333" stroke-width="1"/>
<text x="37.5" y="615.9" text-anchor="middle" font-size="7.1" class="s" fill="#1a1a1a" font-family="Liberation Sans, Arial, sans-serif">&#8722;0.4</text>
<line x1="49.73" y1="601.2" x2="49.73" y2="606.7" stroke="#333" stroke-width="1"/>
<line x1="61.96" y1="601.2" x2="61.96" y2="606.7" stroke="#333" stroke-width="1"/>
<text x="61.96" y="615.9" text-anchor="middle" font-size="7.1" class="s" fill="#1a1a1a" font-family="Liberation Sans, Arial, sans-serif">&#8722;0.2</text>
<line x1="74.19" y1="601.2" x2="74.19" y2="606.7" stroke="#333" stroke-width="1"/>
<line x1="86.41" y1="601.2" x2="86.41" y2="606.7" stroke="#333" stroke-width="1"/>
<text x="86.41" y="615.9" text-anchor="middle" font-size="7.1" class="s" fill="#1a1a1a" font-family="Liberation Sans, Arial, sans-serif">0.0</text>
<line x1="98.64" y1="601.2" x2="98.64" y2="606.7" stroke="#333" stroke-width="1"/>
<line x1="110.87" y1="601.2" x2="110.87" y2="606.7" stroke="#333" stroke-width="1"/>
<text x="110.87" y="615.9" text-anchor="middle" font-size="7.1" class="s" fill="#1a1a1a" font-family="Liberation Sans, Arial, sans-serif">0.2</text>
<line x1="123.1" y1="601.2" x2="123.1" y2="606.7" stroke="#333" stroke-width="1"/>
<line x1="24.7" y1="595.3" x2="31" y2="595.3" stroke="#333" stroke-width="1"/>
<text transform="translate(24.7,595.3) rotate(-90)" text-anchor="middle" font-size="7.1" class="s" fill="#1a1a1a" font-family="Liberation Sans, Arial, sans-serif">&#8722;0.3</text>
<line x1="24.7" y1="586.3" x2="31" y2="586.3" stroke="#333" stroke-width="1"/>
<line x1="24.7" y1="577.3" x2="31" y2="577.3" stroke="#333" stroke-width="1"/>
<line x1="24.7" y1="568.3" x2="31" y2="568.3" stroke="#333" stroke-width="1"/>
<text transform="translate(24.7,568.3) rotate(-90)" text-anchor="middle" font-size="7.1" class="s" fill="#1a1a1a" font-family="Liberation Sans, Arial, sans-serif">0.0</text>
<line x1="24.7" y1="559.3" x2="31" y2="559.3" stroke="#333" stroke-width="1"/>
<line x1="24.7" y1="550.3" x2="31" y2="550.3" stroke="#333" stroke-width="1"/>
<text transform="translate(24.7,550.3) rotate(-90)" text-anchor="middle" font-size="7.1" class="s" fill="#1a1a1a" font-family="Liberation Sans, Arial, sans-serif">0.2</text>
<line x1="24.7" y1="541.3" x2="31" y2="541.3" stroke="#333" stroke-width="1"/>
<text x="77.15" y="625.7" text-anchor="middle" font-size="7.4" class="s" fill="#1a1a1a" font-family="Liberation Sans, Arial, sans-serif">%Gain ER<tspan font-size="75%" baseline-shift="50%">+</tspan> <tspan font-size="85%">&#8211;</tspan> ER<tspan font-size="75%" baseline-shift="50%">&#8722;</tspan>, HER2<tspan font-size="75%" baseline-shift="50%">&#8722;</tspan></text>
<text x="77.15" y="635.4" text-anchor="middle" font-size="7.4" class="s" fill="#1a1a1a" font-family="Liberation Sans, Arial, sans-serif">TCGA</text>
<text transform="translate(6,568.35) rotate(-90)" text-anchor="middle" font-size="7.4" class="s" fill="#1a1a1a" font-family="Liberation Sans, Arial, sans-serif">%Gain ER<tspan font-size="75%" baseline-shift="50%">+</tspan> <tspan font-size="85%">&#8211;</tspan> ER<tspan font-size="75%" baseline-shift="50%">&#8722;</tspan>, HER2<tspan font-size="75%" baseline-shift="50%">+</tspan></text>
<text transform="translate(14.5,568.35) rotate(-90)" text-anchor="middle" font-size="7.4" class="s" fill="#1a1a1a" font-family="Liberation Sans, Arial, sans-serif">TCGA</text>
<text x="103.3" y="587.1" text-anchor="middle" font-size="6.8" class="s" fill="#1a1a1a" font-family="Liberation Sans, Arial, sans-serif"><tspan font-style="italic">r</tspan> = 67%</text>
<text x="103.3" y="594.8" text-anchor="middle" font-size="6.8" class="s" fill="#1a1a1a" font-family="Liberation Sans, Arial, sans-serif">Slope = 0.64</text>
<text x="7.7" y="518.3" font-size="12.6" font-weight="bold" fill="#000" font-family="Liberation Sans, Arial, sans-serif">H</text>
<clipPath id="clipI"><rect x="162.8" y="535.5" width="92.3" height="65.7"/></clipPath>
<g clip-path="url(#clipI)">
<polygon points="163,581 175,578 177,579 182,569 188,560 192,551.7 200,546.5 210,543 215,535 252,535 254,548 244,558 243,571 230,580 217,590 206,595 196,597 186,599 163,601" fill="#c4ddf1" filter="url(#b2_5)"/>
<polygon points="165,583 175,580 178.6,581.7 183.7,571.3 190,562 194,553.7 202,548.5 212,545 217,537 250,537 252,548 242,556 241,569 228,578 215,588 204,593 194,595 184,597 165,599" fill="#94c3e7" filter="url(#b2)"/>
<ellipse cx="174" cy="590" rx="10" ry="7" transform="rotate(0 174 590)" fill="#94c3e7" filter="url(#b2)"/>
<polygon points="186,585 192,573 199,563 206,556 214,550 224,545 236,541 240,546 234,556 236,563 226,570 214,580 204,588 192,592" fill="#589dd7" filter="url(#b2)"/>
<ellipse cx="238" cy="543" rx="11" ry="5.5" transform="rotate(-15 238 543)" fill="#589dd7" filter="url(#b2)"/>
<ellipse cx="232" cy="563" rx="7" ry="5" transform="rotate(0 232 563)" fill="#589dd7" filter="url(#b2)"/>
<polygon points="195,580 200,568 206,559 214,552 222,549 228,553 222,563 214,572 206,580" fill="#357ac3" filter="url(#b1_5)"/>
<ellipse cx="212" cy="565" rx="10" ry="4.5" transform="rotate(-50 212 565)" fill="#2465ad" filter="url(#b1_5)"/>
<ellipse cx="167.18" cy="600.14" rx="0.81" ry="0.71" fill="#15253a" fill-opacity="0.85"/>
<ellipse cx="188.35" cy="559.28" rx="0.61" ry="0.56" fill="#15253a" fill-opacity="0.85"/>
<ellipse cx="179.67" cy="574.71" rx="0.59" ry="0.68" fill="#15253a" fill-opacity="0.85"/>
<ellipse cx="179.61" cy="574.97" rx="0.77" ry="0.64" fill="#15253a" fill-opacity="0.85"/>
<ellipse cx="179.09" cy="575.78" rx="0.75" ry="0.76" fill="#15253a" fill-opacity="0.85"/>
<ellipse cx="212.97" cy="537.15" rx="0.7" ry="0.75" fill="#15253a" fill-opacity="0.85"/>
<ellipse cx="213.96" cy="538.24" rx="0.52" ry="0.83" fill="#15253a" fill-opacity="0.85"/>
<ellipse cx="209.62" cy="544.32" rx="0.56" ry="0.82" fill="#15253a" fill-opacity="0.85"/>
<ellipse cx="253.82" cy="545.47" rx="0.7" ry="0.82" fill="#15253a" fill-opacity="0.85"/>
<ellipse cx="207.9" cy="593.58" rx="0.61" ry="0.52" fill="#15253a" fill-opacity="0.85"/>
<ellipse cx="177.61" cy="580.37" rx="0.76" ry="0.58" fill="#15253a" fill-opacity="0.85"/>
<ellipse cx="193.68" cy="549.49" rx="0.54" ry="0.62" fill="#15253a" fill-opacity="0.85"/>
<ellipse cx="193.77" cy="549.02" rx="0.64" ry="0.51" fill="#15253a" fill-opacity="0.85"/>
<ellipse cx="193.87" cy="550.38" rx="0.58" ry="0.84" fill="#15253a" fill-opacity="0.85"/>
<ellipse cx="169.47" cy="579.87" rx="0.66" ry="0.58" fill="#15253a" fill-opacity="0.85"/>
<ellipse cx="169.73" cy="578.75" rx="0.57" ry="0.83" fill="#15253a" fill-opacity="0.85"/>
<ellipse cx="168.52" cy="578.91" rx="0.55" ry="0.54" fill="#15253a" fill-opacity="0.85"/>
<ellipse cx="239.11" cy="573.63" rx="0.75" ry="0.83" fill="#15253a" fill-opacity="0.85"/>
<ellipse cx="187.46" cy="558.64" rx="0.7" ry="0.79" fill="#15253a" fill-opacity="0.85"/>
<ellipse cx="175.56" cy="578.7" rx="0.57" ry="0.5" fill="#15253a" fill-opacity="0.85"/>
<ellipse cx="175.92" cy="579.04" rx="0.72" ry="0.78" fill="#15253a" fill-opacity="0.85"/>
<ellipse cx="176.35" cy="579.17" rx="0.81" ry="0.6" fill="#15253a" fill-opacity="0.85"/>
<ellipse cx="243.86" cy="565.7" rx="0.84" ry="0.82" fill="#15253a" fill-opacity="0.85"/>
<ellipse cx="188.27" cy="558.93" rx="0.77" ry="0.83" fill="#15253a" fill-opacity="0.85"/>
<line x1="181.2" y1="601.2" x2="246.5" y2="535.5" stroke="#111" stroke-width="1.1"/>
</g>
<rect x="162.8" y="535.5" width="92.3" height="65.7" fill="none" stroke="#333" stroke-width="1"/>
<line x1="163.6" y1="601.2" x2="163.6" y2="606.7" stroke="#333" stroke-width="1"/>
<text x="163.6" y="615.9" text-anchor="middle" font-size="7.1" class="s" fill="#1a1a1a" font-family="Liberation Sans, Arial, sans-serif">&#8722;0.6</text>
<line x1="181.68" y1="601.2" x2="181.68" y2="606.7" stroke="#333" stroke-width="1"/>
<line x1="199.76" y1="601.2" x2="199.76" y2="606.7" stroke="#333" stroke-width="1"/>
<text x="199.76" y="615.9" text-anchor="middle" font-size="7.1" class="s" fill="#1a1a1a" font-family="Liberation Sans, Arial, sans-serif">&#8722;0.2</text>
<line x1="217.84" y1="601.2" x2="217.84" y2="606.7" stroke="#333" stroke-width="1"/>
<line x1="235.92" y1="601.2" x2="235.92" y2="606.7" stroke="#333" stroke-width="1"/>
<text x="235.92" y="615.9" text-anchor="middle" font-size="7.1" class="s" fill="#1a1a1a" font-family="Liberation Sans, Arial, sans-serif">0.2</text>
<line x1="254" y1="601.2" x2="254" y2="606.7" stroke="#333" stroke-width="1"/>
<text x="254" y="615.9" text-anchor="middle" font-size="7.1" class="s" fill="#1a1a1a" font-family="Liberation Sans, Arial, sans-serif">0.4</text>
<line x1="156.5" y1="593" x2="162.8" y2="593" stroke="#333" stroke-width="1"/>
<text transform="translate(156.5,593) rotate(-90)" text-anchor="middle" font-size="7.1" class="s" fill="#1a1a1a" font-family="Liberation Sans, Arial, sans-serif">&#8722;0.3</text>
<line x1="156.5" y1="583.67" x2="162.8" y2="583.67" stroke="#333" stroke-width="1"/>
<line x1="156.5" y1="574.33" x2="162.8" y2="574.33" stroke="#333" stroke-width="1"/>
<line x1="156.5" y1="565" x2="162.8" y2="565" stroke="#333" stroke-width="1"/>
<text transform="translate(156.5,565) rotate(-90)" text-anchor="middle" font-size="7.1" class="s" fill="#1a1a1a" font-family="Liberation Sans, Arial, sans-serif">0.0</text>
<line x1="156.5" y1="555.67" x2="162.8" y2="555.67" stroke="#333" stroke-width="1"/>
<line x1="156.5" y1="546.33" x2="162.8" y2="546.33" stroke="#333" stroke-width="1"/>
<text transform="translate(156.5,546.33) rotate(-90)" text-anchor="middle" font-size="7.1" class="s" fill="#1a1a1a" font-family="Liberation Sans, Arial, sans-serif">0.2</text>
<line x1="156.5" y1="537" x2="162.8" y2="537" stroke="#333" stroke-width="1"/>
<text x="208.95" y="625.7" text-anchor="middle" font-size="7.4" class="s" fill="#1a1a1a" font-family="Liberation Sans, Arial, sans-serif">%Del ER<tspan font-size="75%" baseline-shift="50%">+</tspan> <tspan font-size="85%">&#8211;</tspan> ER<tspan font-size="75%" baseline-shift="50%">&#8722;</tspan>, HER2<tspan font-size="75%" baseline-shift="50%">&#8722;</tspan></text>
<text x="208.95" y="635.4" text-anchor="middle" font-size="7.4" class="s" fill="#1a1a1a" font-family="Liberation Sans, Arial, sans-serif">TCGA</text>
<text transform="translate(137.8,568.35) rotate(-90)" text-anchor="middle" font-size="7.4" class="s" fill="#1a1a1a" font-family="Liberation Sans, Arial, sans-serif">%Del ER<tspan font-size="75%" baseline-shift="50%">+</tspan> <tspan font-size="85%">&#8211;</tspan> ER<tspan font-size="75%" baseline-shift="50%">&#8722;</tspan>, HER2<tspan font-size="75%" baseline-shift="50%">+</tspan></text>
<text transform="translate(146.3,568.35) rotate(-90)" text-anchor="middle" font-size="7.4" class="s" fill="#1a1a1a" font-family="Liberation Sans, Arial, sans-serif">TCGA</text>
<text x="235.1" y="587.1" text-anchor="middle" font-size="6.8" class="s" fill="#1a1a1a" font-family="Liberation Sans, Arial, sans-serif"><tspan font-style="italic">r</tspan> = 68%</text>
<text x="235.1" y="594.8" text-anchor="middle" font-size="6.8" class="s" fill="#1a1a1a" font-family="Liberation Sans, Arial, sans-serif">Slope = 0.73</text>
<text x="137.5" y="518.3" font-size="12.6" font-weight="bold" fill="#000" font-family="Liberation Sans, Arial, sans-serif">I</text>
<clipPath id="clipJ"><rect x="294.8" y="535.5" width="92.3" height="65.7"/></clipPath>
<g clip-path="url(#clipJ)">
<polygon points="295,584.8 299.2,567.2 308.6,559 318.9,553.7 329.3,547.5 342.8,539.2 349.4,537 364.9,538 370,545 384,539 386,552 368,556 359.7,563 353.4,571.2 347.2,578.5 341,585 333.3,593 322.9,600 308.6,600 297,596" fill="#c4ddf1" filter="url(#b2_5)"/>
<polygon points="297,584.8 301.2,569.2 310.6,561 320.9,555.7 331.3,549.5 344.8,541.2 349.4,539 362.9,541 368,546 380,542 382,551 366,554 357.7,561 351.4,569.2 345.2,576.5 339,583 331.3,591 320.9,598 310.6,598 301.2,594" fill="#94c3e7" filter="url(#b2)"/>
<ellipse cx="376" cy="546" rx="6" ry="4.5" transform="rotate(-20 376 546)" fill="#94c3e7" filter="url(#b2)"/>
<polygon points="306,582 310,572 318,564 328,557 338,550 348,545 357,545 359,552 351,562 345,572 337,582 327,590 315,592" fill="#589dd7" filter="url(#b2)"/>
<polygon points="322,578 328,568 336,561 344,555 350,553 352,560 346,570 338,578 330,584" fill="#357ac3" filter="url(#b1_5)"/>
<ellipse cx="341" cy="567" rx="8" ry="4.5" transform="rotate(-45 341 567)" fill="#2465ad" filter="url(#b1_5)"/>
<ellipse cx="327.56" cy="595.53" rx="0.62" ry="0.53" fill="#15253a" fill-opacity="0.85"/>
<ellipse cx="305.18" cy="562.32" rx="0.64" ry="0.71" fill="#15253a" fill-opacity="0.85"/>
<ellipse cx="333.66" cy="545.24" rx="0.81" ry="0.56" fill="#15253a" fill-opacity="0.85"/>
<ellipse cx="357.35" cy="566.55" rx="0.57" ry="0.56" fill="#15253a" fill-opacity="0.85"/>
<ellipse cx="303.29" cy="596.91" rx="0.81" ry="0.68" fill="#15253a" fill-opacity="0.85"/>
<ellipse cx="342.33" cy="538.08" rx="0.78" ry="0.55" fill="#15253a" fill-opacity="0.85"/>
<ellipse cx="341.89" cy="537.9" rx="0.64" ry="0.77" fill="#15253a" fill-opacity="0.85"/>
<ellipse cx="343.24" cy="537.68" rx="0.64" ry="0.68" fill="#15253a" fill-opacity="0.85"/>
<ellipse cx="361.16" cy="537.59" rx="0.63" ry="0.67" fill="#15253a" fill-opacity="0.85"/>
<ellipse cx="321.36" cy="551.18" rx="0.55" ry="0.7" fill="#15253a" fill-opacity="0.85"/>
<ellipse cx="313.55" cy="557.92" rx="0.61" ry="0.69" fill="#15253a" fill-opacity="0.85"/>
<ellipse cx="384.64" cy="542.19" rx="0.54" ry="0.58" fill="#15253a" fill-opacity="0.85"/>
<ellipse cx="296.07" cy="591.36" rx="0.77" ry="0.8" fill="#15253a" fill-opacity="0.85"/>
<ellipse cx="296.48" cy="590.85" rx="0.67" ry="0.7" fill="#15253a" fill-opacity="0.85"/>
<ellipse cx="296.28" cy="591.7" rx="0.76" ry="0.69" fill="#15253a" fill-opacity="0.85"/>
<ellipse cx="368.37" cy="541.29" rx="0.5" ry="0.78" fill="#15253a" fill-opacity="0.85"/>
<ellipse cx="358.8" cy="566" rx="0.67" ry="0.71" fill="#15253a" fill-opacity="0.85"/>
<ellipse cx="359.03" cy="566.89" rx="0.74" ry="0.73" fill="#15253a" fill-opacity="0.85"/>
<ellipse cx="359.15" cy="565.16" rx="0.62" ry="0.53" fill="#15253a" fill-opacity="0.85"/>
<ellipse cx="351.28" cy="572.95" rx="0.57" ry="0.83" fill="#15253a" fill-opacity="0.85"/>
<ellipse cx="301.25" cy="562.97" rx="0.81" ry="0.6" fill="#15253a" fill-opacity="0.85"/>
<line x1="316" y1="601.2" x2="374.7" y2="535.5" stroke="#111" stroke-width="1.1"/>
</g>
<rect x="294.8" y="535.5" width="92.3" height="65.7" fill="none" stroke="#333" stroke-width="1"/>
<line x1="299.2" y1="601.2" x2="299.2" y2="606.7" stroke="#333" stroke-width="1"/>
<text x="299.2" y="615.9" text-anchor="middle" font-size="7.1" class="s" fill="#1a1a1a" font-family="Liberation Sans, Arial, sans-serif">&#8722;0.4</text>
<line x1="321.77" y1="601.2" x2="321.77" y2="606.7" stroke="#333" stroke-width="1"/>
<text x="321.77" y="615.9" text-anchor="middle" font-size="7.1" class="s" fill="#1a1a1a" font-family="Liberation Sans, Arial, sans-serif">&#8722;0.2</text>
<line x1="344.33" y1="601.2" x2="344.33" y2="606.7" stroke="#333" stroke-width="1"/>
<text x="344.33" y="615.9" text-anchor="middle" font-size="7.1" class="s" fill="#1a1a1a" font-family="Liberation Sans, Arial, sans-serif">0.0</text>
<line x1="366.9" y1="601.2" x2="366.9" y2="606.7" stroke="#333" stroke-width="1"/>
<text x="366.9" y="615.9" text-anchor="middle" font-size="7.1" class="s" fill="#1a1a1a" font-family="Liberation Sans, Arial, sans-serif">0.2</text>
<line x1="288.5" y1="594.3" x2="294.8" y2="594.3" stroke="#333" stroke-width="1"/>
<text transform="translate(288.5,594.3) rotate(-90)" text-anchor="middle" font-size="7.1" class="s" fill="#1a1a1a" font-family="Liberation Sans, Arial, sans-serif">&#8722;0.2</text>
<line x1="288.5" y1="581.82" x2="294.8" y2="581.82" stroke="#333" stroke-width="1"/>
<line x1="288.5" y1="569.35" x2="294.8" y2="569.35" stroke="#333" stroke-width="1"/>
<text transform="translate(288.5,569.35) rotate(-90)" text-anchor="middle" font-size="7.1" class="s" fill="#1a1a1a" font-family="Liberation Sans, Arial, sans-serif">0.0</text>
<line x1="288.5" y1="556.88" x2="294.8" y2="556.88" stroke="#333" stroke-width="1"/>
<line x1="288.5" y1="544.4" x2="294.8" y2="544.4" stroke="#333" stroke-width="1"/>
<text transform="translate(288.5,544.4) rotate(-90)" text-anchor="middle" font-size="7.1" class="s" fill="#1a1a1a" font-family="Liberation Sans, Arial, sans-serif">0.2</text>
<text x="340.95" y="625.7" text-anchor="middle" font-size="7.4" class="s" fill="#1a1a1a" font-family="Liberation Sans, Arial, sans-serif">%Gain ER<tspan font-size="75%" baseline-shift="50%">+</tspan> <tspan font-size="85%">&#8211;</tspan> ER<tspan font-size="75%" baseline-shift="50%">&#8722;</tspan>, HER2<tspan font-size="75%" baseline-shift="50%">&#8722;</tspan></text>
<text x="340.95" y="635.4" text-anchor="middle" font-size="7.4" class="s" fill="#1a1a1a" font-family="Liberation Sans, Arial, sans-serif">METABRIC</text>
<text transform="translate(269.8,568.35) rotate(-90)" text-anchor="middle" font-size="7.4" class="s" fill="#1a1a1a" font-family="Liberation Sans, Arial, sans-serif">%Gain ER<tspan font-size="75%" baseline-shift="50%">+</tspan> <tspan font-size="85%">&#8211;</tspan> ER<tspan font-size="75%" baseline-shift="50%">&#8722;</tspan>, HER2<tspan font-size="75%" baseline-shift="50%">+</tspan></text>
<text transform="translate(278.3,568.35) rotate(-90)" text-anchor="middle" font-size="7.4" class="s" fill="#1a1a1a" font-family="Liberation Sans, Arial, sans-serif">METABRIC</text>
<text x="367.1" y="587.1" text-anchor="middle" font-size="6.8" class="s" fill="#1a1a1a" font-family="Liberation Sans, Arial, sans-serif"><tspan font-style="italic">r</tspan> = 59%</text>
<text x="367.1" y="594.8" text-anchor="middle" font-size="6.8" class="s" fill="#1a1a1a" font-family="Liberation Sans, Arial, sans-serif">Slope = 0.63</text>
<text x="267.3" y="518.3" font-size="12.6" font-weight="bold" fill="#000" font-family="Liberation Sans, Arial, sans-serif">J</text>
<clipPath id="clipK"><rect x="426.6" y="535.5" width="92.3" height="65.7"/></clipPath>
<g clip-path="url(#clipK)">
<polygon points="430,589 440.4,569.2 446.7,561 457,557.8 465.3,550.6 471.6,545.4 477,538 501,537 503,552 497.8,565 487.4,580.5 480.2,586.7 473.5,588 463,591 457,602 430,603" fill="#c4ddf1" filter="url(#b2_5)"/>
<ellipse cx="508" cy="542" rx="10" ry="6" transform="rotate(0 508 542)" fill="#c4ddf1" filter="url(#b2_5)"/>
<polygon points="432,589 442.4,571.2 448.7,563 459,559.8 467.3,552.6 473.6,547.4 479,540 499,539 501,552 495.8,563 485.4,578.5 478.2,584.7 471.5,586 461,589 455,600 432,601" fill="#94c3e7" filter="url(#b2)"/>
<ellipse cx="506" cy="541" rx="10" ry="5" transform="rotate(0 506 541)" fill="#94c3e7" filter="url(#b2)"/>
<ellipse cx="440" cy="592" rx="12" ry="6" transform="rotate(-15 440 592)" fill="#94c3e7" filter="url(#b2)"/>
<polygon points="447,583 452,571 461,564 471,557 479,549 489,545 497,548 495,559 487,569 479,577 469,583 457,588" fill="#589dd7" filter="url(#b2)"/>
<ellipse cx="486" cy="545" rx="8" ry="6" transform="rotate(0 486 545)" fill="#589dd7" filter="url(#b2)"/>
<polygon points="458,578 465,569 473,562 481,556 487,555 487,563 481,571 473,577 465,581" fill="#357ac3" filter="url(#b1_5)"/>
<ellipse cx="477" cy="569" rx="8" ry="4" transform="rotate(-45 477 569)" fill="#2465ad" filter="url(#b1_5)"/>
<ellipse cx="468.1" cy="589.77" rx="0.74" ry="0.83" fill="#15253a" fill-opacity="0.85"/>
<ellipse cx="467.37" cy="590.53" rx="0.58" ry="0.56" fill="#15253a" fill-opacity="0.85"/>
<ellipse cx="468.18" cy="589.42" rx="0.51" ry="0.52" fill="#15253a" fill-opacity="0.85"/>
<ellipse cx="447.69" cy="561.34" rx="0.72" ry="0.75" fill="#15253a" fill-opacity="0.85"/>
<ellipse cx="447.89" cy="560.34" rx="0.77" ry="0.62" fill="#15253a" fill-opacity="0.85"/>
<ellipse cx="460.7" cy="596.26" rx="0.52" ry="0.7" fill="#15253a" fill-opacity="0.85"/>
<ellipse cx="431.37" cy="590.73" rx="0.7" ry="0.61" fill="#15253a" fill-opacity="0.85"/>
<ellipse cx="452.04" cy="561.04" rx="0.58" ry="0.78" fill="#15253a" fill-opacity="0.85"/>
<ellipse cx="474.2" cy="542.2" rx="0.65" ry="0.85" fill="#15253a" fill-opacity="0.85"/>
<ellipse cx="460.45" cy="554.29" rx="0.85" ry="0.57" fill="#15253a" fill-opacity="0.85"/>
<ellipse cx="497.25" cy="562.05" rx="0.58" ry="0.85" fill="#15253a" fill-opacity="0.85"/>
<ellipse cx="497.61" cy="562.08" rx="0.79" ry="0.83" fill="#15253a" fill-opacity="0.85"/>
<ellipse cx="446.84" cy="561.42" rx="0.85" ry="0.79" fill="#15253a" fill-opacity="0.85"/>
<ellipse cx="445.75" cy="561.96" rx="0.54" ry="0.62" fill="#15253a" fill-opacity="0.85"/>
<ellipse cx="445.77" cy="562.7" rx="0.62" ry="0.72" fill="#15253a" fill-opacity="0.85"/>
<ellipse cx="478.03" cy="588.62" rx="0.67" ry="0.6" fill="#15253a" fill-opacity="0.85"/>
<ellipse cx="460.41" cy="595.12" rx="0.61" ry="0.73" fill="#15253a" fill-opacity="0.85"/>
<ellipse cx="430.07" cy="594.57" rx="0.61" ry="0.51" fill="#15253a" fill-opacity="0.85"/>
<ellipse cx="431.16" cy="593.54" rx="0.51" ry="0.63" fill="#15253a" fill-opacity="0.85"/>
<ellipse cx="430.89" cy="594.62" rx="0.71" ry="0.64" fill="#15253a" fill-opacity="0.85"/>
<ellipse cx="485.97" cy="538.46" rx="0.55" ry="0.71" fill="#15253a" fill-opacity="0.85"/>
<ellipse cx="467.87" cy="550.53" rx="0.83" ry="0.71" fill="#15253a" fill-opacity="0.85"/>
<ellipse cx="468.55" cy="549.95" rx="0.68" ry="0.68" fill="#15253a" fill-opacity="0.85"/>
<line x1="450.8" y1="601.2" x2="507.5" y2="535.5" stroke="#111" stroke-width="1.1"/>
</g>
<rect x="426.6" y="535.5" width="92.3" height="65.7" fill="none" stroke="#333" stroke-width="1"/>
<line x1="439.9" y1="601.2" x2="439.9" y2="606.7" stroke="#333" stroke-width="1"/>
<text x="439.9" y="615.9" text-anchor="middle" font-size="7.1" class="s" fill="#1a1a1a" font-family="Liberation Sans, Arial, sans-serif">&#8722;0.4</text>
<line x1="458.65" y1="601.2" x2="458.65" y2="606.7" stroke="#333" stroke-width="1"/>
<line x1="477.4" y1="601.2" x2="477.4" y2="606.7" stroke="#333" stroke-width="1"/>
<text x="477.4" y="615.9" text-anchor="middle" font-size="7.1" class="s" fill="#1a1a1a" font-family="Liberation Sans, Arial, sans-serif">0.0</text>
<line x1="496.15" y1="601.2" x2="496.15" y2="606.7" stroke="#333" stroke-width="1"/>
<text x="496.15" y="615.9" text-anchor="middle" font-size="7.1" class="s" fill="#1a1a1a" font-family="Liberation Sans, Arial, sans-serif">0.2</text>
<line x1="514.9" y1="601.2" x2="514.9" y2="606.7" stroke="#333" stroke-width="1"/>
<text x="514.9" y="615.9" text-anchor="middle" font-size="7.1" class="s" fill="#1a1a1a" font-family="Liberation Sans, Arial, sans-serif">0.4</text>
<line x1="420.3" y1="593" x2="426.6" y2="593" stroke="#333" stroke-width="1"/>
<text transform="translate(420.3,593) rotate(-90)" text-anchor="middle" font-size="7.1" class="s" fill="#1a1a1a" font-family="Liberation Sans, Arial, sans-serif">&#8722;0.2</text>
<line x1="420.3" y1="582.02" x2="426.6" y2="582.02" stroke="#333" stroke-width="1"/>
<line x1="420.3" y1="571.04" x2="426.6" y2="571.04" stroke="#333" stroke-width="1"/>
<text transform="translate(420.3,571.04) rotate(-90)" text-anchor="middle" font-size="7.1" class="s" fill="#1a1a1a" font-family="Liberation Sans, Arial, sans-serif">0.0</text>
<line x1="420.3" y1="560.06" x2="426.6" y2="560.06" stroke="#333" stroke-width="1"/>
<line x1="420.3" y1="549.08" x2="426.6" y2="549.08" stroke="#333" stroke-width="1"/>
<text transform="translate(420.3,549.08) rotate(-90)" text-anchor="middle" font-size="7.1" class="s" fill="#1a1a1a" font-family="Liberation Sans, Arial, sans-serif">0.2</text>
<line x1="420.3" y1="538.1" x2="426.6" y2="538.1" stroke="#333" stroke-width="1"/>
<text x="472.75" y="625.7" text-anchor="middle" font-size="7.4" class="s" fill="#1a1a1a" font-family="Liberation Sans, Arial, sans-serif">%Del ER<tspan font-size="75%" baseline-shift="50%">+</tspan> <tspan font-size="85%">&#8211;</tspan> ER<tspan font-size="75%" baseline-shift="50%">&#8722;</tspan>, HER2<tspan font-size="75%" baseline-shift="50%">&#8722;</tspan></text>
<text x="472.75" y="635.4" text-anchor="middle" font-size="7.4" class="s" fill="#1a1a1a" font-family="Liberation Sans, Arial, sans-serif">METABRIC</text>
<text transform="translate(401.6,568.35) rotate(-90)" text-anchor="middle" font-size="7.4" class="s" fill="#1a1a1a" font-family="Liberation Sans, Arial, sans-serif">%Del ER<tspan font-size="75%" baseline-shift="50%">+</tspan> <tspan font-size="85%">&#8211;</tspan> ER<tspan font-size="75%" baseline-shift="50%">&#8722;</tspan>, HER2<tspan font-size="75%" baseline-shift="50%">+</tspan></text>
<text transform="translate(410.1,568.35) rotate(-90)" text-anchor="middle" font-size="7.4" class="s" fill="#1a1a1a" font-family="Liberation Sans, Arial, sans-serif">METABRIC</text>
<text x="498.9" y="587.1" text-anchor="middle" font-size="6.8" class="s" fill="#1a1a1a" font-family="Liberation Sans, Arial, sans-serif"><tspan font-style="italic">r</tspan> = 66%</text>
<text x="498.9" y="594.8" text-anchor="middle" font-size="6.8" class="s" fill="#1a1a1a" font-family="Liberation Sans, Arial, sans-serif">Slope = 0.64</text>
<text x="397.2" y="518.3" font-size="12.6" font-weight="bold" fill="#000" font-family="Liberation Sans, Arial, sans-serif">K</text>
</svg></body></html>
